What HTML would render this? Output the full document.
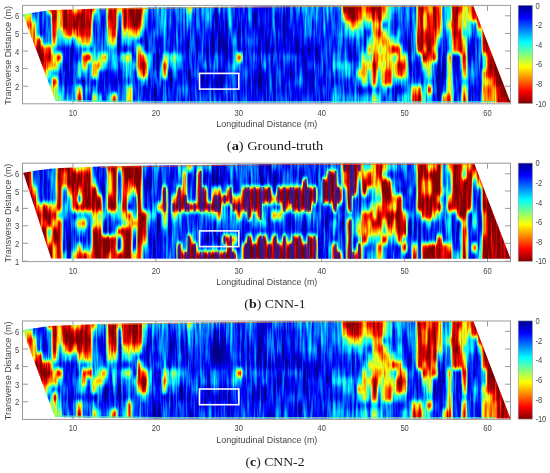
<!DOCTYPE html>
<html><head><meta charset="utf-8"><style>
html,body{margin:0;padding:0;background:#fff;width:550px;height:473px;overflow:hidden}
svg{display:block}
.t{font-family:"Liberation Sans",Arial,sans-serif;font-size:8.6px;fill:#444}
.l{font-family:"Liberation Sans",Arial,sans-serif;font-size:8.7px;fill:#444}
.cap{font-family:"Liberation Serif","Times New Roman",serif;font-size:13.2px;fill:#1a1a1a}
</style></head><body>
<svg width="550" height="473" viewBox="0 0 550 473">
<defs>
<linearGradient id="jet" x1="0" y1="0" x2="0" y2="1">
<stop offset="0" stop-color="#00008f"/><stop offset="0.125" stop-color="#0000ff"/>
<stop offset="0.375" stop-color="#00ffff"/><stop offset="0.625" stop-color="#ffff00"/>
<stop offset="0.875" stop-color="#ff0000"/><stop offset="1" stop-color="#800000"/>
</linearGradient>
<filter id="bl0" x="-2%" y="-5%" width="104%" height="110%" color-interpolation-filters="sRGB"><feGaussianBlur stdDeviation="1.3 2.2" result="b"/><feTurbulence type="fractalNoise" baseFrequency="0.42 0.03" numOctaves="2" seed="7" result="n"/><feColorMatrix in="n" type="matrix" values="1 0 0 0 0 1 0 0 0 0 1 0 0 0 0 0 0 0 0 1" result="ng"/><feComposite in="b" in2="ng" operator="arithmetic" k1="0" k2="1" k3="0.5" k4="-0.250" result="s"/><feComponentTransfer in="s"><feFuncR type="table" tableValues="0 0 0 0 0.5 1 1 1 0.5"/><feFuncG type="table" tableValues="0 0 0.5 1 1 1 0.5 0 0"/><feFuncB type="table" tableValues="0.5 1 1 1 0.5 0 0 0 0"/></feComponentTransfer></filter>
<filter id="bl1" x="-2%" y="-5%" width="104%" height="110%" color-interpolation-filters="sRGB"><feGaussianBlur stdDeviation="0.9 2.4" result="b"/><feTurbulence type="fractalNoise" baseFrequency="0.42 0.03" numOctaves="2" seed="11" result="n"/><feColorMatrix in="n" type="matrix" values="1 0 0 0 0 1 0 0 0 0 1 0 0 0 0 0 0 0 0 1" result="ng"/><feComposite in="b" in2="ng" operator="arithmetic" k1="0" k2="1" k3="0.5" k4="-0.250" result="s"/><feComponentTransfer in="s"><feFuncR type="table" tableValues="0 0 0 0 0.5 1 1 1 0.5"/><feFuncG type="table" tableValues="0 0 0.5 1 1 1 0.5 0 0"/><feFuncB type="table" tableValues="0.5 1 1 1 0.5 0 0 0 0"/></feComponentTransfer></filter>
<filter id="bl2" x="-2%" y="-5%" width="104%" height="110%" color-interpolation-filters="sRGB"><feGaussianBlur stdDeviation="1.3 2.2" result="b"/><feTurbulence type="fractalNoise" baseFrequency="0.42 0.03" numOctaves="2" seed="7" result="n"/><feColorMatrix in="n" type="matrix" values="1 0 0 0 0 1 0 0 0 0 1 0 0 0 0 0 0 0 0 1" result="ng"/><feComposite in="b" in2="ng" operator="arithmetic" k1="0" k2="1" k3="0.5" k4="-0.250" result="s"/><feComponentTransfer in="s"><feFuncR type="table" tableValues="0 0 0 0 0.5 1 1 1 0.5"/><feFuncG type="table" tableValues="0 0 0.5 1 1 1 0.5 0 0"/><feFuncB type="table" tableValues="0.5 1 1 1 0.5 0 0 0 0"/></feComponentTransfer></filter>
<clipPath id="cp0"><polygon points="22.8,14.2 36.4,12.3 49.5,10.3 61.0,9.8 74.0,9.4 100.0,8.5 150.0,7.6 200.0,7.0 300.0,5.9 473.3,5.8 510.6,102.6 160.0,102.6 100.0,102.0 55.5,101.1"/></clipPath>
<clipPath id="cp1"><polygon points="23.3,172.8 36.4,170.6 50.5,168.7 61.0,168.0 74.0,167.5 100.0,166.6 150.0,165.6 200.0,164.9 300.0,163.8 474.4,163.7 510.6,258.8 51.1,258.5"/></clipPath>
<clipPath id="cp2"><polygon points="22.7,330.1 36.4,328.1 49.5,326.0 61.0,325.4 74.0,325.0 100.0,324.0 150.0,323.0 200.0,322.4 300.0,321.2 473.3,320.9 510.5,418.6 160.0,418.6 100.0,417.8 54.8,417.0"/></clipPath>
</defs>
<rect x="22.5" y="5.4" width="488.0" height="98.39999999999999" fill="none" stroke="#999" stroke-width="1"/>
<line x1="22.5" y1="15.8" x2="28.0" y2="15.8" stroke="#999" stroke-width="1"/>
<line x1="510.5" y1="15.8" x2="505.0" y2="15.8" stroke="#999" stroke-width="1"/>
<text x="19.3" y="19.3" text-anchor="end" class="t" textLength="4.21" lengthAdjust="spacingAndGlyphs">6</text>
<line x1="22.5" y1="33.4" x2="28.0" y2="33.4" stroke="#999" stroke-width="1"/>
<line x1="510.5" y1="33.4" x2="505.0" y2="33.4" stroke="#999" stroke-width="1"/>
<text x="19.3" y="36.9" text-anchor="end" class="t" textLength="4.21" lengthAdjust="spacingAndGlyphs">5</text>
<line x1="22.5" y1="51.0" x2="28.0" y2="51.0" stroke="#999" stroke-width="1"/>
<line x1="510.5" y1="51.0" x2="505.0" y2="51.0" stroke="#999" stroke-width="1"/>
<text x="19.3" y="54.5" text-anchor="end" class="t" textLength="4.21" lengthAdjust="spacingAndGlyphs">4</text>
<line x1="22.5" y1="68.6" x2="28.0" y2="68.6" stroke="#999" stroke-width="1"/>
<line x1="510.5" y1="68.6" x2="505.0" y2="68.6" stroke="#999" stroke-width="1"/>
<text x="19.3" y="72.1" text-anchor="end" class="t" textLength="4.21" lengthAdjust="spacingAndGlyphs">3</text>
<line x1="22.5" y1="86.2" x2="28.0" y2="86.2" stroke="#999" stroke-width="1"/>
<line x1="510.5" y1="86.2" x2="505.0" y2="86.2" stroke="#999" stroke-width="1"/>
<text x="19.3" y="89.7" text-anchor="end" class="t" textLength="4.21" lengthAdjust="spacingAndGlyphs">2</text>
<line x1="73.0" y1="103.8" x2="73.0" y2="98.3" stroke="#999" stroke-width="1"/>
<line x1="73.0" y1="5.4" x2="73.0" y2="10.9" stroke="#999" stroke-width="1"/>
<text x="73.0" y="115.8" text-anchor="middle" class="t" textLength="8.42" lengthAdjust="spacingAndGlyphs">10</text>
<line x1="155.9" y1="103.8" x2="155.9" y2="98.3" stroke="#999" stroke-width="1"/>
<line x1="155.9" y1="5.4" x2="155.9" y2="10.9" stroke="#999" stroke-width="1"/>
<text x="155.9" y="115.8" text-anchor="middle" class="t" textLength="8.42" lengthAdjust="spacingAndGlyphs">20</text>
<line x1="238.8" y1="103.8" x2="238.8" y2="98.3" stroke="#999" stroke-width="1"/>
<line x1="238.8" y1="5.4" x2="238.8" y2="10.9" stroke="#999" stroke-width="1"/>
<text x="238.8" y="115.8" text-anchor="middle" class="t" textLength="8.42" lengthAdjust="spacingAndGlyphs">30</text>
<line x1="321.70000000000005" y1="103.8" x2="321.70000000000005" y2="98.3" stroke="#999" stroke-width="1"/>
<line x1="321.70000000000005" y1="5.4" x2="321.70000000000005" y2="10.9" stroke="#999" stroke-width="1"/>
<text x="321.7" y="115.8" text-anchor="middle" class="t" textLength="8.42" lengthAdjust="spacingAndGlyphs">40</text>
<line x1="404.6" y1="103.8" x2="404.6" y2="98.3" stroke="#999" stroke-width="1"/>
<line x1="404.6" y1="5.4" x2="404.6" y2="10.9" stroke="#999" stroke-width="1"/>
<text x="404.6" y="115.8" text-anchor="middle" class="t" textLength="8.42" lengthAdjust="spacingAndGlyphs">50</text>
<line x1="487.5" y1="103.8" x2="487.5" y2="98.3" stroke="#999" stroke-width="1"/>
<line x1="487.5" y1="5.4" x2="487.5" y2="10.9" stroke="#999" stroke-width="1"/>
<text x="487.5" y="115.8" text-anchor="middle" class="t" textLength="8.42" lengthAdjust="spacingAndGlyphs">60</text>
<text x="266.8" y="126.9" text-anchor="middle" class="l" textLength="101" lengthAdjust="spacingAndGlyphs">Longitudinal Distance (m)</text>
<text transform="translate(11.3,55.3) rotate(-90)" x="0" y="0" text-anchor="middle" class="l" textLength="98.7" lengthAdjust="spacingAndGlyphs">Transverse Distance (m)</text>
<rect x="518.2" y="5.3" width="14.2" height="98.2" fill="url(#jet)" stroke="#999" stroke-width="0.6"/>
<text x="535.4" y="8.6" class="t" textLength="4.21" lengthAdjust="spacingAndGlyphs">0</text>
<text x="535.4" y="28.2" class="t" textLength="6.73" lengthAdjust="spacingAndGlyphs">-2</text>
<text x="535.4" y="47.8" class="t" textLength="6.73" lengthAdjust="spacingAndGlyphs">-4</text>
<text x="535.4" y="67.4" class="t" textLength="6.73" lengthAdjust="spacingAndGlyphs">-6</text>
<text x="535.4" y="87.0" class="t" textLength="6.73" lengthAdjust="spacingAndGlyphs">-8</text>
<text x="535.4" y="106.6" class="t" textLength="10.94" lengthAdjust="spacingAndGlyphs">-10</text>
<text x="275" y="150.4" text-anchor="middle" class="cap" textLength="96.3" lengthAdjust="spacingAndGlyphs">(<tspan font-weight="bold">a</tspan>) Ground-truth</text><g clip-path="url(#cp0)"><g filter="url(#bl0)"><rect x="18.0" y="1.0" width="9.5" height="12.6" fill="#5c5c5c"/>
<rect x="18.0" y="13.1" width="9.5" height="8.6" fill="#808080"/>
<rect x="18.0" y="21.2" width="9.5" height="8.6" fill="#999999"/>
<rect x="18.0" y="29.2" width="9.5" height="24.8" fill="#b8b8b8"/>
<rect x="18.0" y="53.5" width="9.5" height="16.7" fill="#fbfbfb"/>
<rect x="18.0" y="69.7" width="9.5" height="8.6" fill="#e6e6e6"/>
<rect x="18.0" y="77.8" width="9.5" height="28.8" fill="#999999"/>
<rect x="27.0" y="1.0" width="5.5" height="12.6" fill="#333333"/>
<rect x="27.0" y="13.1" width="5.5" height="8.6" fill="#b8b8b8"/>
<rect x="27.0" y="21.2" width="5.5" height="8.6" fill="#e6e6e6"/>
<rect x="27.0" y="29.2" width="5.5" height="16.7" fill="#b8b8b8"/>
<rect x="27.0" y="45.4" width="5.5" height="24.8" fill="#fbfbfb"/>
<rect x="27.0" y="69.7" width="5.5" height="8.6" fill="#e6e6e6"/>
<rect x="27.0" y="77.8" width="5.5" height="28.8" fill="#999999"/>
<rect x="32.0" y="1.0" width="5.5" height="12.6" fill="#242424"/>
<rect x="32.0" y="13.1" width="5.5" height="8.6" fill="#454545"/>
<rect x="32.0" y="21.2" width="5.5" height="8.6" fill="#999999"/>
<rect x="32.0" y="29.2" width="5.5" height="16.7" fill="#b8b8b8"/>
<rect x="32.0" y="45.4" width="5.5" height="24.8" fill="#fbfbfb"/>
<rect x="32.0" y="69.7" width="5.5" height="8.6" fill="#e6e6e6"/>
<rect x="32.0" y="77.8" width="5.5" height="28.8" fill="#999999"/>
<rect x="37.0" y="1.0" width="5.5" height="36.8" fill="#242424"/>
<rect x="37.0" y="37.3" width="5.5" height="8.6" fill="#e6e6e6"/>
<rect x="37.0" y="45.4" width="5.5" height="24.8" fill="#fbfbfb"/>
<rect x="37.0" y="69.7" width="5.5" height="8.6" fill="#b8b8b8"/>
<rect x="37.0" y="77.8" width="5.5" height="28.8" fill="#999999"/>
<rect x="42.0" y="1.0" width="5.5" height="36.8" fill="#242424"/>
<rect x="42.0" y="37.3" width="5.5" height="8.6" fill="#454545"/>
<rect x="42.0" y="45.4" width="5.5" height="8.6" fill="#e6e6e6"/>
<rect x="42.0" y="53.5" width="5.5" height="8.6" fill="#fbfbfb"/>
<rect x="42.0" y="61.6" width="5.5" height="8.6" fill="#e6e6e6"/>
<rect x="42.0" y="69.7" width="5.5" height="8.6" fill="#b8b8b8"/>
<rect x="42.0" y="77.8" width="5.5" height="28.8" fill="#999999"/>
<rect x="47.0" y="1.0" width="5.5" height="12.6" fill="#e6e6e6"/>
<rect x="47.0" y="13.1" width="5.5" height="32.8" fill="#454545"/>
<rect x="47.0" y="45.4" width="5.5" height="8.6" fill="#e6e6e6"/>
<rect x="47.0" y="53.5" width="5.5" height="8.6" fill="#fbfbfb"/>
<rect x="47.0" y="61.6" width="5.5" height="8.6" fill="#b8b8b8"/>
<rect x="47.0" y="69.7" width="5.5" height="8.6" fill="#5c5c5c"/>
<rect x="47.0" y="77.8" width="5.5" height="8.6" fill="#242424"/>
<rect x="47.0" y="85.8" width="5.5" height="8.6" fill="#808080"/>
<rect x="47.0" y="93.9" width="5.5" height="12.6" fill="#999999"/>
<rect x="52.0" y="1.0" width="5.5" height="12.6" fill="#e6e6e6"/>
<rect x="52.0" y="13.1" width="5.5" height="8.6" fill="#fbfbfb"/>
<rect x="52.0" y="21.2" width="5.5" height="16.7" fill="#e6e6e6"/>
<rect x="52.0" y="37.3" width="5.5" height="8.6" fill="#b8b8b8"/>
<rect x="52.0" y="45.4" width="5.5" height="8.6" fill="#454545"/>
<rect x="52.0" y="53.5" width="5.5" height="8.6" fill="#999999"/>
<rect x="52.0" y="61.6" width="5.5" height="8.6" fill="#b8b8b8"/>
<rect x="52.0" y="69.7" width="5.5" height="8.6" fill="#333333"/>
<rect x="52.0" y="77.8" width="5.5" height="8.6" fill="#e6e6e6"/>
<rect x="52.0" y="85.8" width="5.5" height="20.7" fill="#999999"/>
<rect x="57.0" y="1.0" width="5.5" height="12.6" fill="#b8b8b8"/>
<rect x="57.0" y="13.1" width="5.5" height="16.7" fill="#999999"/>
<rect x="57.0" y="29.2" width="5.5" height="8.6" fill="#5c5c5c"/>
<rect x="57.0" y="37.3" width="5.5" height="8.6" fill="#454545"/>
<rect x="57.0" y="45.4" width="5.5" height="8.6" fill="#242424"/>
<rect x="57.0" y="53.5" width="5.5" height="8.6" fill="#e6e6e6"/>
<rect x="57.0" y="61.6" width="5.5" height="8.6" fill="#5c5c5c"/>
<rect x="57.0" y="69.7" width="5.5" height="8.6" fill="#333333"/>
<rect x="57.0" y="77.8" width="5.5" height="8.6" fill="#454545"/>
<rect x="57.0" y="85.8" width="5.5" height="8.6" fill="#5c5c5c"/>
<rect x="57.0" y="93.9" width="5.5" height="12.6" fill="#808080"/>
<rect x="62.0" y="1.0" width="5.5" height="12.6" fill="#e6e6e6"/>
<rect x="62.0" y="13.1" width="5.5" height="16.7" fill="#fbfbfb"/>
<rect x="62.0" y="29.2" width="5.5" height="8.6" fill="#b8b8b8"/>
<rect x="62.0" y="37.3" width="5.5" height="8.6" fill="#5c5c5c"/>
<rect x="62.0" y="45.4" width="5.5" height="16.7" fill="#242424"/>
<rect x="62.0" y="61.6" width="5.5" height="8.6" fill="#141414"/>
<rect x="62.0" y="69.7" width="5.5" height="16.7" fill="#242424"/>
<rect x="62.0" y="85.8" width="5.5" height="20.7" fill="#454545"/>
<rect x="67.0" y="1.0" width="5.5" height="12.6" fill="#e6e6e6"/>
<rect x="67.0" y="13.1" width="5.5" height="16.7" fill="#fbfbfb"/>
<rect x="67.0" y="29.2" width="5.5" height="8.6" fill="#e6e6e6"/>
<rect x="67.0" y="37.3" width="5.5" height="8.6" fill="#5c5c5c"/>
<rect x="67.0" y="45.4" width="5.5" height="40.9" fill="#141414"/>
<rect x="67.0" y="85.8" width="5.5" height="8.6" fill="#242424"/>
<rect x="67.0" y="93.9" width="5.5" height="12.6" fill="#454545"/>
<rect x="72.0" y="1.0" width="5.5" height="12.6" fill="#999999"/>
<rect x="72.0" y="13.1" width="5.5" height="8.6" fill="#e6e6e6"/>
<rect x="72.0" y="21.2" width="5.5" height="8.6" fill="#fbfbfb"/>
<rect x="72.0" y="29.2" width="5.5" height="8.6" fill="#b8b8b8"/>
<rect x="72.0" y="37.3" width="5.5" height="8.6" fill="#454545"/>
<rect x="72.0" y="45.4" width="5.5" height="16.7" fill="#242424"/>
<rect x="72.0" y="61.6" width="5.5" height="8.6" fill="#333333"/>
<rect x="72.0" y="69.7" width="5.5" height="16.7" fill="#242424"/>
<rect x="72.0" y="85.8" width="5.5" height="20.7" fill="#454545"/>
<rect x="77.0" y="1.0" width="5.5" height="12.6" fill="#b8b8b8"/>
<rect x="77.0" y="13.1" width="5.5" height="16.7" fill="#fbfbfb"/>
<rect x="77.0" y="29.2" width="5.5" height="8.6" fill="#e6e6e6"/>
<rect x="77.0" y="37.3" width="5.5" height="8.6" fill="#999999"/>
<rect x="77.0" y="45.4" width="5.5" height="8.6" fill="#454545"/>
<rect x="77.0" y="53.5" width="5.5" height="8.6" fill="#333333"/>
<rect x="77.0" y="61.6" width="5.5" height="16.7" fill="#5c5c5c"/>
<rect x="77.0" y="77.8" width="5.5" height="8.6" fill="#242424"/>
<rect x="77.0" y="85.8" width="5.5" height="8.6" fill="#b8b8b8"/>
<rect x="77.0" y="93.9" width="5.5" height="12.6" fill="#fbfbfb"/>
<rect x="82.0" y="1.0" width="5.5" height="12.6" fill="#e6e6e6"/>
<rect x="82.0" y="13.1" width="5.5" height="16.7" fill="#fbfbfb"/>
<rect x="82.0" y="29.2" width="5.5" height="8.6" fill="#e6e6e6"/>
<rect x="82.0" y="37.3" width="5.5" height="8.6" fill="#b8b8b8"/>
<rect x="82.0" y="45.4" width="5.5" height="8.6" fill="#333333"/>
<rect x="82.0" y="53.5" width="5.5" height="8.6" fill="#e6e6e6"/>
<rect x="82.0" y="61.6" width="5.5" height="8.6" fill="#b8b8b8"/>
<rect x="82.0" y="69.7" width="5.5" height="8.6" fill="#454545"/>
<rect x="82.0" y="77.8" width="5.5" height="8.6" fill="#242424"/>
<rect x="82.0" y="85.8" width="5.5" height="8.6" fill="#454545"/>
<rect x="82.0" y="93.9" width="5.5" height="12.6" fill="#333333"/>
<rect x="87.0" y="1.0" width="5.5" height="20.7" fill="#e6e6e6"/>
<rect x="87.0" y="21.2" width="5.5" height="8.6" fill="#fbfbfb"/>
<rect x="87.0" y="29.2" width="5.5" height="8.6" fill="#e6e6e6"/>
<rect x="87.0" y="37.3" width="5.5" height="8.6" fill="#b8b8b8"/>
<rect x="87.0" y="45.4" width="5.5" height="8.6" fill="#5c5c5c"/>
<rect x="87.0" y="53.5" width="5.5" height="8.6" fill="#fbfbfb"/>
<rect x="87.0" y="61.6" width="5.5" height="8.6" fill="#454545"/>
<rect x="87.0" y="69.7" width="5.5" height="8.6" fill="#333333"/>
<rect x="87.0" y="77.8" width="5.5" height="8.6" fill="#242424"/>
<rect x="87.0" y="85.8" width="5.5" height="8.6" fill="#333333"/>
<rect x="87.0" y="93.9" width="5.5" height="12.6" fill="#242424"/>
<rect x="92.0" y="1.0" width="5.5" height="12.6" fill="#b8b8b8"/>
<rect x="92.0" y="13.1" width="5.5" height="8.6" fill="#454545"/>
<rect x="92.0" y="21.2" width="5.5" height="16.7" fill="#242424"/>
<rect x="92.0" y="37.3" width="5.5" height="8.6" fill="#333333"/>
<rect x="92.0" y="45.4" width="5.5" height="8.6" fill="#454545"/>
<rect x="92.0" y="53.5" width="5.5" height="8.6" fill="#5c5c5c"/>
<rect x="92.0" y="61.6" width="5.5" height="16.7" fill="#b8b8b8"/>
<rect x="92.0" y="77.8" width="5.5" height="8.6" fill="#141414"/>
<rect x="92.0" y="85.8" width="5.5" height="8.6" fill="#454545"/>
<rect x="92.0" y="93.9" width="5.5" height="12.6" fill="#999999"/>
<rect x="97.0" y="1.0" width="5.5" height="20.7" fill="#454545"/>
<rect x="97.0" y="21.2" width="5.5" height="16.7" fill="#333333"/>
<rect x="97.0" y="37.3" width="5.5" height="16.7" fill="#454545"/>
<rect x="97.0" y="53.5" width="5.5" height="8.6" fill="#808080"/>
<rect x="97.0" y="61.6" width="5.5" height="8.6" fill="#b8b8b8"/>
<rect x="97.0" y="69.7" width="5.5" height="8.6" fill="#454545"/>
<rect x="97.0" y="77.8" width="5.5" height="8.6" fill="#333333"/>
<rect x="97.0" y="85.8" width="5.5" height="8.6" fill="#242424"/>
<rect x="97.0" y="93.9" width="5.5" height="12.6" fill="#5c5c5c"/>
<rect x="102.0" y="1.0" width="5.5" height="12.6" fill="#333333"/>
<rect x="102.0" y="13.1" width="5.5" height="32.8" fill="#242424"/>
<rect x="102.0" y="45.4" width="5.5" height="8.6" fill="#333333"/>
<rect x="102.0" y="53.5" width="5.5" height="8.6" fill="#b8b8b8"/>
<rect x="102.0" y="61.6" width="5.5" height="8.6" fill="#5c5c5c"/>
<rect x="102.0" y="69.7" width="5.5" height="16.7" fill="#141414"/>
<rect x="102.0" y="85.8" width="5.5" height="20.7" fill="#242424"/>
<rect x="107.0" y="1.0" width="5.5" height="12.6" fill="#e6e6e6"/>
<rect x="107.0" y="13.1" width="5.5" height="8.6" fill="#fbfbfb"/>
<rect x="107.0" y="21.2" width="5.5" height="8.6" fill="#e6e6e6"/>
<rect x="107.0" y="29.2" width="5.5" height="8.6" fill="#b8b8b8"/>
<rect x="107.0" y="37.3" width="5.5" height="8.6" fill="#999999"/>
<rect x="107.0" y="45.4" width="5.5" height="16.7" fill="#454545"/>
<rect x="107.0" y="61.6" width="5.5" height="8.6" fill="#333333"/>
<rect x="107.0" y="69.7" width="5.5" height="16.7" fill="#141414"/>
<rect x="107.0" y="85.8" width="5.5" height="8.6" fill="#242424"/>
<rect x="107.0" y="93.9" width="5.5" height="12.6" fill="#5c5c5c"/>
<rect x="112.0" y="1.0" width="5.5" height="28.8" fill="#fbfbfb"/>
<rect x="112.0" y="29.2" width="5.5" height="8.6" fill="#e6e6e6"/>
<rect x="112.0" y="37.3" width="5.5" height="8.6" fill="#999999"/>
<rect x="112.0" y="45.4" width="5.5" height="8.6" fill="#454545"/>
<rect x="112.0" y="53.5" width="5.5" height="16.7" fill="#5c5c5c"/>
<rect x="112.0" y="69.7" width="5.5" height="8.6" fill="#333333"/>
<rect x="112.0" y="77.8" width="5.5" height="8.6" fill="#242424"/>
<rect x="112.0" y="85.8" width="5.5" height="8.6" fill="#333333"/>
<rect x="112.0" y="93.9" width="5.5" height="12.6" fill="#e6e6e6"/>
<rect x="117.0" y="1.0" width="5.5" height="12.6" fill="#999999"/>
<rect x="117.0" y="13.1" width="5.5" height="8.6" fill="#333333"/>
<rect x="117.0" y="21.2" width="5.5" height="8.6" fill="#242424"/>
<rect x="117.0" y="29.2" width="5.5" height="24.8" fill="#141414"/>
<rect x="117.0" y="53.5" width="5.5" height="8.6" fill="#333333"/>
<rect x="117.0" y="61.6" width="5.5" height="8.6" fill="#242424"/>
<rect x="117.0" y="69.7" width="5.5" height="16.7" fill="#141414"/>
<rect x="117.0" y="85.8" width="5.5" height="8.6" fill="#242424"/>
<rect x="117.0" y="93.9" width="5.5" height="12.6" fill="#333333"/>
<rect x="122.0" y="1.0" width="5.5" height="28.8" fill="#e6e6e6"/>
<rect x="122.0" y="29.2" width="5.5" height="8.6" fill="#999999"/>
<rect x="122.0" y="37.3" width="5.5" height="8.6" fill="#5c5c5c"/>
<rect x="122.0" y="45.4" width="5.5" height="8.6" fill="#242424"/>
<rect x="122.0" y="53.5" width="5.5" height="8.6" fill="#999999"/>
<rect x="122.0" y="61.6" width="5.5" height="8.6" fill="#5c5c5c"/>
<rect x="122.0" y="69.7" width="5.5" height="8.6" fill="#454545"/>
<rect x="122.0" y="77.8" width="5.5" height="8.6" fill="#242424"/>
<rect x="122.0" y="85.8" width="5.5" height="8.6" fill="#333333"/>
<rect x="122.0" y="93.9" width="5.5" height="12.6" fill="#454545"/>
<rect x="127.0" y="1.0" width="5.5" height="20.7" fill="#fbfbfb"/>
<rect x="127.0" y="21.2" width="5.5" height="8.6" fill="#e6e6e6"/>
<rect x="127.0" y="29.2" width="5.5" height="8.6" fill="#999999"/>
<rect x="127.0" y="37.3" width="5.5" height="8.6" fill="#5c5c5c"/>
<rect x="127.0" y="45.4" width="5.5" height="8.6" fill="#242424"/>
<rect x="127.0" y="53.5" width="5.5" height="8.6" fill="#999999"/>
<rect x="127.0" y="61.6" width="5.5" height="16.7" fill="#5c5c5c"/>
<rect x="127.0" y="77.8" width="5.5" height="8.6" fill="#454545"/>
<rect x="127.0" y="85.8" width="5.5" height="20.7" fill="#b8b8b8"/>
<rect x="132.0" y="1.0" width="5.5" height="28.8" fill="#fbfbfb"/>
<rect x="132.0" y="29.2" width="5.5" height="8.6" fill="#b8b8b8"/>
<rect x="132.0" y="37.3" width="5.5" height="8.6" fill="#454545"/>
<rect x="132.0" y="45.4" width="5.5" height="8.6" fill="#333333"/>
<rect x="132.0" y="53.5" width="5.5" height="8.6" fill="#141414"/>
<rect x="132.0" y="61.6" width="5.5" height="8.6" fill="#454545"/>
<rect x="132.0" y="69.7" width="5.5" height="16.7" fill="#242424"/>
<rect x="132.0" y="85.8" width="5.5" height="20.7" fill="#333333"/>
<rect x="137.0" y="1.0" width="5.5" height="20.7" fill="#fbfbfb"/>
<rect x="137.0" y="21.2" width="5.5" height="8.6" fill="#e6e6e6"/>
<rect x="137.0" y="29.2" width="5.5" height="8.6" fill="#999999"/>
<rect x="137.0" y="37.3" width="5.5" height="8.6" fill="#333333"/>
<rect x="137.0" y="45.4" width="5.5" height="8.6" fill="#b8b8b8"/>
<rect x="137.0" y="53.5" width="5.5" height="16.7" fill="#e6e6e6"/>
<rect x="137.0" y="69.7" width="5.5" height="8.6" fill="#b8b8b8"/>
<rect x="137.0" y="77.8" width="5.5" height="8.6" fill="#454545"/>
<rect x="137.0" y="85.8" width="5.5" height="20.7" fill="#333333"/>
<rect x="142.0" y="1.0" width="5.5" height="12.6" fill="#999999"/>
<rect x="142.0" y="13.1" width="5.5" height="8.6" fill="#5c5c5c"/>
<rect x="142.0" y="21.2" width="5.5" height="8.6" fill="#454545"/>
<rect x="142.0" y="29.2" width="5.5" height="16.7" fill="#242424"/>
<rect x="142.0" y="45.4" width="5.5" height="8.6" fill="#333333"/>
<rect x="142.0" y="53.5" width="5.5" height="8.6" fill="#b8b8b8"/>
<rect x="142.0" y="61.6" width="5.5" height="8.6" fill="#fbfbfb"/>
<rect x="142.0" y="69.7" width="5.5" height="8.6" fill="#e6e6e6"/>
<rect x="142.0" y="77.8" width="5.5" height="8.6" fill="#5c5c5c"/>
<rect x="142.0" y="85.8" width="5.5" height="20.7" fill="#242424"/>
<rect x="147.0" y="1.0" width="5.5" height="12.6" fill="#333333"/>
<rect x="147.0" y="13.1" width="5.5" height="40.9" fill="#242424"/>
<rect x="147.0" y="53.5" width="5.5" height="16.7" fill="#5c5c5c"/>
<rect x="147.0" y="69.7" width="5.5" height="8.6" fill="#454545"/>
<rect x="147.0" y="77.8" width="5.5" height="28.8" fill="#242424"/>
<rect x="152.0" y="1.0" width="5.5" height="20.7" fill="#454545"/>
<rect x="152.0" y="21.2" width="5.5" height="8.6" fill="#333333"/>
<rect x="152.0" y="29.2" width="5.5" height="8.6" fill="#454545"/>
<rect x="152.0" y="37.3" width="5.5" height="16.7" fill="#333333"/>
<rect x="152.0" y="53.5" width="5.5" height="16.7" fill="#141414"/>
<rect x="152.0" y="69.7" width="5.5" height="16.7" fill="#242424"/>
<rect x="152.0" y="85.8" width="5.5" height="20.7" fill="#141414"/>
<rect x="157.0" y="1.0" width="5.5" height="12.6" fill="#454545"/>
<rect x="157.0" y="13.1" width="5.5" height="24.8" fill="#333333"/>
<rect x="157.0" y="37.3" width="5.5" height="8.6" fill="#242424"/>
<rect x="157.0" y="45.4" width="5.5" height="8.6" fill="#333333"/>
<rect x="157.0" y="53.5" width="5.5" height="16.7" fill="#141414"/>
<rect x="157.0" y="69.7" width="5.5" height="16.7" fill="#242424"/>
<rect x="157.0" y="85.8" width="5.5" height="20.7" fill="#141414"/>
<rect x="162.0" y="1.0" width="5.5" height="53.0" fill="#454545"/>
<rect x="162.0" y="53.5" width="5.5" height="8.6" fill="#999999"/>
<rect x="162.0" y="61.6" width="5.5" height="8.6" fill="#e6e6e6"/>
<rect x="162.0" y="69.7" width="5.5" height="8.6" fill="#b8b8b8"/>
<rect x="162.0" y="77.8" width="5.5" height="8.6" fill="#242424"/>
<rect x="162.0" y="85.8" width="5.5" height="8.6" fill="#333333"/>
<rect x="162.0" y="93.9" width="5.5" height="12.6" fill="#454545"/>
<rect x="167.0" y="1.0" width="5.5" height="12.6" fill="#333333"/>
<rect x="167.0" y="13.1" width="5.5" height="32.8" fill="#242424"/>
<rect x="167.0" y="45.4" width="5.5" height="8.6" fill="#141414"/>
<rect x="167.0" y="53.5" width="5.5" height="8.6" fill="#5c5c5c"/>
<rect x="167.0" y="61.6" width="5.5" height="8.6" fill="#454545"/>
<rect x="167.0" y="69.7" width="5.5" height="16.7" fill="#141414"/>
<rect x="167.0" y="85.8" width="5.5" height="20.7" fill="#242424"/>
<rect x="172.0" y="1.0" width="5.5" height="12.6" fill="#333333"/>
<rect x="172.0" y="13.1" width="5.5" height="32.8" fill="#242424"/>
<rect x="172.0" y="45.4" width="5.5" height="8.6" fill="#333333"/>
<rect x="172.0" y="53.5" width="5.5" height="8.6" fill="#808080"/>
<rect x="172.0" y="61.6" width="5.5" height="8.6" fill="#5c5c5c"/>
<rect x="172.0" y="69.7" width="5.5" height="8.6" fill="#454545"/>
<rect x="172.0" y="77.8" width="5.5" height="28.8" fill="#242424"/>
<rect x="177.0" y="1.0" width="5.5" height="20.7" fill="#454545"/>
<rect x="177.0" y="21.2" width="5.5" height="16.7" fill="#333333"/>
<rect x="177.0" y="37.3" width="5.5" height="8.6" fill="#454545"/>
<rect x="177.0" y="45.4" width="5.5" height="8.6" fill="#333333"/>
<rect x="177.0" y="53.5" width="5.5" height="8.6" fill="#5c5c5c"/>
<rect x="177.0" y="61.6" width="5.5" height="8.6" fill="#454545"/>
<rect x="177.0" y="69.7" width="5.5" height="16.7" fill="#141414"/>
<rect x="177.0" y="85.8" width="5.5" height="20.7" fill="#333333"/>
<rect x="182.0" y="1.0" width="5.5" height="12.6" fill="#333333"/>
<rect x="182.0" y="13.1" width="5.5" height="40.9" fill="#242424"/>
<rect x="182.0" y="53.5" width="5.5" height="8.6" fill="#333333"/>
<rect x="182.0" y="61.6" width="5.5" height="8.6" fill="#242424"/>
<rect x="182.0" y="69.7" width="5.5" height="16.7" fill="#141414"/>
<rect x="182.0" y="85.8" width="5.5" height="20.7" fill="#242424"/>
<rect x="187.0" y="1.0" width="5.5" height="12.6" fill="#999999"/>
<rect x="187.0" y="13.1" width="5.5" height="8.6" fill="#5c5c5c"/>
<rect x="187.0" y="21.2" width="5.5" height="8.6" fill="#454545"/>
<rect x="187.0" y="29.2" width="5.5" height="8.6" fill="#333333"/>
<rect x="187.0" y="37.3" width="5.5" height="32.8" fill="#242424"/>
<rect x="187.0" y="69.7" width="5.5" height="16.7" fill="#141414"/>
<rect x="187.0" y="85.8" width="5.5" height="20.7" fill="#242424"/>
<rect x="192.0" y="1.0" width="5.5" height="12.6" fill="#454545"/>
<rect x="192.0" y="13.1" width="5.5" height="8.6" fill="#333333"/>
<rect x="192.0" y="21.2" width="5.5" height="40.9" fill="#242424"/>
<rect x="192.0" y="61.6" width="5.5" height="8.6" fill="#333333"/>
<rect x="192.0" y="69.7" width="5.5" height="8.6" fill="#454545"/>
<rect x="192.0" y="77.8" width="5.5" height="28.8" fill="#242424"/>
<rect x="197.0" y="1.0" width="5.5" height="28.8" fill="#454545"/>
<rect x="197.0" y="29.2" width="5.5" height="8.6" fill="#333333"/>
<rect x="197.0" y="37.3" width="5.5" height="16.7" fill="#242424"/>
<rect x="197.0" y="53.5" width="5.5" height="8.6" fill="#333333"/>
<rect x="197.0" y="61.6" width="5.5" height="32.8" fill="#242424"/>
<rect x="197.0" y="93.9" width="5.5" height="12.6" fill="#333333"/>
<rect x="202.0" y="1.0" width="5.5" height="12.6" fill="#454545"/>
<rect x="202.0" y="13.1" width="5.5" height="8.6" fill="#333333"/>
<rect x="202.0" y="21.2" width="5.5" height="32.8" fill="#242424"/>
<rect x="202.0" y="53.5" width="5.5" height="8.6" fill="#333333"/>
<rect x="202.0" y="61.6" width="5.5" height="8.6" fill="#454545"/>
<rect x="202.0" y="69.7" width="5.5" height="16.7" fill="#141414"/>
<rect x="202.0" y="85.8" width="5.5" height="8.6" fill="#242424"/>
<rect x="202.0" y="93.9" width="5.5" height="12.6" fill="#333333"/>
<rect x="207.0" y="1.0" width="5.5" height="20.7" fill="#454545"/>
<rect x="207.0" y="21.2" width="5.5" height="8.6" fill="#333333"/>
<rect x="207.0" y="29.2" width="5.5" height="40.9" fill="#242424"/>
<rect x="207.0" y="69.7" width="5.5" height="16.7" fill="#141414"/>
<rect x="207.0" y="85.8" width="5.5" height="8.6" fill="#242424"/>
<rect x="207.0" y="93.9" width="5.5" height="12.6" fill="#333333"/>
<rect x="212.0" y="1.0" width="5.5" height="12.6" fill="#333333"/>
<rect x="212.0" y="13.1" width="5.5" height="40.9" fill="#141414"/>
<rect x="212.0" y="53.5" width="5.5" height="16.7" fill="#454545"/>
<rect x="212.0" y="69.7" width="5.5" height="8.6" fill="#242424"/>
<rect x="212.0" y="77.8" width="5.5" height="8.6" fill="#141414"/>
<rect x="212.0" y="85.8" width="5.5" height="8.6" fill="#242424"/>
<rect x="212.0" y="93.9" width="5.5" height="12.6" fill="#333333"/>
<rect x="217.0" y="1.0" width="5.5" height="12.6" fill="#333333"/>
<rect x="217.0" y="13.1" width="5.5" height="40.9" fill="#141414"/>
<rect x="217.0" y="53.5" width="5.5" height="16.7" fill="#242424"/>
<rect x="217.0" y="69.7" width="5.5" height="16.7" fill="#141414"/>
<rect x="217.0" y="85.8" width="5.5" height="20.7" fill="#242424"/>
<rect x="222.0" y="1.0" width="5.5" height="12.6" fill="#333333"/>
<rect x="222.0" y="13.1" width="5.5" height="8.6" fill="#242424"/>
<rect x="222.0" y="21.2" width="5.5" height="32.8" fill="#141414"/>
<rect x="222.0" y="53.5" width="5.5" height="16.7" fill="#242424"/>
<rect x="222.0" y="69.7" width="5.5" height="16.7" fill="#141414"/>
<rect x="222.0" y="85.8" width="5.5" height="20.7" fill="#242424"/>
<rect x="227.0" y="1.0" width="5.5" height="28.8" fill="#454545"/>
<rect x="227.0" y="29.2" width="5.5" height="8.6" fill="#333333"/>
<rect x="227.0" y="37.3" width="5.5" height="24.8" fill="#242424"/>
<rect x="227.0" y="61.6" width="5.5" height="8.6" fill="#333333"/>
<rect x="227.0" y="69.7" width="5.5" height="8.6" fill="#242424"/>
<rect x="227.0" y="77.8" width="5.5" height="8.6" fill="#141414"/>
<rect x="227.0" y="85.8" width="5.5" height="20.7" fill="#242424"/>
<rect x="232.0" y="1.0" width="5.5" height="36.8" fill="#333333"/>
<rect x="232.0" y="37.3" width="5.5" height="8.6" fill="#454545"/>
<rect x="232.0" y="45.4" width="5.5" height="8.6" fill="#333333"/>
<rect x="232.0" y="53.5" width="5.5" height="8.6" fill="#454545"/>
<rect x="232.0" y="61.6" width="5.5" height="8.6" fill="#5c5c5c"/>
<rect x="232.0" y="69.7" width="5.5" height="16.7" fill="#333333"/>
<rect x="232.0" y="85.8" width="5.5" height="8.6" fill="#242424"/>
<rect x="232.0" y="93.9" width="5.5" height="12.6" fill="#333333"/>
<rect x="237.0" y="1.0" width="5.5" height="20.7" fill="#242424"/>
<rect x="237.0" y="21.2" width="5.5" height="16.7" fill="#141414"/>
<rect x="237.0" y="37.3" width="5.5" height="16.7" fill="#242424"/>
<rect x="237.0" y="53.5" width="5.5" height="8.6" fill="#e6e6e6"/>
<rect x="237.0" y="61.6" width="5.5" height="8.6" fill="#454545"/>
<rect x="237.0" y="69.7" width="5.5" height="36.8" fill="#242424"/>
<rect x="242.0" y="1.0" width="5.5" height="53.0" fill="#242424"/>
<rect x="242.0" y="53.5" width="5.5" height="8.6" fill="#333333"/>
<rect x="242.0" y="61.6" width="5.5" height="32.8" fill="#242424"/>
<rect x="242.0" y="93.9" width="5.5" height="12.6" fill="#333333"/>
<rect x="247.0" y="1.0" width="5.5" height="20.7" fill="#454545"/>
<rect x="247.0" y="21.2" width="5.5" height="8.6" fill="#333333"/>
<rect x="247.0" y="29.2" width="5.5" height="8.6" fill="#242424"/>
<rect x="247.0" y="37.3" width="5.5" height="8.6" fill="#333333"/>
<rect x="247.0" y="45.4" width="5.5" height="24.8" fill="#242424"/>
<rect x="247.0" y="69.7" width="5.5" height="8.6" fill="#333333"/>
<rect x="247.0" y="77.8" width="5.5" height="28.8" fill="#242424"/>
<rect x="252.0" y="1.0" width="5.5" height="12.6" fill="#333333"/>
<rect x="252.0" y="13.1" width="5.5" height="16.7" fill="#242424"/>
<rect x="252.0" y="29.2" width="5.5" height="16.7" fill="#333333"/>
<rect x="252.0" y="45.4" width="5.5" height="8.6" fill="#242424"/>
<rect x="252.0" y="53.5" width="5.5" height="8.6" fill="#454545"/>
<rect x="252.0" y="61.6" width="5.5" height="8.6" fill="#333333"/>
<rect x="252.0" y="69.7" width="5.5" height="16.7" fill="#141414"/>
<rect x="252.0" y="85.8" width="5.5" height="20.7" fill="#242424"/>
<rect x="257.0" y="1.0" width="5.5" height="53.0" fill="#141414"/>
<rect x="257.0" y="53.5" width="5.5" height="8.6" fill="#242424"/>
<rect x="257.0" y="61.6" width="5.5" height="24.8" fill="#141414"/>
<rect x="257.0" y="85.8" width="5.5" height="20.7" fill="#242424"/>
<rect x="262.0" y="1.0" width="5.5" height="53.0" fill="#141414"/>
<rect x="262.0" y="53.5" width="5.5" height="8.6" fill="#333333"/>
<rect x="262.0" y="61.6" width="5.5" height="8.6" fill="#454545"/>
<rect x="262.0" y="69.7" width="5.5" height="16.7" fill="#141414"/>
<rect x="262.0" y="85.8" width="5.5" height="20.7" fill="#242424"/>
<rect x="267.0" y="1.0" width="5.5" height="12.6" fill="#242424"/>
<rect x="267.0" y="13.1" width="5.5" height="8.6" fill="#333333"/>
<rect x="267.0" y="21.2" width="5.5" height="24.8" fill="#242424"/>
<rect x="267.0" y="45.4" width="5.5" height="8.6" fill="#141414"/>
<rect x="267.0" y="53.5" width="5.5" height="8.6" fill="#333333"/>
<rect x="267.0" y="61.6" width="5.5" height="44.9" fill="#242424"/>
<rect x="272.0" y="1.0" width="5.5" height="12.6" fill="#454545"/>
<rect x="272.0" y="13.1" width="5.5" height="24.8" fill="#333333"/>
<rect x="272.0" y="37.3" width="5.5" height="8.6" fill="#242424"/>
<rect x="272.0" y="45.4" width="5.5" height="8.6" fill="#141414"/>
<rect x="272.0" y="53.5" width="5.5" height="53.0" fill="#242424"/>
<rect x="277.0" y="1.0" width="5.5" height="12.6" fill="#333333"/>
<rect x="277.0" y="13.1" width="5.5" height="24.8" fill="#242424"/>
<rect x="277.0" y="37.3" width="5.5" height="16.7" fill="#141414"/>
<rect x="277.0" y="53.5" width="5.5" height="16.7" fill="#242424"/>
<rect x="277.0" y="69.7" width="5.5" height="16.7" fill="#333333"/>
<rect x="277.0" y="85.8" width="5.5" height="8.6" fill="#242424"/>
<rect x="277.0" y="93.9" width="5.5" height="12.6" fill="#333333"/>
<rect x="282.0" y="1.0" width="5.5" height="12.6" fill="#242424"/>
<rect x="282.0" y="13.1" width="5.5" height="40.9" fill="#141414"/>
<rect x="282.0" y="53.5" width="5.5" height="8.6" fill="#333333"/>
<rect x="282.0" y="61.6" width="5.5" height="32.8" fill="#242424"/>
<rect x="282.0" y="93.9" width="5.5" height="12.6" fill="#333333"/>
<rect x="287.0" y="1.0" width="5.5" height="12.6" fill="#333333"/>
<rect x="287.0" y="13.1" width="5.5" height="16.7" fill="#242424"/>
<rect x="287.0" y="29.2" width="5.5" height="24.8" fill="#141414"/>
<rect x="287.0" y="53.5" width="5.5" height="8.6" fill="#333333"/>
<rect x="287.0" y="61.6" width="5.5" height="16.7" fill="#242424"/>
<rect x="287.0" y="77.8" width="5.5" height="8.6" fill="#333333"/>
<rect x="287.0" y="85.8" width="5.5" height="20.7" fill="#242424"/>
<rect x="292.0" y="1.0" width="5.5" height="12.6" fill="#333333"/>
<rect x="292.0" y="13.1" width="5.5" height="24.8" fill="#242424"/>
<rect x="292.0" y="37.3" width="5.5" height="16.7" fill="#141414"/>
<rect x="292.0" y="53.5" width="5.5" height="8.6" fill="#333333"/>
<rect x="292.0" y="61.6" width="5.5" height="16.7" fill="#242424"/>
<rect x="292.0" y="77.8" width="5.5" height="8.6" fill="#333333"/>
<rect x="292.0" y="85.8" width="5.5" height="20.7" fill="#242424"/>
<rect x="297.0" y="1.0" width="5.5" height="12.6" fill="#454545"/>
<rect x="297.0" y="13.1" width="5.5" height="8.6" fill="#333333"/>
<rect x="297.0" y="21.2" width="5.5" height="16.7" fill="#242424"/>
<rect x="297.0" y="37.3" width="5.5" height="16.7" fill="#141414"/>
<rect x="297.0" y="53.5" width="5.5" height="8.6" fill="#333333"/>
<rect x="297.0" y="61.6" width="5.5" height="16.7" fill="#242424"/>
<rect x="297.0" y="77.8" width="5.5" height="8.6" fill="#333333"/>
<rect x="297.0" y="85.8" width="5.5" height="20.7" fill="#242424"/>
<rect x="302.0" y="1.0" width="5.5" height="12.6" fill="#454545"/>
<rect x="302.0" y="13.1" width="5.5" height="24.8" fill="#333333"/>
<rect x="302.0" y="37.3" width="5.5" height="8.6" fill="#242424"/>
<rect x="302.0" y="45.4" width="5.5" height="32.8" fill="#141414"/>
<rect x="302.0" y="77.8" width="5.5" height="16.7" fill="#242424"/>
<rect x="302.0" y="93.9" width="5.5" height="12.6" fill="#333333"/>
<rect x="307.0" y="1.0" width="5.5" height="36.8" fill="#454545"/>
<rect x="307.0" y="37.3" width="5.5" height="8.6" fill="#242424"/>
<rect x="307.0" y="45.4" width="5.5" height="8.6" fill="#141414"/>
<rect x="307.0" y="53.5" width="5.5" height="8.6" fill="#242424"/>
<rect x="307.0" y="61.6" width="5.5" height="8.6" fill="#333333"/>
<rect x="307.0" y="69.7" width="5.5" height="24.8" fill="#242424"/>
<rect x="307.0" y="93.9" width="5.5" height="12.6" fill="#333333"/>
<rect x="312.0" y="1.0" width="5.5" height="20.7" fill="#333333"/>
<rect x="312.0" y="21.2" width="5.5" height="8.6" fill="#242424"/>
<rect x="312.0" y="29.2" width="5.5" height="8.6" fill="#333333"/>
<rect x="312.0" y="37.3" width="5.5" height="8.6" fill="#242424"/>
<rect x="312.0" y="45.4" width="5.5" height="16.7" fill="#141414"/>
<rect x="312.0" y="61.6" width="5.5" height="8.6" fill="#242424"/>
<rect x="312.0" y="69.7" width="5.5" height="8.6" fill="#141414"/>
<rect x="312.0" y="77.8" width="5.5" height="28.8" fill="#242424"/>
<rect x="317.0" y="1.0" width="5.5" height="20.7" fill="#454545"/>
<rect x="317.0" y="21.2" width="5.5" height="8.6" fill="#333333"/>
<rect x="317.0" y="29.2" width="5.5" height="16.7" fill="#242424"/>
<rect x="317.0" y="45.4" width="5.5" height="8.6" fill="#141414"/>
<rect x="317.0" y="53.5" width="5.5" height="8.6" fill="#242424"/>
<rect x="317.0" y="61.6" width="5.5" height="16.7" fill="#333333"/>
<rect x="317.0" y="77.8" width="5.5" height="28.8" fill="#242424"/>
<rect x="322.0" y="1.0" width="5.5" height="28.8" fill="#454545"/>
<rect x="322.0" y="29.2" width="5.5" height="8.6" fill="#333333"/>
<rect x="322.0" y="37.3" width="5.5" height="49.0" fill="#242424"/>
<rect x="322.0" y="85.8" width="5.5" height="8.6" fill="#333333"/>
<rect x="322.0" y="93.9" width="5.5" height="12.6" fill="#242424"/>
<rect x="327.0" y="1.0" width="5.5" height="12.6" fill="#454545"/>
<rect x="327.0" y="13.1" width="5.5" height="8.6" fill="#333333"/>
<rect x="327.0" y="21.2" width="5.5" height="49.0" fill="#242424"/>
<rect x="327.0" y="69.7" width="5.5" height="8.6" fill="#333333"/>
<rect x="327.0" y="77.8" width="5.5" height="28.8" fill="#242424"/>
<rect x="332.0" y="1.0" width="5.5" height="28.8" fill="#454545"/>
<rect x="332.0" y="29.2" width="5.5" height="8.6" fill="#333333"/>
<rect x="332.0" y="37.3" width="5.5" height="16.7" fill="#242424"/>
<rect x="332.0" y="53.5" width="5.5" height="8.6" fill="#454545"/>
<rect x="332.0" y="61.6" width="5.5" height="8.6" fill="#5c5c5c"/>
<rect x="332.0" y="69.7" width="5.5" height="8.6" fill="#333333"/>
<rect x="332.0" y="77.8" width="5.5" height="8.6" fill="#242424"/>
<rect x="332.0" y="85.8" width="5.5" height="8.6" fill="#454545"/>
<rect x="332.0" y="93.9" width="5.5" height="12.6" fill="#5c5c5c"/>
<rect x="337.0" y="1.0" width="5.5" height="36.8" fill="#454545"/>
<rect x="337.0" y="37.3" width="5.5" height="8.6" fill="#333333"/>
<rect x="337.0" y="45.4" width="5.5" height="8.6" fill="#242424"/>
<rect x="337.0" y="53.5" width="5.5" height="8.6" fill="#333333"/>
<rect x="337.0" y="61.6" width="5.5" height="8.6" fill="#5c5c5c"/>
<rect x="337.0" y="69.7" width="5.5" height="8.6" fill="#333333"/>
<rect x="337.0" y="77.8" width="5.5" height="8.6" fill="#242424"/>
<rect x="337.0" y="85.8" width="5.5" height="8.6" fill="#333333"/>
<rect x="337.0" y="93.9" width="5.5" height="12.6" fill="#454545"/>
<rect x="342.0" y="1.0" width="5.5" height="12.6" fill="#fbfbfb"/>
<rect x="342.0" y="13.1" width="5.5" height="8.6" fill="#b8b8b8"/>
<rect x="342.0" y="21.2" width="5.5" height="8.6" fill="#5c5c5c"/>
<rect x="342.0" y="29.2" width="5.5" height="8.6" fill="#454545"/>
<rect x="342.0" y="37.3" width="5.5" height="16.7" fill="#242424"/>
<rect x="342.0" y="53.5" width="5.5" height="8.6" fill="#333333"/>
<rect x="342.0" y="61.6" width="5.5" height="8.6" fill="#5c5c5c"/>
<rect x="342.0" y="69.7" width="5.5" height="8.6" fill="#454545"/>
<rect x="342.0" y="77.8" width="5.5" height="16.7" fill="#333333"/>
<rect x="342.0" y="93.9" width="5.5" height="12.6" fill="#454545"/>
<rect x="347.0" y="1.0" width="5.5" height="12.6" fill="#fbfbfb"/>
<rect x="347.0" y="13.1" width="5.5" height="8.6" fill="#e6e6e6"/>
<rect x="347.0" y="21.2" width="5.5" height="8.6" fill="#999999"/>
<rect x="347.0" y="29.2" width="5.5" height="8.6" fill="#5c5c5c"/>
<rect x="347.0" y="37.3" width="5.5" height="8.6" fill="#333333"/>
<rect x="347.0" y="45.4" width="5.5" height="16.7" fill="#242424"/>
<rect x="347.0" y="61.6" width="5.5" height="16.7" fill="#5c5c5c"/>
<rect x="347.0" y="77.8" width="5.5" height="16.7" fill="#333333"/>
<rect x="347.0" y="93.9" width="5.5" height="12.6" fill="#454545"/>
<rect x="352.0" y="1.0" width="5.5" height="20.7" fill="#fbfbfb"/>
<rect x="352.0" y="21.2" width="5.5" height="8.6" fill="#b8b8b8"/>
<rect x="352.0" y="29.2" width="5.5" height="8.6" fill="#5c5c5c"/>
<rect x="352.0" y="37.3" width="5.5" height="8.6" fill="#333333"/>
<rect x="352.0" y="45.4" width="5.5" height="8.6" fill="#242424"/>
<rect x="352.0" y="53.5" width="5.5" height="8.6" fill="#141414"/>
<rect x="352.0" y="61.6" width="5.5" height="16.7" fill="#242424"/>
<rect x="352.0" y="77.8" width="5.5" height="16.7" fill="#333333"/>
<rect x="352.0" y="93.9" width="5.5" height="12.6" fill="#454545"/>
<rect x="357.0" y="1.0" width="5.5" height="12.6" fill="#fbfbfb"/>
<rect x="357.0" y="13.1" width="5.5" height="8.6" fill="#e6e6e6"/>
<rect x="357.0" y="21.2" width="5.5" height="8.6" fill="#999999"/>
<rect x="357.0" y="29.2" width="5.5" height="8.6" fill="#5c5c5c"/>
<rect x="357.0" y="37.3" width="5.5" height="8.6" fill="#333333"/>
<rect x="357.0" y="45.4" width="5.5" height="8.6" fill="#242424"/>
<rect x="357.0" y="53.5" width="5.5" height="8.6" fill="#333333"/>
<rect x="357.0" y="61.6" width="5.5" height="8.6" fill="#5c5c5c"/>
<rect x="357.0" y="69.7" width="5.5" height="8.6" fill="#b8b8b8"/>
<rect x="357.0" y="77.8" width="5.5" height="8.6" fill="#5c5c5c"/>
<rect x="357.0" y="85.8" width="5.5" height="8.6" fill="#242424"/>
<rect x="357.0" y="93.9" width="5.5" height="12.6" fill="#454545"/>
<rect x="362.0" y="1.0" width="5.5" height="12.6" fill="#b8b8b8"/>
<rect x="362.0" y="13.1" width="5.5" height="8.6" fill="#999999"/>
<rect x="362.0" y="21.2" width="5.5" height="8.6" fill="#5c5c5c"/>
<rect x="362.0" y="29.2" width="5.5" height="8.6" fill="#333333"/>
<rect x="362.0" y="37.3" width="5.5" height="8.6" fill="#242424"/>
<rect x="362.0" y="45.4" width="5.5" height="8.6" fill="#454545"/>
<rect x="362.0" y="53.5" width="5.5" height="8.6" fill="#999999"/>
<rect x="362.0" y="61.6" width="5.5" height="16.7" fill="#b8b8b8"/>
<rect x="362.0" y="77.8" width="5.5" height="8.6" fill="#999999"/>
<rect x="362.0" y="85.8" width="5.5" height="8.6" fill="#333333"/>
<rect x="362.0" y="93.9" width="5.5" height="12.6" fill="#5c5c5c"/>
<rect x="367.0" y="1.0" width="5.5" height="12.6" fill="#e6e6e6"/>
<rect x="367.0" y="13.1" width="5.5" height="8.6" fill="#b8b8b8"/>
<rect x="367.0" y="21.2" width="5.5" height="8.6" fill="#5c5c5c"/>
<rect x="367.0" y="29.2" width="5.5" height="8.6" fill="#242424"/>
<rect x="367.0" y="37.3" width="5.5" height="8.6" fill="#5c5c5c"/>
<rect x="367.0" y="45.4" width="5.5" height="8.6" fill="#999999"/>
<rect x="367.0" y="53.5" width="5.5" height="8.6" fill="#5c5c5c"/>
<rect x="367.0" y="61.6" width="5.5" height="8.6" fill="#999999"/>
<rect x="367.0" y="69.7" width="5.5" height="16.7" fill="#5c5c5c"/>
<rect x="367.0" y="85.8" width="5.5" height="8.6" fill="#242424"/>
<rect x="367.0" y="93.9" width="5.5" height="12.6" fill="#454545"/>
<rect x="372.0" y="1.0" width="5.5" height="12.6" fill="#fbfbfb"/>
<rect x="372.0" y="13.1" width="5.5" height="8.6" fill="#e6e6e6"/>
<rect x="372.0" y="21.2" width="5.5" height="16.7" fill="#b8b8b8"/>
<rect x="372.0" y="37.3" width="5.5" height="16.7" fill="#999999"/>
<rect x="372.0" y="53.5" width="5.5" height="8.6" fill="#b8b8b8"/>
<rect x="372.0" y="61.6" width="5.5" height="16.7" fill="#fbfbfb"/>
<rect x="372.0" y="77.8" width="5.5" height="8.6" fill="#e6e6e6"/>
<rect x="372.0" y="85.8" width="5.5" height="8.6" fill="#5c5c5c"/>
<rect x="372.0" y="93.9" width="5.5" height="12.6" fill="#999999"/>
<rect x="377.0" y="1.0" width="5.5" height="12.6" fill="#fbfbfb"/>
<rect x="377.0" y="13.1" width="5.5" height="8.6" fill="#e6e6e6"/>
<rect x="377.0" y="21.2" width="5.5" height="8.6" fill="#b8b8b8"/>
<rect x="377.0" y="29.2" width="5.5" height="8.6" fill="#e6e6e6"/>
<rect x="377.0" y="37.3" width="5.5" height="8.6" fill="#b8b8b8"/>
<rect x="377.0" y="45.4" width="5.5" height="8.6" fill="#999999"/>
<rect x="377.0" y="53.5" width="5.5" height="8.6" fill="#b8b8b8"/>
<rect x="377.0" y="61.6" width="5.5" height="8.6" fill="#999999"/>
<rect x="377.0" y="69.7" width="5.5" height="8.6" fill="#5c5c5c"/>
<rect x="377.0" y="77.8" width="5.5" height="8.6" fill="#454545"/>
<rect x="377.0" y="85.8" width="5.5" height="8.6" fill="#333333"/>
<rect x="377.0" y="93.9" width="5.5" height="12.6" fill="#5c5c5c"/>
<rect x="382.0" y="1.0" width="5.5" height="12.6" fill="#b8b8b8"/>
<rect x="382.0" y="13.1" width="5.5" height="8.6" fill="#999999"/>
<rect x="382.0" y="21.2" width="5.5" height="8.6" fill="#454545"/>
<rect x="382.0" y="29.2" width="5.5" height="8.6" fill="#999999"/>
<rect x="382.0" y="37.3" width="5.5" height="8.6" fill="#b8b8b8"/>
<rect x="382.0" y="45.4" width="5.5" height="8.6" fill="#999999"/>
<rect x="382.0" y="53.5" width="5.5" height="8.6" fill="#b8b8b8"/>
<rect x="382.0" y="61.6" width="5.5" height="8.6" fill="#999999"/>
<rect x="382.0" y="69.7" width="5.5" height="16.7" fill="#b8b8b8"/>
<rect x="382.0" y="85.8" width="5.5" height="8.6" fill="#454545"/>
<rect x="382.0" y="93.9" width="5.5" height="12.6" fill="#242424"/>
<rect x="387.0" y="1.0" width="5.5" height="20.7" fill="#5c5c5c"/>
<rect x="387.0" y="21.2" width="5.5" height="8.6" fill="#454545"/>
<rect x="387.0" y="29.2" width="5.5" height="8.6" fill="#5c5c5c"/>
<rect x="387.0" y="37.3" width="5.5" height="8.6" fill="#999999"/>
<rect x="387.0" y="45.4" width="5.5" height="8.6" fill="#b8b8b8"/>
<rect x="387.0" y="53.5" width="5.5" height="8.6" fill="#999999"/>
<rect x="387.0" y="61.6" width="5.5" height="8.6" fill="#b8b8b8"/>
<rect x="387.0" y="69.7" width="5.5" height="16.7" fill="#e6e6e6"/>
<rect x="387.0" y="85.8" width="5.5" height="8.6" fill="#333333"/>
<rect x="387.0" y="93.9" width="5.5" height="12.6" fill="#454545"/>
<rect x="392.0" y="1.0" width="5.5" height="12.6" fill="#454545"/>
<rect x="392.0" y="13.1" width="5.5" height="24.8" fill="#242424"/>
<rect x="392.0" y="37.3" width="5.5" height="8.6" fill="#5c5c5c"/>
<rect x="392.0" y="45.4" width="5.5" height="8.6" fill="#e6e6e6"/>
<rect x="392.0" y="53.5" width="5.5" height="8.6" fill="#5c5c5c"/>
<rect x="392.0" y="61.6" width="5.5" height="16.7" fill="#999999"/>
<rect x="392.0" y="77.8" width="5.5" height="8.6" fill="#5c5c5c"/>
<rect x="392.0" y="85.8" width="5.5" height="20.7" fill="#242424"/>
<rect x="397.0" y="1.0" width="5.5" height="20.7" fill="#5c5c5c"/>
<rect x="397.0" y="21.2" width="5.5" height="8.6" fill="#454545"/>
<rect x="397.0" y="29.2" width="5.5" height="8.6" fill="#5c5c5c"/>
<rect x="397.0" y="37.3" width="5.5" height="8.6" fill="#454545"/>
<rect x="397.0" y="45.4" width="5.5" height="16.7" fill="#b8b8b8"/>
<rect x="397.0" y="61.6" width="5.5" height="8.6" fill="#fbfbfb"/>
<rect x="397.0" y="69.7" width="5.5" height="8.6" fill="#e6e6e6"/>
<rect x="397.0" y="77.8" width="5.5" height="8.6" fill="#5c5c5c"/>
<rect x="397.0" y="85.8" width="5.5" height="8.6" fill="#242424"/>
<rect x="397.0" y="93.9" width="5.5" height="12.6" fill="#454545"/>
<rect x="402.0" y="1.0" width="5.5" height="12.6" fill="#333333"/>
<rect x="402.0" y="13.1" width="5.5" height="24.8" fill="#242424"/>
<rect x="402.0" y="37.3" width="5.5" height="8.6" fill="#333333"/>
<rect x="402.0" y="45.4" width="5.5" height="8.6" fill="#454545"/>
<rect x="402.0" y="53.5" width="5.5" height="8.6" fill="#b8b8b8"/>
<rect x="402.0" y="61.6" width="5.5" height="8.6" fill="#e6e6e6"/>
<rect x="402.0" y="69.7" width="5.5" height="8.6" fill="#b8b8b8"/>
<rect x="402.0" y="77.8" width="5.5" height="8.6" fill="#454545"/>
<rect x="402.0" y="85.8" width="5.5" height="8.6" fill="#242424"/>
<rect x="402.0" y="93.9" width="5.5" height="12.6" fill="#5c5c5c"/>
<rect x="407.0" y="1.0" width="5.5" height="20.7" fill="#454545"/>
<rect x="407.0" y="21.2" width="5.5" height="8.6" fill="#333333"/>
<rect x="407.0" y="29.2" width="5.5" height="8.6" fill="#242424"/>
<rect x="407.0" y="37.3" width="5.5" height="16.7" fill="#141414"/>
<rect x="407.0" y="53.5" width="5.5" height="8.6" fill="#242424"/>
<rect x="407.0" y="61.6" width="5.5" height="8.6" fill="#141414"/>
<rect x="407.0" y="69.7" width="5.5" height="16.7" fill="#242424"/>
<rect x="407.0" y="85.8" width="5.5" height="8.6" fill="#454545"/>
<rect x="407.0" y="93.9" width="5.5" height="12.6" fill="#5c5c5c"/>
<rect x="412.0" y="1.0" width="5.5" height="12.6" fill="#333333"/>
<rect x="412.0" y="13.1" width="5.5" height="32.8" fill="#454545"/>
<rect x="412.0" y="45.4" width="5.5" height="16.7" fill="#333333"/>
<rect x="412.0" y="61.6" width="5.5" height="16.7" fill="#242424"/>
<rect x="412.0" y="77.8" width="5.5" height="8.6" fill="#333333"/>
<rect x="412.0" y="85.8" width="5.5" height="8.6" fill="#b8b8b8"/>
<rect x="412.0" y="93.9" width="5.5" height="12.6" fill="#e6e6e6"/>
<rect x="417.0" y="1.0" width="5.5" height="53.0" fill="#fbfbfb"/>
<rect x="417.0" y="53.5" width="5.5" height="8.6" fill="#333333"/>
<rect x="417.0" y="61.6" width="5.5" height="16.7" fill="#141414"/>
<rect x="417.0" y="77.8" width="5.5" height="8.6" fill="#242424"/>
<rect x="417.0" y="85.8" width="5.5" height="8.6" fill="#b8b8b8"/>
<rect x="417.0" y="93.9" width="5.5" height="12.6" fill="#fbfbfb"/>
<rect x="422.0" y="1.0" width="5.5" height="12.6" fill="#e6e6e6"/>
<rect x="422.0" y="13.1" width="5.5" height="16.7" fill="#b8b8b8"/>
<rect x="422.0" y="29.2" width="5.5" height="16.7" fill="#e6e6e6"/>
<rect x="422.0" y="45.4" width="5.5" height="8.6" fill="#b8b8b8"/>
<rect x="422.0" y="53.5" width="5.5" height="8.6" fill="#fbfbfb"/>
<rect x="422.0" y="61.6" width="5.5" height="8.6" fill="#999999"/>
<rect x="422.0" y="69.7" width="5.5" height="8.6" fill="#5c5c5c"/>
<rect x="422.0" y="77.8" width="5.5" height="16.7" fill="#454545"/>
<rect x="422.0" y="93.9" width="5.5" height="12.6" fill="#5c5c5c"/>
<rect x="427.0" y="1.0" width="5.5" height="12.6" fill="#b8b8b8"/>
<rect x="427.0" y="13.1" width="5.5" height="40.9" fill="#e6e6e6"/>
<rect x="427.0" y="53.5" width="5.5" height="8.6" fill="#b8b8b8"/>
<rect x="427.0" y="61.6" width="5.5" height="16.7" fill="#999999"/>
<rect x="427.0" y="77.8" width="5.5" height="8.6" fill="#5c5c5c"/>
<rect x="427.0" y="85.8" width="5.5" height="8.6" fill="#e6e6e6"/>
<rect x="427.0" y="93.9" width="5.5" height="12.6" fill="#5c5c5c"/>
<rect x="432.0" y="1.0" width="5.5" height="28.8" fill="#fbfbfb"/>
<rect x="432.0" y="29.2" width="5.5" height="16.7" fill="#e6e6e6"/>
<rect x="432.0" y="45.4" width="5.5" height="8.6" fill="#b8b8b8"/>
<rect x="432.0" y="53.5" width="5.5" height="8.6" fill="#e6e6e6"/>
<rect x="432.0" y="61.6" width="5.5" height="8.6" fill="#333333"/>
<rect x="432.0" y="69.7" width="5.5" height="16.7" fill="#242424"/>
<rect x="432.0" y="85.8" width="5.5" height="8.6" fill="#333333"/>
<rect x="432.0" y="93.9" width="5.5" height="12.6" fill="#242424"/>
<rect x="437.0" y="1.0" width="5.5" height="28.8" fill="#b8b8b8"/>
<rect x="437.0" y="29.2" width="5.5" height="8.6" fill="#999999"/>
<rect x="437.0" y="37.3" width="5.5" height="8.6" fill="#454545"/>
<rect x="437.0" y="45.4" width="5.5" height="16.7" fill="#242424"/>
<rect x="437.0" y="61.6" width="5.5" height="44.9" fill="#141414"/>
<rect x="442.0" y="1.0" width="5.5" height="28.8" fill="#454545"/>
<rect x="442.0" y="29.2" width="5.5" height="8.6" fill="#333333"/>
<rect x="442.0" y="37.3" width="5.5" height="16.7" fill="#242424"/>
<rect x="442.0" y="53.5" width="5.5" height="24.8" fill="#141414"/>
<rect x="442.0" y="77.8" width="5.5" height="8.6" fill="#242424"/>
<rect x="442.0" y="85.8" width="5.5" height="8.6" fill="#333333"/>
<rect x="442.0" y="93.9" width="5.5" height="12.6" fill="#b8b8b8"/>
<rect x="447.0" y="1.0" width="5.5" height="20.7" fill="#5c5c5c"/>
<rect x="447.0" y="21.2" width="5.5" height="8.6" fill="#999999"/>
<rect x="447.0" y="29.2" width="5.5" height="16.7" fill="#5c5c5c"/>
<rect x="447.0" y="45.4" width="5.5" height="8.6" fill="#454545"/>
<rect x="447.0" y="53.5" width="5.5" height="8.6" fill="#b8b8b8"/>
<rect x="447.0" y="61.6" width="5.5" height="16.7" fill="#999999"/>
<rect x="447.0" y="77.8" width="5.5" height="16.7" fill="#b8b8b8"/>
<rect x="447.0" y="93.9" width="5.5" height="12.6" fill="#e6e6e6"/>
<rect x="452.0" y="1.0" width="5.5" height="36.8" fill="#fbfbfb"/>
<rect x="452.0" y="37.3" width="5.5" height="16.7" fill="#e6e6e6"/>
<rect x="452.0" y="53.5" width="5.5" height="32.8" fill="#141414"/>
<rect x="452.0" y="85.8" width="5.5" height="20.7" fill="#242424"/>
<rect x="457.0" y="1.0" width="5.5" height="12.6" fill="#e6e6e6"/>
<rect x="457.0" y="13.1" width="5.5" height="16.7" fill="#b8b8b8"/>
<rect x="457.0" y="29.2" width="5.5" height="24.8" fill="#e6e6e6"/>
<rect x="457.0" y="53.5" width="5.5" height="16.7" fill="#242424"/>
<rect x="457.0" y="69.7" width="5.5" height="8.6" fill="#141414"/>
<rect x="457.0" y="77.8" width="5.5" height="16.7" fill="#242424"/>
<rect x="457.0" y="93.9" width="5.5" height="12.6" fill="#333333"/>
<rect x="462.0" y="1.0" width="5.5" height="28.8" fill="#999999"/>
<rect x="462.0" y="29.2" width="5.5" height="8.6" fill="#5c5c5c"/>
<rect x="462.0" y="37.3" width="5.5" height="8.6" fill="#999999"/>
<rect x="462.0" y="45.4" width="5.5" height="8.6" fill="#b8b8b8"/>
<rect x="462.0" y="53.5" width="5.5" height="8.6" fill="#fbfbfb"/>
<rect x="462.0" y="61.6" width="5.5" height="8.6" fill="#e6e6e6"/>
<rect x="462.0" y="69.7" width="5.5" height="8.6" fill="#b8b8b8"/>
<rect x="462.0" y="77.8" width="5.5" height="8.6" fill="#5c5c5c"/>
<rect x="462.0" y="85.8" width="5.5" height="8.6" fill="#b8b8b8"/>
<rect x="462.0" y="93.9" width="5.5" height="12.6" fill="#e6e6e6"/>
<rect x="467.0" y="1.0" width="5.5" height="12.6" fill="#b8b8b8"/>
<rect x="467.0" y="13.1" width="5.5" height="8.6" fill="#999999"/>
<rect x="467.0" y="21.2" width="5.5" height="16.7" fill="#5c5c5c"/>
<rect x="467.0" y="37.3" width="5.5" height="8.6" fill="#333333"/>
<rect x="467.0" y="45.4" width="5.5" height="61.1" fill="#242424"/>
<rect x="472.0" y="1.0" width="5.5" height="12.6" fill="#fbfbfb"/>
<rect x="472.0" y="13.1" width="5.5" height="8.6" fill="#e6e6e6"/>
<rect x="472.0" y="21.2" width="5.5" height="16.7" fill="#333333"/>
<rect x="472.0" y="37.3" width="5.5" height="24.8" fill="#242424"/>
<rect x="472.0" y="61.6" width="5.5" height="8.6" fill="#454545"/>
<rect x="472.0" y="69.7" width="5.5" height="8.6" fill="#5c5c5c"/>
<rect x="472.0" y="77.8" width="5.5" height="8.6" fill="#454545"/>
<rect x="472.0" y="85.8" width="5.5" height="20.7" fill="#242424"/>
<rect x="477.0" y="1.0" width="5.5" height="20.7" fill="#fbfbfb"/>
<rect x="477.0" y="21.2" width="5.5" height="8.6" fill="#e6e6e6"/>
<rect x="477.0" y="29.2" width="5.5" height="8.6" fill="#5c5c5c"/>
<rect x="477.0" y="37.3" width="5.5" height="69.2" fill="#242424"/>
<rect x="482.0" y="1.0" width="5.5" height="44.9" fill="#fbfbfb"/>
<rect x="482.0" y="45.4" width="5.5" height="8.6" fill="#e6e6e6"/>
<rect x="482.0" y="53.5" width="5.5" height="16.7" fill="#5c5c5c"/>
<rect x="482.0" y="69.7" width="5.5" height="8.6" fill="#b8b8b8"/>
<rect x="482.0" y="77.8" width="5.5" height="8.6" fill="#999999"/>
<rect x="482.0" y="85.8" width="5.5" height="20.7" fill="#b8b8b8"/>
<rect x="487.0" y="1.0" width="5.5" height="69.2" fill="#fbfbfb"/>
<rect x="487.0" y="69.7" width="5.5" height="8.6" fill="#e6e6e6"/>
<rect x="487.0" y="77.8" width="5.5" height="8.6" fill="#999999"/>
<rect x="487.0" y="85.8" width="5.5" height="20.7" fill="#b8b8b8"/>
<rect x="492.0" y="1.0" width="5.5" height="77.2" fill="#fbfbfb"/>
<rect x="492.0" y="77.8" width="5.5" height="8.6" fill="#e6e6e6"/>
<rect x="492.0" y="85.8" width="5.5" height="20.7" fill="#b8b8b8"/>
<rect x="497.0" y="1.0" width="5.5" height="85.3" fill="#fbfbfb"/>
<rect x="497.0" y="85.8" width="5.5" height="20.7" fill="#e6e6e6"/>
<rect x="502.0" y="1.0" width="5.5" height="105.5" fill="#fbfbfb"/>
<rect x="507.0" y="1.0" width="9.5" height="105.5" fill="#fbfbfb"/></g><g fill="#1020c0" opacity="0.85"></g><polyline points="100.0,9.2 150.0,8.3 200.0,7.7 300.0,6.6 473.3,6.5" fill="none" stroke="#ff9a20" stroke-width="1.2" opacity="0.6"/><polyline points="55.5,100.2 100.0,101.1 160.0,101.7 495.0,101.7" fill="none" stroke="#40e8d0" stroke-width="1.6" opacity="0.75"/></g><rect x="199.5" y="73.4" width="39.3" height="15.7" fill="none" stroke="#fff" stroke-width="1.6"/><rect x="22.5" y="163.20000000000002" width="488.0" height="98.4" fill="none" stroke="#999" stroke-width="1"/>
<line x1="22.5" y1="173.8" x2="28.0" y2="173.8" stroke="#999" stroke-width="1"/>
<line x1="510.5" y1="173.8" x2="505.0" y2="173.8" stroke="#999" stroke-width="1"/>
<text x="19.3" y="177.3" text-anchor="end" class="t" textLength="4.21" lengthAdjust="spacingAndGlyphs">6</text>
<line x1="22.5" y1="191.0" x2="28.0" y2="191.0" stroke="#999" stroke-width="1"/>
<line x1="510.5" y1="191.0" x2="505.0" y2="191.0" stroke="#999" stroke-width="1"/>
<text x="19.3" y="194.5" text-anchor="end" class="t" textLength="4.21" lengthAdjust="spacingAndGlyphs">5</text>
<line x1="22.5" y1="208.4" x2="28.0" y2="208.4" stroke="#999" stroke-width="1"/>
<line x1="510.5" y1="208.4" x2="505.0" y2="208.4" stroke="#999" stroke-width="1"/>
<text x="19.3" y="211.9" text-anchor="end" class="t" textLength="4.21" lengthAdjust="spacingAndGlyphs">4</text>
<line x1="22.5" y1="225.8" x2="28.0" y2="225.8" stroke="#999" stroke-width="1"/>
<line x1="510.5" y1="225.8" x2="505.0" y2="225.8" stroke="#999" stroke-width="1"/>
<text x="19.3" y="229.3" text-anchor="end" class="t" textLength="4.21" lengthAdjust="spacingAndGlyphs">3</text>
<line x1="22.5" y1="243.3" x2="28.0" y2="243.3" stroke="#999" stroke-width="1"/>
<line x1="510.5" y1="243.3" x2="505.0" y2="243.3" stroke="#999" stroke-width="1"/>
<text x="19.3" y="246.8" text-anchor="end" class="t" textLength="4.21" lengthAdjust="spacingAndGlyphs">2</text>
<line x1="22.5" y1="261.2" x2="28.0" y2="261.2" stroke="#999" stroke-width="1"/>
<line x1="510.5" y1="261.2" x2="505.0" y2="261.2" stroke="#999" stroke-width="1"/>
<text x="19.3" y="264.7" text-anchor="end" class="t" textLength="4.21" lengthAdjust="spacingAndGlyphs">1</text>
<line x1="73.0" y1="261.6" x2="73.0" y2="256.1" stroke="#999" stroke-width="1"/>
<line x1="73.0" y1="163.20000000000002" x2="73.0" y2="168.70000000000002" stroke="#999" stroke-width="1"/>
<text x="73.0" y="273.6" text-anchor="middle" class="t" textLength="8.42" lengthAdjust="spacingAndGlyphs">10</text>
<line x1="155.9" y1="261.6" x2="155.9" y2="256.1" stroke="#999" stroke-width="1"/>
<line x1="155.9" y1="163.20000000000002" x2="155.9" y2="168.70000000000002" stroke="#999" stroke-width="1"/>
<text x="155.9" y="273.6" text-anchor="middle" class="t" textLength="8.42" lengthAdjust="spacingAndGlyphs">20</text>
<line x1="238.8" y1="261.6" x2="238.8" y2="256.1" stroke="#999" stroke-width="1"/>
<line x1="238.8" y1="163.20000000000002" x2="238.8" y2="168.70000000000002" stroke="#999" stroke-width="1"/>
<text x="238.8" y="273.6" text-anchor="middle" class="t" textLength="8.42" lengthAdjust="spacingAndGlyphs">30</text>
<line x1="321.70000000000005" y1="261.6" x2="321.70000000000005" y2="256.1" stroke="#999" stroke-width="1"/>
<line x1="321.70000000000005" y1="163.20000000000002" x2="321.70000000000005" y2="168.70000000000002" stroke="#999" stroke-width="1"/>
<text x="321.7" y="273.6" text-anchor="middle" class="t" textLength="8.42" lengthAdjust="spacingAndGlyphs">40</text>
<line x1="404.6" y1="261.6" x2="404.6" y2="256.1" stroke="#999" stroke-width="1"/>
<line x1="404.6" y1="163.20000000000002" x2="404.6" y2="168.70000000000002" stroke="#999" stroke-width="1"/>
<text x="404.6" y="273.6" text-anchor="middle" class="t" textLength="8.42" lengthAdjust="spacingAndGlyphs">50</text>
<line x1="487.5" y1="261.6" x2="487.5" y2="256.1" stroke="#999" stroke-width="1"/>
<line x1="487.5" y1="163.20000000000002" x2="487.5" y2="168.70000000000002" stroke="#999" stroke-width="1"/>
<text x="487.5" y="273.6" text-anchor="middle" class="t" textLength="8.42" lengthAdjust="spacingAndGlyphs">60</text>
<text x="266.8" y="284.7" text-anchor="middle" class="l" textLength="101" lengthAdjust="spacingAndGlyphs">Longitudinal Distance (m)</text>
<text transform="translate(11.3,213.1) rotate(-90)" x="0" y="0" text-anchor="middle" class="l" textLength="98.7" lengthAdjust="spacingAndGlyphs">Transverse Distance (m)</text>
<rect x="518.2" y="163.10000000000002" width="14.2" height="98.2" fill="url(#jet)" stroke="#999" stroke-width="0.6"/>
<text x="535.4" y="166.4" class="t" textLength="4.21" lengthAdjust="spacingAndGlyphs">0</text>
<text x="535.4" y="186.0" class="t" textLength="6.73" lengthAdjust="spacingAndGlyphs">-2</text>
<text x="535.4" y="205.6" class="t" textLength="6.73" lengthAdjust="spacingAndGlyphs">-4</text>
<text x="535.4" y="225.2" class="t" textLength="6.73" lengthAdjust="spacingAndGlyphs">-6</text>
<text x="535.4" y="244.8" class="t" textLength="6.73" lengthAdjust="spacingAndGlyphs">-8</text>
<text x="535.4" y="264.4" class="t" textLength="10.94" lengthAdjust="spacingAndGlyphs">-10</text>
<text x="275" y="308.20000000000005" text-anchor="middle" class="cap" textLength="61.3" lengthAdjust="spacingAndGlyphs">(<tspan font-weight="bold">b</tspan>) CNN-1</text><g clip-path="url(#cp1)"><g filter="url(#bl1)"><rect x="18.0" y="158.8" width="9.5" height="105.5" fill="#fbfbfb"/>
<rect x="27.0" y="158.8" width="5.5" height="105.5" fill="#fbfbfb"/>
<rect x="32.0" y="158.8" width="5.5" height="20.7" fill="#242424"/>
<rect x="32.0" y="179.0" width="5.5" height="8.6" fill="#454545"/>
<rect x="32.0" y="187.1" width="5.5" height="8.6" fill="#b8b8b8"/>
<rect x="32.0" y="195.1" width="5.5" height="69.2" fill="#fbfbfb"/>
<rect x="37.0" y="158.8" width="5.5" height="44.9" fill="#242424"/>
<rect x="37.0" y="203.2" width="5.5" height="8.6" fill="#b8b8b8"/>
<rect x="37.0" y="211.3" width="5.5" height="53.0" fill="#fbfbfb"/>
<rect x="42.0" y="158.8" width="5.5" height="44.9" fill="#242424"/>
<rect x="42.0" y="203.2" width="5.5" height="16.7" fill="#fbfbfb"/>
<rect x="42.0" y="219.4" width="5.5" height="8.6" fill="#b8b8b8"/>
<rect x="42.0" y="227.5" width="5.5" height="36.8" fill="#fbfbfb"/>
<rect x="47.0" y="158.8" width="5.5" height="12.6" fill="#242424"/>
<rect x="47.0" y="170.9" width="5.5" height="8.6" fill="#333333"/>
<rect x="47.0" y="179.0" width="5.5" height="24.8" fill="#242424"/>
<rect x="47.0" y="203.2" width="5.5" height="8.6" fill="#b8b8b8"/>
<rect x="47.0" y="211.3" width="5.5" height="16.7" fill="#fbfbfb"/>
<rect x="47.0" y="227.5" width="5.5" height="8.6" fill="#5c5c5c"/>
<rect x="47.0" y="235.6" width="5.5" height="8.6" fill="#999999"/>
<rect x="47.0" y="243.6" width="5.5" height="20.7" fill="#fbfbfb"/>
<rect x="52.0" y="158.8" width="5.5" height="44.9" fill="#454545"/>
<rect x="52.0" y="203.2" width="5.5" height="8.6" fill="#b8b8b8"/>
<rect x="52.0" y="211.3" width="5.5" height="8.6" fill="#fbfbfb"/>
<rect x="52.0" y="219.4" width="5.5" height="8.6" fill="#999999"/>
<rect x="52.0" y="227.5" width="5.5" height="16.7" fill="#fbfbfb"/>
<rect x="52.0" y="243.6" width="5.5" height="20.7" fill="#b8b8b8"/>
<rect x="57.0" y="158.8" width="5.5" height="53.0" fill="#fbfbfb"/>
<rect x="57.0" y="211.3" width="5.5" height="8.6" fill="#5c5c5c"/>
<rect x="57.0" y="219.4" width="5.5" height="44.9" fill="#fbfbfb"/>
<rect x="62.0" y="158.8" width="5.5" height="12.6" fill="#fbfbfb"/>
<rect x="62.0" y="170.9" width="5.5" height="16.7" fill="#b8b8b8"/>
<rect x="62.0" y="187.1" width="5.5" height="16.7" fill="#242424"/>
<rect x="62.0" y="203.2" width="5.5" height="16.7" fill="#454545"/>
<rect x="62.0" y="219.4" width="5.5" height="32.8" fill="#242424"/>
<rect x="62.0" y="251.7" width="5.5" height="12.6" fill="#5c5c5c"/>
<rect x="67.0" y="158.8" width="5.5" height="28.8" fill="#fbfbfb"/>
<rect x="67.0" y="187.1" width="5.5" height="8.6" fill="#b8b8b8"/>
<rect x="67.0" y="195.1" width="5.5" height="8.6" fill="#5c5c5c"/>
<rect x="67.0" y="203.2" width="5.5" height="8.6" fill="#454545"/>
<rect x="67.0" y="211.3" width="5.5" height="8.6" fill="#242424"/>
<rect x="67.0" y="219.4" width="5.5" height="32.8" fill="#141414"/>
<rect x="67.0" y="251.7" width="5.5" height="12.6" fill="#242424"/>
<rect x="72.0" y="158.8" width="5.5" height="12.6" fill="#999999"/>
<rect x="72.0" y="170.9" width="5.5" height="40.9" fill="#fbfbfb"/>
<rect x="72.0" y="211.3" width="5.5" height="8.6" fill="#333333"/>
<rect x="72.0" y="219.4" width="5.5" height="8.6" fill="#5c5c5c"/>
<rect x="72.0" y="227.5" width="5.5" height="16.7" fill="#333333"/>
<rect x="72.0" y="243.6" width="5.5" height="8.6" fill="#454545"/>
<rect x="72.0" y="251.7" width="5.5" height="12.6" fill="#b8b8b8"/>
<rect x="77.0" y="158.8" width="5.5" height="12.6" fill="#808080"/>
<rect x="77.0" y="170.9" width="5.5" height="16.7" fill="#fbfbfb"/>
<rect x="77.0" y="187.1" width="5.5" height="8.6" fill="#b8b8b8"/>
<rect x="77.0" y="195.1" width="5.5" height="8.6" fill="#454545"/>
<rect x="77.0" y="203.2" width="5.5" height="8.6" fill="#fbfbfb"/>
<rect x="77.0" y="211.3" width="5.5" height="8.6" fill="#454545"/>
<rect x="77.0" y="219.4" width="5.5" height="8.6" fill="#b8b8b8"/>
<rect x="77.0" y="227.5" width="5.5" height="8.6" fill="#454545"/>
<rect x="77.0" y="235.6" width="5.5" height="8.6" fill="#242424"/>
<rect x="77.0" y="243.6" width="5.5" height="8.6" fill="#b8b8b8"/>
<rect x="77.0" y="251.7" width="5.5" height="12.6" fill="#fbfbfb"/>
<rect x="82.0" y="158.8" width="5.5" height="12.6" fill="#999999"/>
<rect x="82.0" y="170.9" width="5.5" height="40.9" fill="#fbfbfb"/>
<rect x="82.0" y="211.3" width="5.5" height="8.6" fill="#333333"/>
<rect x="82.0" y="219.4" width="5.5" height="8.6" fill="#b8b8b8"/>
<rect x="82.0" y="227.5" width="5.5" height="8.6" fill="#454545"/>
<rect x="82.0" y="235.6" width="5.5" height="8.6" fill="#242424"/>
<rect x="82.0" y="243.6" width="5.5" height="8.6" fill="#454545"/>
<rect x="82.0" y="251.7" width="5.5" height="12.6" fill="#fbfbfb"/>
<rect x="87.0" y="158.8" width="5.5" height="12.6" fill="#b8b8b8"/>
<rect x="87.0" y="170.9" width="5.5" height="40.9" fill="#fbfbfb"/>
<rect x="87.0" y="211.3" width="5.5" height="8.6" fill="#454545"/>
<rect x="87.0" y="219.4" width="5.5" height="8.6" fill="#333333"/>
<rect x="87.0" y="227.5" width="5.5" height="16.7" fill="#242424"/>
<rect x="87.0" y="243.6" width="5.5" height="8.6" fill="#454545"/>
<rect x="87.0" y="251.7" width="5.5" height="12.6" fill="#b8b8b8"/>
<rect x="92.0" y="158.8" width="5.5" height="20.7" fill="#242424"/>
<rect x="92.0" y="179.0" width="5.5" height="8.6" fill="#5c5c5c"/>
<rect x="92.0" y="187.1" width="5.5" height="24.8" fill="#fbfbfb"/>
<rect x="92.0" y="211.3" width="5.5" height="8.6" fill="#b8b8b8"/>
<rect x="92.0" y="219.4" width="5.5" height="8.6" fill="#999999"/>
<rect x="92.0" y="227.5" width="5.5" height="36.8" fill="#fbfbfb"/>
<rect x="97.0" y="158.8" width="5.5" height="28.8" fill="#242424"/>
<rect x="97.0" y="187.1" width="5.5" height="8.6" fill="#454545"/>
<rect x="97.0" y="195.1" width="5.5" height="16.7" fill="#fbfbfb"/>
<rect x="97.0" y="211.3" width="5.5" height="8.6" fill="#808080"/>
<rect x="97.0" y="219.4" width="5.5" height="8.6" fill="#b8b8b8"/>
<rect x="97.0" y="227.5" width="5.5" height="36.8" fill="#fbfbfb"/>
<rect x="102.0" y="158.8" width="5.5" height="28.8" fill="#242424"/>
<rect x="102.0" y="187.1" width="5.5" height="16.7" fill="#141414"/>
<rect x="102.0" y="203.2" width="5.5" height="8.6" fill="#242424"/>
<rect x="102.0" y="211.3" width="5.5" height="8.6" fill="#5c5c5c"/>
<rect x="102.0" y="219.4" width="5.5" height="8.6" fill="#242424"/>
<rect x="102.0" y="227.5" width="5.5" height="8.6" fill="#141414"/>
<rect x="102.0" y="235.6" width="5.5" height="28.8" fill="#fbfbfb"/>
<rect x="107.0" y="158.8" width="5.5" height="12.6" fill="#fbfbfb"/>
<rect x="107.0" y="170.9" width="5.5" height="24.8" fill="#b8b8b8"/>
<rect x="107.0" y="195.1" width="5.5" height="16.7" fill="#fbfbfb"/>
<rect x="107.0" y="211.3" width="5.5" height="8.6" fill="#333333"/>
<rect x="107.0" y="219.4" width="5.5" height="8.6" fill="#242424"/>
<rect x="107.0" y="227.5" width="5.5" height="8.6" fill="#141414"/>
<rect x="107.0" y="235.6" width="5.5" height="16.7" fill="#fbfbfb"/>
<rect x="107.0" y="251.7" width="5.5" height="12.6" fill="#b8b8b8"/>
<rect x="112.0" y="158.8" width="5.5" height="53.0" fill="#fbfbfb"/>
<rect x="112.0" y="211.3" width="5.5" height="8.6" fill="#454545"/>
<rect x="112.0" y="219.4" width="5.5" height="8.6" fill="#242424"/>
<rect x="112.0" y="227.5" width="5.5" height="8.6" fill="#333333"/>
<rect x="112.0" y="235.6" width="5.5" height="28.8" fill="#fbfbfb"/>
<rect x="117.0" y="158.8" width="5.5" height="12.6" fill="#999999"/>
<rect x="117.0" y="170.9" width="5.5" height="8.6" fill="#333333"/>
<rect x="117.0" y="179.0" width="5.5" height="24.8" fill="#242424"/>
<rect x="117.0" y="203.2" width="5.5" height="16.7" fill="#5c5c5c"/>
<rect x="117.0" y="219.4" width="5.5" height="8.6" fill="#333333"/>
<rect x="117.0" y="227.5" width="5.5" height="8.6" fill="#fbfbfb"/>
<rect x="117.0" y="235.6" width="5.5" height="16.7" fill="#242424"/>
<rect x="117.0" y="251.7" width="5.5" height="12.6" fill="#fbfbfb"/>
<rect x="122.0" y="158.8" width="5.5" height="53.0" fill="#fbfbfb"/>
<rect x="122.0" y="211.3" width="5.5" height="8.6" fill="#999999"/>
<rect x="122.0" y="219.4" width="5.5" height="8.6" fill="#5c5c5c"/>
<rect x="122.0" y="227.5" width="5.5" height="36.8" fill="#fbfbfb"/>
<rect x="127.0" y="158.8" width="5.5" height="20.7" fill="#fbfbfb"/>
<rect x="127.0" y="179.0" width="5.5" height="8.6" fill="#b8b8b8"/>
<rect x="127.0" y="187.1" width="5.5" height="8.6" fill="#999999"/>
<rect x="127.0" y="195.1" width="5.5" height="8.6" fill="#5c5c5c"/>
<rect x="127.0" y="203.2" width="5.5" height="8.6" fill="#242424"/>
<rect x="127.0" y="211.3" width="5.5" height="8.6" fill="#fbfbfb"/>
<rect x="127.0" y="219.4" width="5.5" height="8.6" fill="#b8b8b8"/>
<rect x="127.0" y="227.5" width="5.5" height="36.8" fill="#fbfbfb"/>
<rect x="132.0" y="158.8" width="5.5" height="28.8" fill="#fbfbfb"/>
<rect x="132.0" y="187.1" width="5.5" height="8.6" fill="#999999"/>
<rect x="132.0" y="195.1" width="5.5" height="8.6" fill="#242424"/>
<rect x="132.0" y="203.2" width="5.5" height="8.6" fill="#141414"/>
<rect x="132.0" y="211.3" width="5.5" height="8.6" fill="#333333"/>
<rect x="132.0" y="219.4" width="5.5" height="8.6" fill="#b8b8b8"/>
<rect x="132.0" y="227.5" width="5.5" height="8.6" fill="#454545"/>
<rect x="132.0" y="235.6" width="5.5" height="16.7" fill="#242424"/>
<rect x="132.0" y="251.7" width="5.5" height="12.6" fill="#999999"/>
<rect x="137.0" y="158.8" width="5.5" height="105.5" fill="#fbfbfb"/>
<rect x="142.0" y="158.8" width="5.5" height="12.6" fill="#454545"/>
<rect x="142.0" y="170.9" width="5.5" height="8.6" fill="#333333"/>
<rect x="142.0" y="179.0" width="5.5" height="32.8" fill="#242424"/>
<rect x="142.0" y="211.3" width="5.5" height="24.8" fill="#fbfbfb"/>
<rect x="142.0" y="235.6" width="5.5" height="8.6" fill="#b8b8b8"/>
<rect x="142.0" y="243.6" width="5.5" height="8.6" fill="#454545"/>
<rect x="142.0" y="251.7" width="5.5" height="12.6" fill="#333333"/>
<rect x="147.0" y="158.8" width="5.5" height="28.8" fill="#242424"/>
<rect x="147.0" y="187.1" width="5.5" height="8.6" fill="#333333"/>
<rect x="147.0" y="195.1" width="5.5" height="16.7" fill="#242424"/>
<rect x="147.0" y="211.3" width="5.5" height="8.6" fill="#5c5c5c"/>
<rect x="147.0" y="219.4" width="5.5" height="8.6" fill="#333333"/>
<rect x="147.0" y="227.5" width="5.5" height="16.7" fill="#242424"/>
<rect x="147.0" y="243.6" width="5.5" height="8.6" fill="#333333"/>
<rect x="147.0" y="251.7" width="5.5" height="12.6" fill="#242424"/>
<rect x="152.0" y="158.8" width="5.5" height="12.6" fill="#454545"/>
<rect x="152.0" y="170.9" width="5.5" height="24.8" fill="#333333"/>
<rect x="152.0" y="195.1" width="5.5" height="8.6" fill="#242424"/>
<rect x="152.0" y="203.2" width="5.5" height="8.6" fill="#333333"/>
<rect x="152.0" y="211.3" width="5.5" height="8.6" fill="#454545"/>
<rect x="152.0" y="219.4" width="5.5" height="16.7" fill="#242424"/>
<rect x="152.0" y="235.6" width="5.5" height="16.7" fill="#141414"/>
<rect x="152.0" y="251.7" width="5.5" height="12.6" fill="#242424"/>
<rect x="157.0" y="158.8" width="5.5" height="12.6" fill="#454545"/>
<rect x="157.0" y="170.9" width="5.5" height="8.6" fill="#333333"/>
<rect x="157.0" y="179.0" width="5.5" height="24.8" fill="#242424"/>
<rect x="157.0" y="203.2" width="5.5" height="8.6" fill="#b8b8b8"/>
<rect x="157.0" y="211.3" width="5.5" height="53.0" fill="#141414"/>
<rect x="162.0" y="158.8" width="5.5" height="12.6" fill="#333333"/>
<rect x="162.0" y="170.9" width="5.5" height="8.6" fill="#242424"/>
<rect x="162.0" y="179.0" width="5.5" height="8.6" fill="#333333"/>
<rect x="162.0" y="187.1" width="5.5" height="24.8" fill="#fbfbfb"/>
<rect x="162.0" y="211.3" width="5.5" height="8.6" fill="#b8b8b8"/>
<rect x="162.0" y="219.4" width="5.5" height="8.6" fill="#999999"/>
<rect x="162.0" y="227.5" width="5.5" height="8.6" fill="#454545"/>
<rect x="162.0" y="235.6" width="5.5" height="8.6" fill="#242424"/>
<rect x="162.0" y="243.6" width="5.5" height="20.7" fill="#333333"/>
<rect x="167.0" y="158.8" width="5.5" height="44.9" fill="#242424"/>
<rect x="167.0" y="203.2" width="5.5" height="8.6" fill="#333333"/>
<rect x="167.0" y="211.3" width="5.5" height="8.6" fill="#242424"/>
<rect x="167.0" y="219.4" width="5.5" height="16.7" fill="#141414"/>
<rect x="167.0" y="235.6" width="5.5" height="16.7" fill="#242424"/>
<rect x="167.0" y="251.7" width="5.5" height="12.6" fill="#333333"/>
<rect x="172.0" y="158.8" width="5.5" height="20.7" fill="#242424"/>
<rect x="172.0" y="179.0" width="5.5" height="8.6" fill="#333333"/>
<rect x="172.0" y="187.1" width="5.5" height="8.6" fill="#242424"/>
<rect x="172.0" y="195.1" width="5.5" height="8.6" fill="#b8b8b8"/>
<rect x="172.0" y="203.2" width="5.5" height="8.6" fill="#fbfbfb"/>
<rect x="172.0" y="211.3" width="5.5" height="8.6" fill="#999999"/>
<rect x="172.0" y="219.4" width="5.5" height="8.6" fill="#5c5c5c"/>
<rect x="172.0" y="227.5" width="5.5" height="8.6" fill="#454545"/>
<rect x="172.0" y="235.6" width="5.5" height="8.6" fill="#333333"/>
<rect x="172.0" y="243.6" width="5.5" height="20.7" fill="#242424"/>
<rect x="177.0" y="158.8" width="5.5" height="12.6" fill="#5c5c5c"/>
<rect x="177.0" y="170.9" width="5.5" height="8.6" fill="#454545"/>
<rect x="177.0" y="179.0" width="5.5" height="8.6" fill="#333333"/>
<rect x="177.0" y="187.1" width="5.5" height="24.8" fill="#fbfbfb"/>
<rect x="177.0" y="211.3" width="5.5" height="8.6" fill="#5c5c5c"/>
<rect x="177.0" y="219.4" width="5.5" height="8.6" fill="#454545"/>
<rect x="177.0" y="227.5" width="5.5" height="16.7" fill="#333333"/>
<rect x="177.0" y="243.6" width="5.5" height="20.7" fill="#fbfbfb"/>
<rect x="182.0" y="158.8" width="5.5" height="12.6" fill="#454545"/>
<rect x="182.0" y="170.9" width="5.5" height="24.8" fill="#b8b8b8"/>
<rect x="182.0" y="195.1" width="5.5" height="16.7" fill="#fbfbfb"/>
<rect x="182.0" y="211.3" width="5.5" height="8.6" fill="#333333"/>
<rect x="182.0" y="219.4" width="5.5" height="24.8" fill="#242424"/>
<rect x="182.0" y="243.6" width="5.5" height="8.6" fill="#333333"/>
<rect x="182.0" y="251.7" width="5.5" height="12.6" fill="#fbfbfb"/>
<rect x="187.0" y="158.8" width="5.5" height="12.6" fill="#b8b8b8"/>
<rect x="187.0" y="170.9" width="5.5" height="32.8" fill="#333333"/>
<rect x="187.0" y="203.2" width="5.5" height="8.6" fill="#fbfbfb"/>
<rect x="187.0" y="211.3" width="5.5" height="16.7" fill="#242424"/>
<rect x="187.0" y="227.5" width="5.5" height="8.6" fill="#333333"/>
<rect x="187.0" y="235.6" width="5.5" height="28.8" fill="#fbfbfb"/>
<rect x="192.0" y="158.8" width="5.5" height="12.6" fill="#333333"/>
<rect x="192.0" y="170.9" width="5.5" height="32.8" fill="#242424"/>
<rect x="192.0" y="203.2" width="5.5" height="8.6" fill="#fbfbfb"/>
<rect x="192.0" y="211.3" width="5.5" height="8.6" fill="#242424"/>
<rect x="192.0" y="219.4" width="5.5" height="8.6" fill="#333333"/>
<rect x="192.0" y="227.5" width="5.5" height="8.6" fill="#454545"/>
<rect x="192.0" y="235.6" width="5.5" height="8.6" fill="#333333"/>
<rect x="192.0" y="243.6" width="5.5" height="20.7" fill="#fbfbfb"/>
<rect x="197.0" y="158.8" width="5.5" height="12.6" fill="#5c5c5c"/>
<rect x="197.0" y="170.9" width="5.5" height="40.9" fill="#fbfbfb"/>
<rect x="197.0" y="211.3" width="5.5" height="16.7" fill="#242424"/>
<rect x="197.0" y="227.5" width="5.5" height="24.8" fill="#333333"/>
<rect x="197.0" y="251.7" width="5.5" height="12.6" fill="#fbfbfb"/>
<rect x="202.0" y="158.8" width="5.5" height="12.6" fill="#454545"/>
<rect x="202.0" y="170.9" width="5.5" height="16.7" fill="#242424"/>
<rect x="202.0" y="187.1" width="5.5" height="24.8" fill="#fbfbfb"/>
<rect x="202.0" y="211.3" width="5.5" height="8.6" fill="#333333"/>
<rect x="202.0" y="219.4" width="5.5" height="16.7" fill="#242424"/>
<rect x="202.0" y="235.6" width="5.5" height="8.6" fill="#141414"/>
<rect x="202.0" y="243.6" width="5.5" height="8.6" fill="#333333"/>
<rect x="202.0" y="251.7" width="5.5" height="12.6" fill="#fbfbfb"/>
<rect x="207.0" y="158.8" width="5.5" height="12.6" fill="#5c5c5c"/>
<rect x="207.0" y="170.9" width="5.5" height="24.8" fill="#242424"/>
<rect x="207.0" y="195.1" width="5.5" height="8.6" fill="#333333"/>
<rect x="207.0" y="203.2" width="5.5" height="8.6" fill="#fbfbfb"/>
<rect x="207.0" y="211.3" width="5.5" height="8.6" fill="#454545"/>
<rect x="207.0" y="219.4" width="5.5" height="16.7" fill="#242424"/>
<rect x="207.0" y="235.6" width="5.5" height="8.6" fill="#141414"/>
<rect x="207.0" y="243.6" width="5.5" height="8.6" fill="#242424"/>
<rect x="207.0" y="251.7" width="5.5" height="12.6" fill="#fbfbfb"/>
<rect x="212.0" y="158.8" width="5.5" height="28.8" fill="#141414"/>
<rect x="212.0" y="187.1" width="5.5" height="8.6" fill="#b8b8b8"/>
<rect x="212.0" y="195.1" width="5.5" height="16.7" fill="#fbfbfb"/>
<rect x="212.0" y="211.3" width="5.5" height="8.6" fill="#5c5c5c"/>
<rect x="212.0" y="219.4" width="5.5" height="8.6" fill="#333333"/>
<rect x="212.0" y="227.5" width="5.5" height="8.6" fill="#242424"/>
<rect x="212.0" y="235.6" width="5.5" height="8.6" fill="#141414"/>
<rect x="212.0" y="243.6" width="5.5" height="8.6" fill="#333333"/>
<rect x="212.0" y="251.7" width="5.5" height="12.6" fill="#fbfbfb"/>
<rect x="217.0" y="158.8" width="5.5" height="28.8" fill="#141414"/>
<rect x="217.0" y="187.1" width="5.5" height="8.6" fill="#b8b8b8"/>
<rect x="217.0" y="195.1" width="5.5" height="16.7" fill="#fbfbfb"/>
<rect x="217.0" y="211.3" width="5.5" height="8.6" fill="#b8b8b8"/>
<rect x="217.0" y="219.4" width="5.5" height="8.6" fill="#333333"/>
<rect x="217.0" y="227.5" width="5.5" height="8.6" fill="#242424"/>
<rect x="217.0" y="235.6" width="5.5" height="8.6" fill="#141414"/>
<rect x="217.0" y="243.6" width="5.5" height="8.6" fill="#333333"/>
<rect x="217.0" y="251.7" width="5.5" height="12.6" fill="#fbfbfb"/>
<rect x="222.0" y="158.8" width="5.5" height="20.7" fill="#141414"/>
<rect x="222.0" y="179.0" width="5.5" height="16.7" fill="#242424"/>
<rect x="222.0" y="195.1" width="5.5" height="8.6" fill="#fbfbfb"/>
<rect x="222.0" y="203.2" width="5.5" height="16.7" fill="#333333"/>
<rect x="222.0" y="219.4" width="5.5" height="16.7" fill="#242424"/>
<rect x="222.0" y="235.6" width="5.5" height="8.6" fill="#fbfbfb"/>
<rect x="222.0" y="243.6" width="5.5" height="8.6" fill="#333333"/>
<rect x="222.0" y="251.7" width="5.5" height="12.6" fill="#fbfbfb"/>
<rect x="227.0" y="158.8" width="5.5" height="12.6" fill="#454545"/>
<rect x="227.0" y="170.9" width="5.5" height="8.6" fill="#333333"/>
<rect x="227.0" y="179.0" width="5.5" height="8.6" fill="#242424"/>
<rect x="227.0" y="187.1" width="5.5" height="16.7" fill="#fbfbfb"/>
<rect x="227.0" y="203.2" width="5.5" height="8.6" fill="#333333"/>
<rect x="227.0" y="211.3" width="5.5" height="8.6" fill="#454545"/>
<rect x="227.0" y="219.4" width="5.5" height="16.7" fill="#333333"/>
<rect x="227.0" y="235.6" width="5.5" height="28.8" fill="#fbfbfb"/>
<rect x="232.0" y="158.8" width="5.5" height="12.6" fill="#454545"/>
<rect x="232.0" y="170.9" width="5.5" height="8.6" fill="#333333"/>
<rect x="232.0" y="179.0" width="5.5" height="16.7" fill="#242424"/>
<rect x="232.0" y="195.1" width="5.5" height="8.6" fill="#b8b8b8"/>
<rect x="232.0" y="203.2" width="5.5" height="8.6" fill="#fbfbfb"/>
<rect x="232.0" y="211.3" width="5.5" height="16.7" fill="#454545"/>
<rect x="232.0" y="227.5" width="5.5" height="8.6" fill="#333333"/>
<rect x="232.0" y="235.6" width="5.5" height="8.6" fill="#b8b8b8"/>
<rect x="232.0" y="243.6" width="5.5" height="8.6" fill="#333333"/>
<rect x="232.0" y="251.7" width="5.5" height="12.6" fill="#fbfbfb"/>
<rect x="237.0" y="158.8" width="5.5" height="12.6" fill="#333333"/>
<rect x="237.0" y="170.9" width="5.5" height="24.8" fill="#242424"/>
<rect x="237.0" y="195.1" width="5.5" height="8.6" fill="#b8b8b8"/>
<rect x="237.0" y="203.2" width="5.5" height="8.6" fill="#fbfbfb"/>
<rect x="237.0" y="211.3" width="5.5" height="8.6" fill="#b8b8b8"/>
<rect x="237.0" y="219.4" width="5.5" height="32.8" fill="#242424"/>
<rect x="237.0" y="251.7" width="5.5" height="12.6" fill="#333333"/>
<rect x="242.0" y="158.8" width="5.5" height="12.6" fill="#333333"/>
<rect x="242.0" y="170.9" width="5.5" height="16.7" fill="#242424"/>
<rect x="242.0" y="187.1" width="5.5" height="24.8" fill="#fbfbfb"/>
<rect x="242.0" y="211.3" width="5.5" height="8.6" fill="#454545"/>
<rect x="242.0" y="219.4" width="5.5" height="8.6" fill="#333333"/>
<rect x="242.0" y="227.5" width="5.5" height="16.7" fill="#242424"/>
<rect x="242.0" y="243.6" width="5.5" height="20.7" fill="#fbfbfb"/>
<rect x="247.0" y="158.8" width="5.5" height="12.6" fill="#454545"/>
<rect x="247.0" y="170.9" width="5.5" height="8.6" fill="#333333"/>
<rect x="247.0" y="179.0" width="5.5" height="8.6" fill="#242424"/>
<rect x="247.0" y="187.1" width="5.5" height="32.8" fill="#fbfbfb"/>
<rect x="247.0" y="219.4" width="5.5" height="8.6" fill="#333333"/>
<rect x="247.0" y="227.5" width="5.5" height="8.6" fill="#242424"/>
<rect x="247.0" y="235.6" width="5.5" height="28.8" fill="#fbfbfb"/>
<rect x="252.0" y="158.8" width="5.5" height="12.6" fill="#454545"/>
<rect x="252.0" y="170.9" width="5.5" height="16.7" fill="#333333"/>
<rect x="252.0" y="187.1" width="5.5" height="24.8" fill="#fbfbfb"/>
<rect x="252.0" y="211.3" width="5.5" height="16.7" fill="#5c5c5c"/>
<rect x="252.0" y="227.5" width="5.5" height="8.6" fill="#242424"/>
<rect x="252.0" y="235.6" width="5.5" height="8.6" fill="#333333"/>
<rect x="252.0" y="243.6" width="5.5" height="20.7" fill="#fbfbfb"/>
<rect x="257.0" y="158.8" width="5.5" height="28.8" fill="#141414"/>
<rect x="257.0" y="187.1" width="5.5" height="32.8" fill="#fbfbfb"/>
<rect x="257.0" y="219.4" width="5.5" height="8.6" fill="#454545"/>
<rect x="257.0" y="227.5" width="5.5" height="8.6" fill="#242424"/>
<rect x="257.0" y="235.6" width="5.5" height="28.8" fill="#fbfbfb"/>
<rect x="262.0" y="158.8" width="5.5" height="28.8" fill="#141414"/>
<rect x="262.0" y="187.1" width="5.5" height="16.7" fill="#fbfbfb"/>
<rect x="262.0" y="203.2" width="5.5" height="8.6" fill="#242424"/>
<rect x="262.0" y="211.3" width="5.5" height="8.6" fill="#333333"/>
<rect x="262.0" y="219.4" width="5.5" height="8.6" fill="#5c5c5c"/>
<rect x="262.0" y="227.5" width="5.5" height="8.6" fill="#242424"/>
<rect x="262.0" y="235.6" width="5.5" height="28.8" fill="#fbfbfb"/>
<rect x="267.0" y="158.8" width="5.5" height="20.7" fill="#141414"/>
<rect x="267.0" y="179.0" width="5.5" height="8.6" fill="#242424"/>
<rect x="267.0" y="187.1" width="5.5" height="16.7" fill="#fbfbfb"/>
<rect x="267.0" y="203.2" width="5.5" height="16.7" fill="#333333"/>
<rect x="267.0" y="219.4" width="5.5" height="16.7" fill="#242424"/>
<rect x="267.0" y="235.6" width="5.5" height="8.6" fill="#333333"/>
<rect x="267.0" y="243.6" width="5.5" height="20.7" fill="#fbfbfb"/>
<rect x="272.0" y="158.8" width="5.5" height="12.6" fill="#454545"/>
<rect x="272.0" y="170.9" width="5.5" height="24.8" fill="#242424"/>
<rect x="272.0" y="195.1" width="5.5" height="8.6" fill="#b8b8b8"/>
<rect x="272.0" y="203.2" width="5.5" height="8.6" fill="#242424"/>
<rect x="272.0" y="211.3" width="5.5" height="8.6" fill="#b8b8b8"/>
<rect x="272.0" y="219.4" width="5.5" height="16.7" fill="#242424"/>
<rect x="272.0" y="235.6" width="5.5" height="28.8" fill="#fbfbfb"/>
<rect x="277.0" y="158.8" width="5.5" height="12.6" fill="#333333"/>
<rect x="277.0" y="170.9" width="5.5" height="16.7" fill="#242424"/>
<rect x="277.0" y="187.1" width="5.5" height="16.7" fill="#fbfbfb"/>
<rect x="277.0" y="203.2" width="5.5" height="8.6" fill="#333333"/>
<rect x="277.0" y="211.3" width="5.5" height="8.6" fill="#b8b8b8"/>
<rect x="277.0" y="219.4" width="5.5" height="8.6" fill="#333333"/>
<rect x="277.0" y="227.5" width="5.5" height="8.6" fill="#242424"/>
<rect x="277.0" y="235.6" width="5.5" height="8.6" fill="#333333"/>
<rect x="277.0" y="243.6" width="5.5" height="20.7" fill="#fbfbfb"/>
<rect x="282.0" y="158.8" width="5.5" height="28.8" fill="#242424"/>
<rect x="282.0" y="187.1" width="5.5" height="24.8" fill="#fbfbfb"/>
<rect x="282.0" y="211.3" width="5.5" height="8.6" fill="#333333"/>
<rect x="282.0" y="219.4" width="5.5" height="16.7" fill="#242424"/>
<rect x="282.0" y="235.6" width="5.5" height="28.8" fill="#fbfbfb"/>
<rect x="287.0" y="158.8" width="5.5" height="28.8" fill="#242424"/>
<rect x="287.0" y="187.1" width="5.5" height="16.7" fill="#fbfbfb"/>
<rect x="287.0" y="203.2" width="5.5" height="8.6" fill="#b8b8b8"/>
<rect x="287.0" y="211.3" width="5.5" height="8.6" fill="#333333"/>
<rect x="287.0" y="219.4" width="5.5" height="16.7" fill="#242424"/>
<rect x="287.0" y="235.6" width="5.5" height="8.6" fill="#333333"/>
<rect x="287.0" y="243.6" width="5.5" height="20.7" fill="#fbfbfb"/>
<rect x="292.0" y="158.8" width="5.5" height="12.6" fill="#333333"/>
<rect x="292.0" y="170.9" width="5.5" height="8.6" fill="#242424"/>
<rect x="292.0" y="179.0" width="5.5" height="8.6" fill="#333333"/>
<rect x="292.0" y="187.1" width="5.5" height="24.8" fill="#fbfbfb"/>
<rect x="292.0" y="211.3" width="5.5" height="8.6" fill="#454545"/>
<rect x="292.0" y="219.4" width="5.5" height="16.7" fill="#242424"/>
<rect x="292.0" y="235.6" width="5.5" height="28.8" fill="#fbfbfb"/>
<rect x="297.0" y="158.8" width="5.5" height="12.6" fill="#333333"/>
<rect x="297.0" y="170.9" width="5.5" height="16.7" fill="#242424"/>
<rect x="297.0" y="187.1" width="5.5" height="24.8" fill="#fbfbfb"/>
<rect x="297.0" y="211.3" width="5.5" height="8.6" fill="#454545"/>
<rect x="297.0" y="219.4" width="5.5" height="16.7" fill="#242424"/>
<rect x="297.0" y="235.6" width="5.5" height="28.8" fill="#fbfbfb"/>
<rect x="302.0" y="158.8" width="5.5" height="12.6" fill="#333333"/>
<rect x="302.0" y="170.9" width="5.5" height="8.6" fill="#242424"/>
<rect x="302.0" y="179.0" width="5.5" height="32.8" fill="#fbfbfb"/>
<rect x="302.0" y="211.3" width="5.5" height="8.6" fill="#333333"/>
<rect x="302.0" y="219.4" width="5.5" height="16.7" fill="#141414"/>
<rect x="302.0" y="235.6" width="5.5" height="8.6" fill="#333333"/>
<rect x="302.0" y="243.6" width="5.5" height="20.7" fill="#fbfbfb"/>
<rect x="307.0" y="158.8" width="5.5" height="28.8" fill="#242424"/>
<rect x="307.0" y="187.1" width="5.5" height="24.8" fill="#fbfbfb"/>
<rect x="307.0" y="211.3" width="5.5" height="8.6" fill="#454545"/>
<rect x="307.0" y="219.4" width="5.5" height="8.6" fill="#333333"/>
<rect x="307.0" y="227.5" width="5.5" height="8.6" fill="#242424"/>
<rect x="307.0" y="235.6" width="5.5" height="28.8" fill="#fbfbfb"/>
<rect x="312.0" y="158.8" width="5.5" height="12.6" fill="#333333"/>
<rect x="312.0" y="170.9" width="5.5" height="16.7" fill="#242424"/>
<rect x="312.0" y="187.1" width="5.5" height="16.7" fill="#fbfbfb"/>
<rect x="312.0" y="203.2" width="5.5" height="8.6" fill="#242424"/>
<rect x="312.0" y="211.3" width="5.5" height="8.6" fill="#333333"/>
<rect x="312.0" y="219.4" width="5.5" height="16.7" fill="#242424"/>
<rect x="312.0" y="235.6" width="5.5" height="28.8" fill="#fbfbfb"/>
<rect x="317.0" y="158.8" width="5.5" height="36.8" fill="#242424"/>
<rect x="317.0" y="195.1" width="5.5" height="8.6" fill="#333333"/>
<rect x="317.0" y="203.2" width="5.5" height="8.6" fill="#242424"/>
<rect x="317.0" y="211.3" width="5.5" height="8.6" fill="#333333"/>
<rect x="317.0" y="219.4" width="5.5" height="24.8" fill="#242424"/>
<rect x="317.0" y="243.6" width="5.5" height="8.6" fill="#333333"/>
<rect x="317.0" y="251.7" width="5.5" height="12.6" fill="#242424"/>
<rect x="322.0" y="158.8" width="5.5" height="12.6" fill="#333333"/>
<rect x="322.0" y="170.9" width="5.5" height="8.6" fill="#242424"/>
<rect x="322.0" y="179.0" width="5.5" height="24.8" fill="#fbfbfb"/>
<rect x="322.0" y="203.2" width="5.5" height="8.6" fill="#333333"/>
<rect x="322.0" y="211.3" width="5.5" height="8.6" fill="#242424"/>
<rect x="322.0" y="219.4" width="5.5" height="8.6" fill="#141414"/>
<rect x="322.0" y="227.5" width="5.5" height="36.8" fill="#242424"/>
<rect x="327.0" y="158.8" width="5.5" height="12.6" fill="#333333"/>
<rect x="327.0" y="170.9" width="5.5" height="32.8" fill="#fbfbfb"/>
<rect x="327.0" y="203.2" width="5.5" height="16.7" fill="#242424"/>
<rect x="327.0" y="219.4" width="5.5" height="8.6" fill="#333333"/>
<rect x="327.0" y="227.5" width="5.5" height="16.7" fill="#242424"/>
<rect x="327.0" y="243.6" width="5.5" height="8.6" fill="#333333"/>
<rect x="327.0" y="251.7" width="5.5" height="12.6" fill="#242424"/>
<rect x="332.0" y="158.8" width="5.5" height="12.6" fill="#454545"/>
<rect x="332.0" y="170.9" width="5.5" height="40.9" fill="#fbfbfb"/>
<rect x="332.0" y="211.3" width="5.5" height="8.6" fill="#333333"/>
<rect x="332.0" y="219.4" width="5.5" height="8.6" fill="#5c5c5c"/>
<rect x="332.0" y="227.5" width="5.5" height="8.6" fill="#454545"/>
<rect x="332.0" y="235.6" width="5.5" height="8.6" fill="#333333"/>
<rect x="332.0" y="243.6" width="5.5" height="20.7" fill="#fbfbfb"/>
<rect x="337.0" y="158.8" width="5.5" height="12.6" fill="#333333"/>
<rect x="337.0" y="170.9" width="5.5" height="16.7" fill="#242424"/>
<rect x="337.0" y="187.1" width="5.5" height="16.7" fill="#fbfbfb"/>
<rect x="337.0" y="203.2" width="5.5" height="8.6" fill="#333333"/>
<rect x="337.0" y="211.3" width="5.5" height="8.6" fill="#454545"/>
<rect x="337.0" y="219.4" width="5.5" height="8.6" fill="#333333"/>
<rect x="337.0" y="227.5" width="5.5" height="16.7" fill="#242424"/>
<rect x="337.0" y="243.6" width="5.5" height="8.6" fill="#333333"/>
<rect x="337.0" y="251.7" width="5.5" height="12.6" fill="#fbfbfb"/>
<rect x="342.0" y="158.8" width="5.5" height="12.6" fill="#fbfbfb"/>
<rect x="342.0" y="170.9" width="5.5" height="16.7" fill="#b8b8b8"/>
<rect x="342.0" y="187.1" width="5.5" height="16.7" fill="#333333"/>
<rect x="342.0" y="203.2" width="5.5" height="8.6" fill="#242424"/>
<rect x="342.0" y="211.3" width="5.5" height="8.6" fill="#333333"/>
<rect x="342.0" y="219.4" width="5.5" height="24.8" fill="#242424"/>
<rect x="342.0" y="243.6" width="5.5" height="8.6" fill="#333333"/>
<rect x="342.0" y="251.7" width="5.5" height="12.6" fill="#242424"/>
<rect x="347.0" y="158.8" width="5.5" height="53.0" fill="#fbfbfb"/>
<rect x="347.0" y="211.3" width="5.5" height="8.6" fill="#454545"/>
<rect x="347.0" y="219.4" width="5.5" height="44.9" fill="#fbfbfb"/>
<rect x="352.0" y="158.8" width="5.5" height="20.7" fill="#fbfbfb"/>
<rect x="352.0" y="179.0" width="5.5" height="16.7" fill="#e6e6e6"/>
<rect x="352.0" y="195.1" width="5.5" height="16.7" fill="#242424"/>
<rect x="352.0" y="211.3" width="5.5" height="8.6" fill="#333333"/>
<rect x="352.0" y="219.4" width="5.5" height="16.7" fill="#454545"/>
<rect x="352.0" y="235.6" width="5.5" height="8.6" fill="#242424"/>
<rect x="352.0" y="243.6" width="5.5" height="8.6" fill="#333333"/>
<rect x="352.0" y="251.7" width="5.5" height="12.6" fill="#e6e6e6"/>
<rect x="357.0" y="158.8" width="5.5" height="12.6" fill="#e6e6e6"/>
<rect x="357.0" y="170.9" width="5.5" height="8.6" fill="#b8b8b8"/>
<rect x="357.0" y="179.0" width="5.5" height="8.6" fill="#5c5c5c"/>
<rect x="357.0" y="187.1" width="5.5" height="8.6" fill="#454545"/>
<rect x="357.0" y="195.1" width="5.5" height="8.6" fill="#242424"/>
<rect x="357.0" y="203.2" width="5.5" height="8.6" fill="#333333"/>
<rect x="357.0" y="211.3" width="5.5" height="8.6" fill="#5c5c5c"/>
<rect x="357.0" y="219.4" width="5.5" height="8.6" fill="#999999"/>
<rect x="357.0" y="227.5" width="5.5" height="8.6" fill="#b8b8b8"/>
<rect x="357.0" y="235.6" width="5.5" height="8.6" fill="#5c5c5c"/>
<rect x="357.0" y="243.6" width="5.5" height="20.7" fill="#fbfbfb"/>
<rect x="362.0" y="158.8" width="5.5" height="12.6" fill="#5c5c5c"/>
<rect x="362.0" y="170.9" width="5.5" height="8.6" fill="#999999"/>
<rect x="362.0" y="179.0" width="5.5" height="8.6" fill="#e6e6e6"/>
<rect x="362.0" y="187.1" width="5.5" height="8.6" fill="#fbfbfb"/>
<rect x="362.0" y="195.1" width="5.5" height="8.6" fill="#333333"/>
<rect x="362.0" y="203.2" width="5.5" height="8.6" fill="#5c5c5c"/>
<rect x="362.0" y="211.3" width="5.5" height="8.6" fill="#fbfbfb"/>
<rect x="362.0" y="219.4" width="5.5" height="8.6" fill="#e6e6e6"/>
<rect x="362.0" y="227.5" width="5.5" height="8.6" fill="#b8b8b8"/>
<rect x="362.0" y="235.6" width="5.5" height="8.6" fill="#fbfbfb"/>
<rect x="362.0" y="243.6" width="5.5" height="20.7" fill="#242424"/>
<rect x="367.0" y="158.8" width="5.5" height="12.6" fill="#5c5c5c"/>
<rect x="367.0" y="170.9" width="5.5" height="8.6" fill="#e6e6e6"/>
<rect x="367.0" y="179.0" width="5.5" height="8.6" fill="#fbfbfb"/>
<rect x="367.0" y="187.1" width="5.5" height="8.6" fill="#454545"/>
<rect x="367.0" y="195.1" width="5.5" height="8.6" fill="#242424"/>
<rect x="367.0" y="203.2" width="5.5" height="8.6" fill="#5c5c5c"/>
<rect x="367.0" y="211.3" width="5.5" height="8.6" fill="#fbfbfb"/>
<rect x="367.0" y="219.4" width="5.5" height="16.7" fill="#b8b8b8"/>
<rect x="367.0" y="235.6" width="5.5" height="8.6" fill="#5c5c5c"/>
<rect x="367.0" y="243.6" width="5.5" height="8.6" fill="#242424"/>
<rect x="367.0" y="251.7" width="5.5" height="12.6" fill="#454545"/>
<rect x="372.0" y="158.8" width="5.5" height="12.6" fill="#b8b8b8"/>
<rect x="372.0" y="170.9" width="5.5" height="16.7" fill="#999999"/>
<rect x="372.0" y="187.1" width="5.5" height="16.7" fill="#5c5c5c"/>
<rect x="372.0" y="203.2" width="5.5" height="16.7" fill="#999999"/>
<rect x="372.0" y="219.4" width="5.5" height="8.6" fill="#fbfbfb"/>
<rect x="372.0" y="227.5" width="5.5" height="8.6" fill="#b8b8b8"/>
<rect x="372.0" y="235.6" width="5.5" height="8.6" fill="#5c5c5c"/>
<rect x="372.0" y="243.6" width="5.5" height="8.6" fill="#454545"/>
<rect x="372.0" y="251.7" width="5.5" height="12.6" fill="#5c5c5c"/>
<rect x="377.0" y="158.8" width="5.5" height="20.7" fill="#fbfbfb"/>
<rect x="377.0" y="179.0" width="5.5" height="8.6" fill="#b8b8b8"/>
<rect x="377.0" y="187.1" width="5.5" height="8.6" fill="#999999"/>
<rect x="377.0" y="195.1" width="5.5" height="8.6" fill="#5c5c5c"/>
<rect x="377.0" y="203.2" width="5.5" height="8.6" fill="#b8b8b8"/>
<rect x="377.0" y="211.3" width="5.5" height="16.7" fill="#fbfbfb"/>
<rect x="377.0" y="227.5" width="5.5" height="8.6" fill="#b8b8b8"/>
<rect x="377.0" y="235.6" width="5.5" height="8.6" fill="#5c5c5c"/>
<rect x="377.0" y="243.6" width="5.5" height="8.6" fill="#e6e6e6"/>
<rect x="377.0" y="251.7" width="5.5" height="12.6" fill="#b8b8b8"/>
<rect x="382.0" y="158.8" width="5.5" height="12.6" fill="#b8b8b8"/>
<rect x="382.0" y="170.9" width="5.5" height="8.6" fill="#5c5c5c"/>
<rect x="382.0" y="179.0" width="5.5" height="40.9" fill="#fbfbfb"/>
<rect x="382.0" y="219.4" width="5.5" height="8.6" fill="#999999"/>
<rect x="382.0" y="227.5" width="5.5" height="8.6" fill="#5c5c5c"/>
<rect x="382.0" y="235.6" width="5.5" height="8.6" fill="#fbfbfb"/>
<rect x="382.0" y="243.6" width="5.5" height="8.6" fill="#242424"/>
<rect x="382.0" y="251.7" width="5.5" height="12.6" fill="#333333"/>
<rect x="387.0" y="158.8" width="5.5" height="12.6" fill="#5c5c5c"/>
<rect x="387.0" y="170.9" width="5.5" height="8.6" fill="#242424"/>
<rect x="387.0" y="179.0" width="5.5" height="8.6" fill="#e6e6e6"/>
<rect x="387.0" y="187.1" width="5.5" height="16.7" fill="#fbfbfb"/>
<rect x="387.0" y="203.2" width="5.5" height="8.6" fill="#b8b8b8"/>
<rect x="387.0" y="211.3" width="5.5" height="16.7" fill="#fbfbfb"/>
<rect x="387.0" y="227.5" width="5.5" height="8.6" fill="#b8b8b8"/>
<rect x="387.0" y="235.6" width="5.5" height="8.6" fill="#454545"/>
<rect x="387.0" y="243.6" width="5.5" height="20.7" fill="#242424"/>
<rect x="392.0" y="158.8" width="5.5" height="12.6" fill="#5c5c5c"/>
<rect x="392.0" y="170.9" width="5.5" height="8.6" fill="#242424"/>
<rect x="392.0" y="179.0" width="5.5" height="8.6" fill="#333333"/>
<rect x="392.0" y="187.1" width="5.5" height="8.6" fill="#5c5c5c"/>
<rect x="392.0" y="195.1" width="5.5" height="8.6" fill="#b8b8b8"/>
<rect x="392.0" y="203.2" width="5.5" height="8.6" fill="#999999"/>
<rect x="392.0" y="211.3" width="5.5" height="8.6" fill="#fbfbfb"/>
<rect x="392.0" y="219.4" width="5.5" height="8.6" fill="#b8b8b8"/>
<rect x="392.0" y="227.5" width="5.5" height="8.6" fill="#999999"/>
<rect x="392.0" y="235.6" width="5.5" height="8.6" fill="#5c5c5c"/>
<rect x="392.0" y="243.6" width="5.5" height="8.6" fill="#242424"/>
<rect x="392.0" y="251.7" width="5.5" height="12.6" fill="#333333"/>
<rect x="397.0" y="158.8" width="5.5" height="12.6" fill="#333333"/>
<rect x="397.0" y="170.9" width="5.5" height="8.6" fill="#242424"/>
<rect x="397.0" y="179.0" width="5.5" height="8.6" fill="#454545"/>
<rect x="397.0" y="187.1" width="5.5" height="8.6" fill="#242424"/>
<rect x="397.0" y="195.1" width="5.5" height="40.9" fill="#fbfbfb"/>
<rect x="397.0" y="235.6" width="5.5" height="8.6" fill="#e6e6e6"/>
<rect x="397.0" y="243.6" width="5.5" height="8.6" fill="#242424"/>
<rect x="397.0" y="251.7" width="5.5" height="12.6" fill="#333333"/>
<rect x="402.0" y="158.8" width="5.5" height="12.6" fill="#5c5c5c"/>
<rect x="402.0" y="170.9" width="5.5" height="8.6" fill="#454545"/>
<rect x="402.0" y="179.0" width="5.5" height="8.6" fill="#333333"/>
<rect x="402.0" y="187.1" width="5.5" height="8.6" fill="#242424"/>
<rect x="402.0" y="195.1" width="5.5" height="8.6" fill="#333333"/>
<rect x="402.0" y="203.2" width="5.5" height="8.6" fill="#242424"/>
<rect x="402.0" y="211.3" width="5.5" height="8.6" fill="#b8b8b8"/>
<rect x="402.0" y="219.4" width="5.5" height="16.7" fill="#fbfbfb"/>
<rect x="402.0" y="235.6" width="5.5" height="8.6" fill="#454545"/>
<rect x="402.0" y="243.6" width="5.5" height="8.6" fill="#e6e6e6"/>
<rect x="402.0" y="251.7" width="5.5" height="12.6" fill="#242424"/>
<rect x="407.0" y="158.8" width="5.5" height="12.6" fill="#242424"/>
<rect x="407.0" y="170.9" width="5.5" height="8.6" fill="#333333"/>
<rect x="407.0" y="179.0" width="5.5" height="8.6" fill="#242424"/>
<rect x="407.0" y="187.1" width="5.5" height="8.6" fill="#454545"/>
<rect x="407.0" y="195.1" width="5.5" height="8.6" fill="#242424"/>
<rect x="407.0" y="203.2" width="5.5" height="8.6" fill="#141414"/>
<rect x="407.0" y="211.3" width="5.5" height="8.6" fill="#454545"/>
<rect x="407.0" y="219.4" width="5.5" height="16.7" fill="#141414"/>
<rect x="407.0" y="235.6" width="5.5" height="16.7" fill="#242424"/>
<rect x="407.0" y="251.7" width="5.5" height="12.6" fill="#141414"/>
<rect x="412.0" y="158.8" width="5.5" height="12.6" fill="#454545"/>
<rect x="412.0" y="170.9" width="5.5" height="8.6" fill="#242424"/>
<rect x="412.0" y="179.0" width="5.5" height="8.6" fill="#333333"/>
<rect x="412.0" y="187.1" width="5.5" height="24.8" fill="#242424"/>
<rect x="412.0" y="211.3" width="5.5" height="8.6" fill="#333333"/>
<rect x="412.0" y="219.4" width="5.5" height="24.8" fill="#242424"/>
<rect x="412.0" y="243.6" width="5.5" height="8.6" fill="#b8b8b8"/>
<rect x="412.0" y="251.7" width="5.5" height="12.6" fill="#fbfbfb"/>
<rect x="417.0" y="158.8" width="5.5" height="53.0" fill="#fbfbfb"/>
<rect x="417.0" y="211.3" width="5.5" height="8.6" fill="#454545"/>
<rect x="417.0" y="219.4" width="5.5" height="16.7" fill="#242424"/>
<rect x="417.0" y="235.6" width="5.5" height="8.6" fill="#141414"/>
<rect x="417.0" y="243.6" width="5.5" height="20.7" fill="#242424"/>
<rect x="422.0" y="158.8" width="5.5" height="20.7" fill="#fbfbfb"/>
<rect x="422.0" y="179.0" width="5.5" height="16.7" fill="#b8b8b8"/>
<rect x="422.0" y="195.1" width="5.5" height="24.8" fill="#fbfbfb"/>
<rect x="422.0" y="219.4" width="5.5" height="8.6" fill="#454545"/>
<rect x="422.0" y="227.5" width="5.5" height="16.7" fill="#242424"/>
<rect x="422.0" y="243.6" width="5.5" height="20.7" fill="#fbfbfb"/>
<rect x="427.0" y="158.8" width="5.5" height="12.6" fill="#999999"/>
<rect x="427.0" y="170.9" width="5.5" height="8.6" fill="#fbfbfb"/>
<rect x="427.0" y="179.0" width="5.5" height="16.7" fill="#b8b8b8"/>
<rect x="427.0" y="195.1" width="5.5" height="24.8" fill="#fbfbfb"/>
<rect x="427.0" y="219.4" width="5.5" height="8.6" fill="#5c5c5c"/>
<rect x="427.0" y="227.5" width="5.5" height="16.7" fill="#242424"/>
<rect x="427.0" y="243.6" width="5.5" height="20.7" fill="#fbfbfb"/>
<rect x="432.0" y="158.8" width="5.5" height="12.6" fill="#b8b8b8"/>
<rect x="432.0" y="170.9" width="5.5" height="40.9" fill="#fbfbfb"/>
<rect x="432.0" y="211.3" width="5.5" height="8.6" fill="#b8b8b8"/>
<rect x="432.0" y="219.4" width="5.5" height="8.6" fill="#333333"/>
<rect x="432.0" y="227.5" width="5.5" height="16.7" fill="#242424"/>
<rect x="432.0" y="243.6" width="5.5" height="20.7" fill="#fbfbfb"/>
<rect x="437.0" y="158.8" width="5.5" height="36.8" fill="#fbfbfb"/>
<rect x="437.0" y="195.1" width="5.5" height="8.6" fill="#999999"/>
<rect x="437.0" y="203.2" width="5.5" height="8.6" fill="#fbfbfb"/>
<rect x="437.0" y="211.3" width="5.5" height="8.6" fill="#5c5c5c"/>
<rect x="437.0" y="219.4" width="5.5" height="16.7" fill="#333333"/>
<rect x="437.0" y="235.6" width="5.5" height="28.8" fill="#fbfbfb"/>
<rect x="442.0" y="158.8" width="5.5" height="12.6" fill="#333333"/>
<rect x="442.0" y="170.9" width="5.5" height="16.7" fill="#242424"/>
<rect x="442.0" y="187.1" width="5.5" height="8.6" fill="#5c5c5c"/>
<rect x="442.0" y="195.1" width="5.5" height="49.0" fill="#242424"/>
<rect x="442.0" y="243.6" width="5.5" height="20.7" fill="#fbfbfb"/>
<rect x="447.0" y="158.8" width="5.5" height="12.6" fill="#b8b8b8"/>
<rect x="447.0" y="170.9" width="5.5" height="24.8" fill="#5c5c5c"/>
<rect x="447.0" y="195.1" width="5.5" height="8.6" fill="#b8b8b8"/>
<rect x="447.0" y="203.2" width="5.5" height="8.6" fill="#fbfbfb"/>
<rect x="447.0" y="211.3" width="5.5" height="8.6" fill="#454545"/>
<rect x="447.0" y="219.4" width="5.5" height="16.7" fill="#5c5c5c"/>
<rect x="447.0" y="235.6" width="5.5" height="8.6" fill="#454545"/>
<rect x="447.0" y="243.6" width="5.5" height="8.6" fill="#b8b8b8"/>
<rect x="447.0" y="251.7" width="5.5" height="12.6" fill="#fbfbfb"/>
<rect x="452.0" y="158.8" width="5.5" height="53.0" fill="#fbfbfb"/>
<rect x="452.0" y="211.3" width="5.5" height="8.6" fill="#242424"/>
<rect x="452.0" y="219.4" width="5.5" height="16.7" fill="#141414"/>
<rect x="452.0" y="235.6" width="5.5" height="16.7" fill="#242424"/>
<rect x="452.0" y="251.7" width="5.5" height="12.6" fill="#454545"/>
<rect x="457.0" y="158.8" width="5.5" height="61.1" fill="#fbfbfb"/>
<rect x="457.0" y="219.4" width="5.5" height="32.8" fill="#242424"/>
<rect x="457.0" y="251.7" width="5.5" height="12.6" fill="#5c5c5c"/>
<rect x="462.0" y="158.8" width="5.5" height="12.6" fill="#999999"/>
<rect x="462.0" y="170.9" width="5.5" height="8.6" fill="#5c5c5c"/>
<rect x="462.0" y="179.0" width="5.5" height="40.9" fill="#fbfbfb"/>
<rect x="462.0" y="219.4" width="5.5" height="8.6" fill="#b8b8b8"/>
<rect x="462.0" y="227.5" width="5.5" height="36.8" fill="#fbfbfb"/>
<rect x="467.0" y="158.8" width="5.5" height="12.6" fill="#b8b8b8"/>
<rect x="467.0" y="170.9" width="5.5" height="40.9" fill="#fbfbfb"/>
<rect x="467.0" y="211.3" width="5.5" height="16.7" fill="#242424"/>
<rect x="467.0" y="227.5" width="5.5" height="8.6" fill="#333333"/>
<rect x="467.0" y="235.6" width="5.5" height="28.8" fill="#242424"/>
<rect x="472.0" y="158.8" width="5.5" height="12.6" fill="#fbfbfb"/>
<rect x="472.0" y="170.9" width="5.5" height="8.6" fill="#b8b8b8"/>
<rect x="472.0" y="179.0" width="5.5" height="8.6" fill="#5c5c5c"/>
<rect x="472.0" y="187.1" width="5.5" height="8.6" fill="#333333"/>
<rect x="472.0" y="195.1" width="5.5" height="16.7" fill="#242424"/>
<rect x="472.0" y="211.3" width="5.5" height="8.6" fill="#454545"/>
<rect x="472.0" y="219.4" width="5.5" height="8.6" fill="#5c5c5c"/>
<rect x="472.0" y="227.5" width="5.5" height="8.6" fill="#333333"/>
<rect x="472.0" y="235.6" width="5.5" height="8.6" fill="#242424"/>
<rect x="472.0" y="243.6" width="5.5" height="8.6" fill="#fbfbfb"/>
<rect x="472.0" y="251.7" width="5.5" height="12.6" fill="#242424"/>
<rect x="477.0" y="158.8" width="5.5" height="20.7" fill="#fbfbfb"/>
<rect x="477.0" y="179.0" width="5.5" height="8.6" fill="#b8b8b8"/>
<rect x="477.0" y="187.1" width="5.5" height="57.1" fill="#242424"/>
<rect x="477.0" y="243.6" width="5.5" height="8.6" fill="#333333"/>
<rect x="477.0" y="251.7" width="5.5" height="12.6" fill="#5c5c5c"/>
<rect x="482.0" y="158.8" width="5.5" height="53.0" fill="#fbfbfb"/>
<rect x="482.0" y="211.3" width="5.5" height="24.8" fill="#b8b8b8"/>
<rect x="482.0" y="235.6" width="5.5" height="28.8" fill="#fbfbfb"/>
<rect x="487.0" y="158.8" width="5.5" height="105.5" fill="#fbfbfb"/>
<rect x="492.0" y="158.8" width="5.5" height="105.5" fill="#fbfbfb"/>
<rect x="497.0" y="158.8" width="5.5" height="105.5" fill="#fbfbfb"/>
<rect x="502.0" y="158.8" width="5.5" height="105.5" fill="#fbfbfb"/>
<rect x="507.0" y="158.8" width="9.5" height="105.5" fill="#fbfbfb"/></g><g fill="#1020c0" opacity="0.85"><rect x="163.5" y="187.1" width="2.1" height="8.6"/>
<rect x="163.5" y="195.1" width="2.1" height="8.6"/>
<rect x="163.5" y="203.2" width="2.1" height="8.6"/>
<rect x="172.4" y="203.2" width="2.1" height="8.6"/>
<rect x="178.5" y="187.1" width="2.1" height="8.6"/>
<rect x="178.5" y="195.1" width="2.1" height="8.6"/>
<rect x="178.5" y="203.2" width="2.1" height="8.6"/>
<rect x="178.5" y="243.6" width="2.1" height="8.6"/>
<rect x="178.5" y="251.7" width="2.1" height="8.6"/>
<rect x="184.6" y="195.1" width="2.1" height="8.6"/>
<rect x="184.6" y="203.2" width="2.1" height="8.6"/>
<rect x="184.6" y="251.7" width="2.1" height="8.6"/>
<rect x="187.4" y="203.2" width="2.1" height="8.6"/>
<rect x="187.4" y="235.6" width="2.1" height="8.6"/>
<rect x="187.4" y="243.6" width="2.1" height="8.6"/>
<rect x="187.4" y="251.7" width="2.1" height="8.6"/>
<rect x="193.5" y="203.2" width="2.1" height="8.6"/>
<rect x="193.5" y="243.6" width="2.1" height="8.6"/>
<rect x="193.5" y="251.7" width="2.1" height="8.6"/>
<rect x="199.6" y="170.9" width="2.1" height="8.6"/>
<rect x="199.6" y="179.0" width="2.1" height="8.6"/>
<rect x="199.6" y="187.1" width="2.1" height="8.6"/>
<rect x="199.6" y="195.1" width="2.1" height="8.6"/>
<rect x="199.6" y="203.2" width="2.1" height="8.6"/>
<rect x="199.6" y="251.7" width="2.1" height="8.6"/>
<rect x="202.4" y="187.1" width="2.1" height="8.6"/>
<rect x="202.4" y="195.1" width="2.1" height="8.6"/>
<rect x="202.4" y="203.2" width="2.1" height="8.6"/>
<rect x="202.4" y="251.7" width="2.1" height="8.6"/>
<rect x="208.5" y="203.2" width="2.1" height="8.6"/>
<rect x="208.5" y="251.7" width="2.1" height="8.6"/>
<rect x="214.6" y="195.1" width="2.1" height="8.6"/>
<rect x="214.6" y="203.2" width="2.1" height="8.6"/>
<rect x="214.6" y="251.7" width="2.1" height="8.6"/>
<rect x="217.4" y="195.1" width="2.1" height="8.6"/>
<rect x="217.4" y="203.2" width="2.1" height="8.6"/>
<rect x="217.4" y="251.7" width="2.1" height="8.6"/>
<rect x="223.5" y="195.1" width="2.1" height="8.6"/>
<rect x="223.5" y="235.6" width="2.1" height="8.6"/>
<rect x="223.5" y="251.7" width="2.1" height="8.6"/>
<rect x="229.6" y="187.1" width="2.1" height="8.6"/>
<rect x="229.6" y="195.1" width="2.1" height="8.6"/>
<rect x="229.6" y="235.6" width="2.1" height="8.6"/>
<rect x="229.6" y="243.6" width="2.1" height="8.6"/>
<rect x="229.6" y="251.7" width="2.1" height="8.6"/>
<rect x="232.4" y="203.2" width="2.1" height="8.6"/>
<rect x="232.4" y="251.7" width="2.1" height="8.6"/>
<rect x="238.5" y="203.2" width="2.1" height="8.6"/>
<rect x="244.6" y="187.1" width="2.1" height="8.6"/>
<rect x="244.6" y="195.1" width="2.1" height="8.6"/>
<rect x="244.6" y="203.2" width="2.1" height="8.6"/>
<rect x="244.6" y="243.6" width="2.1" height="8.6"/>
<rect x="244.6" y="251.7" width="2.1" height="8.6"/>
<rect x="247.4" y="187.1" width="2.1" height="8.6"/>
<rect x="247.4" y="195.1" width="2.1" height="8.6"/>
<rect x="247.4" y="203.2" width="2.1" height="8.6"/>
<rect x="247.4" y="211.3" width="2.1" height="8.6"/>
<rect x="247.4" y="235.6" width="2.1" height="8.6"/>
<rect x="247.4" y="243.6" width="2.1" height="8.6"/>
<rect x="247.4" y="251.7" width="2.1" height="8.6"/>
<rect x="253.5" y="187.1" width="2.1" height="8.6"/>
<rect x="253.5" y="195.1" width="2.1" height="8.6"/>
<rect x="253.5" y="203.2" width="2.1" height="8.6"/>
<rect x="253.5" y="243.6" width="2.1" height="8.6"/>
<rect x="253.5" y="251.7" width="2.1" height="8.6"/>
<rect x="259.6" y="187.1" width="2.1" height="8.6"/>
<rect x="259.6" y="195.1" width="2.1" height="8.6"/>
<rect x="259.6" y="203.2" width="2.1" height="8.6"/>
<rect x="259.6" y="211.3" width="2.1" height="8.6"/>
<rect x="259.6" y="235.6" width="2.1" height="8.6"/>
<rect x="259.6" y="243.6" width="2.1" height="8.6"/>
<rect x="259.6" y="251.7" width="2.1" height="8.6"/>
<rect x="262.4" y="187.1" width="2.1" height="8.6"/>
<rect x="262.4" y="195.1" width="2.1" height="8.6"/>
<rect x="262.4" y="235.6" width="2.1" height="8.6"/>
<rect x="262.4" y="243.6" width="2.1" height="8.6"/>
<rect x="262.4" y="251.7" width="2.1" height="8.6"/>
<rect x="268.5" y="187.1" width="2.1" height="8.6"/>
<rect x="268.5" y="195.1" width="2.1" height="8.6"/>
<rect x="268.5" y="243.6" width="2.1" height="8.6"/>
<rect x="268.5" y="251.7" width="2.1" height="8.6"/>
<rect x="274.6" y="235.6" width="2.1" height="8.6"/>
<rect x="274.6" y="243.6" width="2.1" height="8.6"/>
<rect x="274.6" y="251.7" width="2.1" height="8.6"/>
<rect x="277.4" y="187.1" width="2.1" height="8.6"/>
<rect x="277.4" y="195.1" width="2.1" height="8.6"/>
<rect x="277.4" y="243.6" width="2.1" height="8.6"/>
<rect x="277.4" y="251.7" width="2.1" height="8.6"/>
<rect x="283.5" y="187.1" width="2.1" height="8.6"/>
<rect x="283.5" y="195.1" width="2.1" height="8.6"/>
<rect x="283.5" y="203.2" width="2.1" height="8.6"/>
<rect x="283.5" y="235.6" width="2.1" height="8.6"/>
<rect x="283.5" y="243.6" width="2.1" height="8.6"/>
<rect x="283.5" y="251.7" width="2.1" height="8.6"/>
<rect x="289.6" y="187.1" width="2.1" height="8.6"/>
<rect x="289.6" y="195.1" width="2.1" height="8.6"/>
<rect x="289.6" y="243.6" width="2.1" height="8.6"/>
<rect x="289.6" y="251.7" width="2.1" height="8.6"/>
<rect x="292.4" y="187.1" width="2.1" height="8.6"/>
<rect x="292.4" y="195.1" width="2.1" height="8.6"/>
<rect x="292.4" y="203.2" width="2.1" height="8.6"/>
<rect x="292.4" y="235.6" width="2.1" height="8.6"/>
<rect x="292.4" y="243.6" width="2.1" height="8.6"/>
<rect x="292.4" y="251.7" width="2.1" height="8.6"/>
<rect x="298.5" y="187.1" width="2.1" height="8.6"/>
<rect x="298.5" y="195.1" width="2.1" height="8.6"/>
<rect x="298.5" y="203.2" width="2.1" height="8.6"/>
<rect x="298.5" y="235.6" width="2.1" height="8.6"/>
<rect x="298.5" y="243.6" width="2.1" height="8.6"/>
<rect x="298.5" y="251.7" width="2.1" height="8.6"/>
<rect x="304.6" y="179.0" width="2.1" height="8.6"/>
<rect x="304.6" y="187.1" width="2.1" height="8.6"/>
<rect x="304.6" y="195.1" width="2.1" height="8.6"/>
<rect x="304.6" y="203.2" width="2.1" height="8.6"/>
<rect x="304.6" y="243.6" width="2.1" height="8.6"/>
<rect x="304.6" y="251.7" width="2.1" height="8.6"/>
<rect x="307.4" y="187.1" width="2.1" height="8.6"/>
<rect x="307.4" y="195.1" width="2.1" height="8.6"/>
<rect x="307.4" y="203.2" width="2.1" height="8.6"/>
<rect x="307.4" y="235.6" width="2.1" height="8.6"/>
<rect x="307.4" y="243.6" width="2.1" height="8.6"/>
<rect x="307.4" y="251.7" width="2.1" height="8.6"/>
<rect x="313.5" y="187.1" width="2.1" height="8.6"/>
<rect x="313.5" y="195.1" width="2.1" height="8.6"/>
<rect x="313.5" y="235.6" width="2.1" height="8.6"/>
<rect x="313.5" y="243.6" width="2.1" height="8.6"/>
<rect x="313.5" y="251.7" width="2.1" height="8.6"/>
<rect x="322.4" y="179.0" width="2.1" height="8.6"/>
<rect x="322.4" y="187.1" width="2.1" height="8.6"/>
<rect x="322.4" y="195.1" width="2.1" height="8.6"/>
<rect x="328.5" y="170.9" width="2.1" height="8.6"/>
<rect x="328.5" y="179.0" width="2.1" height="8.6"/>
<rect x="328.5" y="187.1" width="2.1" height="8.6"/>
<rect x="328.5" y="195.1" width="2.1" height="8.6"/>
<rect x="334.6" y="170.9" width="2.1" height="8.6"/>
<rect x="334.6" y="179.0" width="2.1" height="8.6"/>
<rect x="334.6" y="187.1" width="2.1" height="8.6"/>
<rect x="334.6" y="195.1" width="2.1" height="8.6"/>
<rect x="334.6" y="203.2" width="2.1" height="8.6"/>
<rect x="334.6" y="243.6" width="2.1" height="8.6"/>
<rect x="334.6" y="251.7" width="2.1" height="8.6"/>
<rect x="337.4" y="187.1" width="2.1" height="8.6"/>
<rect x="337.4" y="195.1" width="2.1" height="8.6"/>
<rect x="337.4" y="251.7" width="2.1" height="8.6"/>
<rect x="343.5" y="162.8" width="2.1" height="8.6"/>
<rect x="349.6" y="162.8" width="2.1" height="8.6"/>
<rect x="349.6" y="170.9" width="2.1" height="8.6"/>
<rect x="349.6" y="179.0" width="2.1" height="8.6"/>
<rect x="349.6" y="187.1" width="2.1" height="8.6"/>
<rect x="349.6" y="195.1" width="2.1" height="8.6"/>
<rect x="349.6" y="203.2" width="2.1" height="8.6"/>
<rect x="349.6" y="219.4" width="2.1" height="8.6"/>
<rect x="349.6" y="227.5" width="2.1" height="8.6"/>
<rect x="349.6" y="235.6" width="2.1" height="8.6"/>
<rect x="349.6" y="243.6" width="2.1" height="8.6"/>
<rect x="349.6" y="251.7" width="2.1" height="8.6"/>
<rect x="352.4" y="162.8" width="2.1" height="8.6"/>
<rect x="352.4" y="170.9" width="2.1" height="8.6"/>
<rect x="352.4" y="179.0" width="2.1" height="8.6"/>
<rect x="352.4" y="187.1" width="2.1" height="8.6"/>
<rect x="352.4" y="251.7" width="2.1" height="8.6"/>
<rect x="358.5" y="162.8" width="2.1" height="8.6"/>
<rect x="358.5" y="243.6" width="2.1" height="8.6"/>
<rect x="358.5" y="251.7" width="2.1" height="8.6"/></g><polyline points="100.0,167.3 150.0,166.3 200.0,165.6 300.0,164.5 474.4,164.4" fill="none" stroke="#ff5010" stroke-width="1.2" opacity="0.6"/></g><rect x="199.5" y="230.9" width="39.3" height="15.7" fill="none" stroke="#fff" stroke-width="1.6"/><rect x="22.5" y="321.0" width="488.0" height="98.40000000000003" fill="none" stroke="#999" stroke-width="1"/>
<line x1="22.5" y1="331.40000000000003" x2="28.0" y2="331.40000000000003" stroke="#999" stroke-width="1"/>
<line x1="510.5" y1="331.40000000000003" x2="505.0" y2="331.40000000000003" stroke="#999" stroke-width="1"/>
<text x="19.3" y="334.9" text-anchor="end" class="t" textLength="4.21" lengthAdjust="spacingAndGlyphs">6</text>
<line x1="22.5" y1="349.0" x2="28.0" y2="349.0" stroke="#999" stroke-width="1"/>
<line x1="510.5" y1="349.0" x2="505.0" y2="349.0" stroke="#999" stroke-width="1"/>
<text x="19.3" y="352.5" text-anchor="end" class="t" textLength="4.21" lengthAdjust="spacingAndGlyphs">5</text>
<line x1="22.5" y1="366.6" x2="28.0" y2="366.6" stroke="#999" stroke-width="1"/>
<line x1="510.5" y1="366.6" x2="505.0" y2="366.6" stroke="#999" stroke-width="1"/>
<text x="19.3" y="370.1" text-anchor="end" class="t" textLength="4.21" lengthAdjust="spacingAndGlyphs">4</text>
<line x1="22.5" y1="384.20000000000005" x2="28.0" y2="384.20000000000005" stroke="#999" stroke-width="1"/>
<line x1="510.5" y1="384.20000000000005" x2="505.0" y2="384.20000000000005" stroke="#999" stroke-width="1"/>
<text x="19.3" y="387.7" text-anchor="end" class="t" textLength="4.21" lengthAdjust="spacingAndGlyphs">3</text>
<line x1="22.5" y1="401.8" x2="28.0" y2="401.8" stroke="#999" stroke-width="1"/>
<line x1="510.5" y1="401.8" x2="505.0" y2="401.8" stroke="#999" stroke-width="1"/>
<text x="19.3" y="405.3" text-anchor="end" class="t" textLength="4.21" lengthAdjust="spacingAndGlyphs">2</text>
<line x1="73.0" y1="419.40000000000003" x2="73.0" y2="413.90000000000003" stroke="#999" stroke-width="1"/>
<line x1="73.0" y1="321.0" x2="73.0" y2="326.5" stroke="#999" stroke-width="1"/>
<text x="73.0" y="431.4" text-anchor="middle" class="t" textLength="8.42" lengthAdjust="spacingAndGlyphs">10</text>
<line x1="155.9" y1="419.40000000000003" x2="155.9" y2="413.90000000000003" stroke="#999" stroke-width="1"/>
<line x1="155.9" y1="321.0" x2="155.9" y2="326.5" stroke="#999" stroke-width="1"/>
<text x="155.9" y="431.4" text-anchor="middle" class="t" textLength="8.42" lengthAdjust="spacingAndGlyphs">20</text>
<line x1="238.8" y1="419.40000000000003" x2="238.8" y2="413.90000000000003" stroke="#999" stroke-width="1"/>
<line x1="238.8" y1="321.0" x2="238.8" y2="326.5" stroke="#999" stroke-width="1"/>
<text x="238.8" y="431.4" text-anchor="middle" class="t" textLength="8.42" lengthAdjust="spacingAndGlyphs">30</text>
<line x1="321.70000000000005" y1="419.40000000000003" x2="321.70000000000005" y2="413.90000000000003" stroke="#999" stroke-width="1"/>
<line x1="321.70000000000005" y1="321.0" x2="321.70000000000005" y2="326.5" stroke="#999" stroke-width="1"/>
<text x="321.7" y="431.4" text-anchor="middle" class="t" textLength="8.42" lengthAdjust="spacingAndGlyphs">40</text>
<line x1="404.6" y1="419.40000000000003" x2="404.6" y2="413.90000000000003" stroke="#999" stroke-width="1"/>
<line x1="404.6" y1="321.0" x2="404.6" y2="326.5" stroke="#999" stroke-width="1"/>
<text x="404.6" y="431.4" text-anchor="middle" class="t" textLength="8.42" lengthAdjust="spacingAndGlyphs">50</text>
<line x1="487.5" y1="419.40000000000003" x2="487.5" y2="413.90000000000003" stroke="#999" stroke-width="1"/>
<line x1="487.5" y1="321.0" x2="487.5" y2="326.5" stroke="#999" stroke-width="1"/>
<text x="487.5" y="431.4" text-anchor="middle" class="t" textLength="8.42" lengthAdjust="spacingAndGlyphs">60</text>
<text x="266.8" y="442.5" text-anchor="middle" class="l" textLength="101" lengthAdjust="spacingAndGlyphs">Longitudinal Distance (m)</text>
<text transform="translate(11.3,370.9) rotate(-90)" x="0" y="0" text-anchor="middle" class="l" textLength="98.7" lengthAdjust="spacingAndGlyphs">Transverse Distance (m)</text>
<rect x="518.2" y="320.90000000000003" width="14.2" height="98.2" fill="url(#jet)" stroke="#999" stroke-width="0.6"/>
<text x="535.4" y="324.2" class="t" textLength="4.21" lengthAdjust="spacingAndGlyphs">0</text>
<text x="535.4" y="343.8" class="t" textLength="6.73" lengthAdjust="spacingAndGlyphs">-2</text>
<text x="535.4" y="363.4" class="t" textLength="6.73" lengthAdjust="spacingAndGlyphs">-4</text>
<text x="535.4" y="383.0" class="t" textLength="6.73" lengthAdjust="spacingAndGlyphs">-6</text>
<text x="535.4" y="402.6" class="t" textLength="6.73" lengthAdjust="spacingAndGlyphs">-8</text>
<text x="535.4" y="422.2" class="t" textLength="10.94" lengthAdjust="spacingAndGlyphs">-10</text>
<text x="275" y="466.0" text-anchor="middle" class="cap" textLength="59.0" lengthAdjust="spacingAndGlyphs">(<tspan font-weight="bold">c</tspan>) CNN-2</text><g clip-path="url(#cp2)"><g filter="url(#bl2)"><rect x="18.0" y="316.6" width="9.5" height="12.6" fill="#5c5c5c"/>
<rect x="18.0" y="328.7" width="9.5" height="8.6" fill="#808080"/>
<rect x="18.0" y="336.8" width="9.5" height="8.6" fill="#999999"/>
<rect x="18.0" y="344.9" width="9.5" height="24.8" fill="#b8b8b8"/>
<rect x="18.0" y="369.1" width="9.5" height="16.7" fill="#fbfbfb"/>
<rect x="18.0" y="385.3" width="9.5" height="8.6" fill="#e6e6e6"/>
<rect x="18.0" y="393.4" width="9.5" height="28.8" fill="#999999"/>
<rect x="27.0" y="316.6" width="5.5" height="12.6" fill="#333333"/>
<rect x="27.0" y="328.7" width="5.5" height="8.6" fill="#b8b8b8"/>
<rect x="27.0" y="336.8" width="5.5" height="8.6" fill="#e6e6e6"/>
<rect x="27.0" y="344.9" width="5.5" height="16.7" fill="#b8b8b8"/>
<rect x="27.0" y="361.0" width="5.5" height="24.8" fill="#fbfbfb"/>
<rect x="27.0" y="385.3" width="5.5" height="8.6" fill="#e6e6e6"/>
<rect x="27.0" y="393.4" width="5.5" height="28.8" fill="#999999"/>
<rect x="32.0" y="316.6" width="5.5" height="12.6" fill="#242424"/>
<rect x="32.0" y="328.7" width="5.5" height="8.6" fill="#454545"/>
<rect x="32.0" y="336.8" width="5.5" height="8.6" fill="#999999"/>
<rect x="32.0" y="344.9" width="5.5" height="16.7" fill="#b8b8b8"/>
<rect x="32.0" y="361.0" width="5.5" height="24.8" fill="#fbfbfb"/>
<rect x="32.0" y="385.3" width="5.5" height="8.6" fill="#e6e6e6"/>
<rect x="32.0" y="393.4" width="5.5" height="28.8" fill="#999999"/>
<rect x="37.0" y="316.6" width="5.5" height="36.8" fill="#242424"/>
<rect x="37.0" y="352.9" width="5.5" height="8.6" fill="#e6e6e6"/>
<rect x="37.0" y="361.0" width="5.5" height="24.8" fill="#fbfbfb"/>
<rect x="37.0" y="385.3" width="5.5" height="8.6" fill="#b8b8b8"/>
<rect x="37.0" y="393.4" width="5.5" height="28.8" fill="#999999"/>
<rect x="42.0" y="316.6" width="5.5" height="36.8" fill="#242424"/>
<rect x="42.0" y="352.9" width="5.5" height="8.6" fill="#454545"/>
<rect x="42.0" y="361.0" width="5.5" height="8.6" fill="#e6e6e6"/>
<rect x="42.0" y="369.1" width="5.5" height="8.6" fill="#fbfbfb"/>
<rect x="42.0" y="377.2" width="5.5" height="8.6" fill="#e6e6e6"/>
<rect x="42.0" y="385.3" width="5.5" height="8.6" fill="#b8b8b8"/>
<rect x="42.0" y="393.4" width="5.5" height="28.8" fill="#999999"/>
<rect x="47.0" y="316.6" width="5.5" height="12.6" fill="#e6e6e6"/>
<rect x="47.0" y="328.7" width="5.5" height="32.8" fill="#454545"/>
<rect x="47.0" y="361.0" width="5.5" height="8.6" fill="#e6e6e6"/>
<rect x="47.0" y="369.1" width="5.5" height="8.6" fill="#fbfbfb"/>
<rect x="47.0" y="377.2" width="5.5" height="8.6" fill="#b8b8b8"/>
<rect x="47.0" y="385.3" width="5.5" height="8.6" fill="#5c5c5c"/>
<rect x="47.0" y="393.4" width="5.5" height="8.6" fill="#242424"/>
<rect x="47.0" y="401.4" width="5.5" height="8.6" fill="#808080"/>
<rect x="47.0" y="409.5" width="5.5" height="12.6" fill="#999999"/>
<rect x="52.0" y="316.6" width="5.5" height="12.6" fill="#e6e6e6"/>
<rect x="52.0" y="328.7" width="5.5" height="8.6" fill="#fbfbfb"/>
<rect x="52.0" y="336.8" width="5.5" height="16.7" fill="#e6e6e6"/>
<rect x="52.0" y="352.9" width="5.5" height="8.6" fill="#b8b8b8"/>
<rect x="52.0" y="361.0" width="5.5" height="8.6" fill="#454545"/>
<rect x="52.0" y="369.1" width="5.5" height="8.6" fill="#999999"/>
<rect x="52.0" y="377.2" width="5.5" height="8.6" fill="#b8b8b8"/>
<rect x="52.0" y="385.3" width="5.5" height="8.6" fill="#333333"/>
<rect x="52.0" y="393.4" width="5.5" height="8.6" fill="#e6e6e6"/>
<rect x="52.0" y="401.4" width="5.5" height="20.7" fill="#999999"/>
<rect x="57.0" y="316.6" width="5.5" height="12.6" fill="#b8b8b8"/>
<rect x="57.0" y="328.7" width="5.5" height="16.7" fill="#999999"/>
<rect x="57.0" y="344.9" width="5.5" height="8.6" fill="#5c5c5c"/>
<rect x="57.0" y="352.9" width="5.5" height="8.6" fill="#454545"/>
<rect x="57.0" y="361.0" width="5.5" height="8.6" fill="#242424"/>
<rect x="57.0" y="369.1" width="5.5" height="8.6" fill="#e6e6e6"/>
<rect x="57.0" y="377.2" width="5.5" height="8.6" fill="#5c5c5c"/>
<rect x="57.0" y="385.3" width="5.5" height="8.6" fill="#333333"/>
<rect x="57.0" y="393.4" width="5.5" height="8.6" fill="#454545"/>
<rect x="57.0" y="401.4" width="5.5" height="8.6" fill="#5c5c5c"/>
<rect x="57.0" y="409.5" width="5.5" height="12.6" fill="#808080"/>
<rect x="62.0" y="316.6" width="5.5" height="12.6" fill="#e6e6e6"/>
<rect x="62.0" y="328.7" width="5.5" height="16.7" fill="#fbfbfb"/>
<rect x="62.0" y="344.9" width="5.5" height="8.6" fill="#b8b8b8"/>
<rect x="62.0" y="352.9" width="5.5" height="8.6" fill="#5c5c5c"/>
<rect x="62.0" y="361.0" width="5.5" height="16.7" fill="#242424"/>
<rect x="62.0" y="377.2" width="5.5" height="8.6" fill="#141414"/>
<rect x="62.0" y="385.3" width="5.5" height="16.7" fill="#242424"/>
<rect x="62.0" y="401.4" width="5.5" height="20.7" fill="#454545"/>
<rect x="67.0" y="316.6" width="5.5" height="12.6" fill="#e6e6e6"/>
<rect x="67.0" y="328.7" width="5.5" height="16.7" fill="#fbfbfb"/>
<rect x="67.0" y="344.9" width="5.5" height="8.6" fill="#e6e6e6"/>
<rect x="67.0" y="352.9" width="5.5" height="8.6" fill="#5c5c5c"/>
<rect x="67.0" y="361.0" width="5.5" height="40.9" fill="#141414"/>
<rect x="67.0" y="401.4" width="5.5" height="8.6" fill="#242424"/>
<rect x="67.0" y="409.5" width="5.5" height="12.6" fill="#454545"/>
<rect x="72.0" y="316.6" width="5.5" height="12.6" fill="#999999"/>
<rect x="72.0" y="328.7" width="5.5" height="8.6" fill="#e6e6e6"/>
<rect x="72.0" y="336.8" width="5.5" height="8.6" fill="#fbfbfb"/>
<rect x="72.0" y="344.9" width="5.5" height="8.6" fill="#b8b8b8"/>
<rect x="72.0" y="352.9" width="5.5" height="8.6" fill="#454545"/>
<rect x="72.0" y="361.0" width="5.5" height="16.7" fill="#242424"/>
<rect x="72.0" y="377.2" width="5.5" height="8.6" fill="#333333"/>
<rect x="72.0" y="385.3" width="5.5" height="16.7" fill="#242424"/>
<rect x="72.0" y="401.4" width="5.5" height="20.7" fill="#454545"/>
<rect x="77.0" y="316.6" width="5.5" height="12.6" fill="#b8b8b8"/>
<rect x="77.0" y="328.7" width="5.5" height="16.7" fill="#fbfbfb"/>
<rect x="77.0" y="344.9" width="5.5" height="8.6" fill="#e6e6e6"/>
<rect x="77.0" y="352.9" width="5.5" height="8.6" fill="#999999"/>
<rect x="77.0" y="361.0" width="5.5" height="8.6" fill="#454545"/>
<rect x="77.0" y="369.1" width="5.5" height="8.6" fill="#333333"/>
<rect x="77.0" y="377.2" width="5.5" height="16.7" fill="#5c5c5c"/>
<rect x="77.0" y="393.4" width="5.5" height="8.6" fill="#242424"/>
<rect x="77.0" y="401.4" width="5.5" height="8.6" fill="#b8b8b8"/>
<rect x="77.0" y="409.5" width="5.5" height="12.6" fill="#fbfbfb"/>
<rect x="82.0" y="316.6" width="5.5" height="12.6" fill="#e6e6e6"/>
<rect x="82.0" y="328.7" width="5.5" height="16.7" fill="#fbfbfb"/>
<rect x="82.0" y="344.9" width="5.5" height="8.6" fill="#e6e6e6"/>
<rect x="82.0" y="352.9" width="5.5" height="8.6" fill="#b8b8b8"/>
<rect x="82.0" y="361.0" width="5.5" height="8.6" fill="#333333"/>
<rect x="82.0" y="369.1" width="5.5" height="8.6" fill="#e6e6e6"/>
<rect x="82.0" y="377.2" width="5.5" height="8.6" fill="#b8b8b8"/>
<rect x="82.0" y="385.3" width="5.5" height="8.6" fill="#454545"/>
<rect x="82.0" y="393.4" width="5.5" height="8.6" fill="#242424"/>
<rect x="82.0" y="401.4" width="5.5" height="8.6" fill="#454545"/>
<rect x="82.0" y="409.5" width="5.5" height="12.6" fill="#333333"/>
<rect x="87.0" y="316.6" width="5.5" height="20.7" fill="#e6e6e6"/>
<rect x="87.0" y="336.8" width="5.5" height="8.6" fill="#fbfbfb"/>
<rect x="87.0" y="344.9" width="5.5" height="8.6" fill="#e6e6e6"/>
<rect x="87.0" y="352.9" width="5.5" height="8.6" fill="#b8b8b8"/>
<rect x="87.0" y="361.0" width="5.5" height="8.6" fill="#5c5c5c"/>
<rect x="87.0" y="369.1" width="5.5" height="8.6" fill="#fbfbfb"/>
<rect x="87.0" y="377.2" width="5.5" height="8.6" fill="#454545"/>
<rect x="87.0" y="385.3" width="5.5" height="8.6" fill="#333333"/>
<rect x="87.0" y="393.4" width="5.5" height="8.6" fill="#242424"/>
<rect x="87.0" y="401.4" width="5.5" height="8.6" fill="#333333"/>
<rect x="87.0" y="409.5" width="5.5" height="12.6" fill="#242424"/>
<rect x="92.0" y="316.6" width="5.5" height="12.6" fill="#b8b8b8"/>
<rect x="92.0" y="328.7" width="5.5" height="8.6" fill="#454545"/>
<rect x="92.0" y="336.8" width="5.5" height="16.7" fill="#242424"/>
<rect x="92.0" y="352.9" width="5.5" height="8.6" fill="#333333"/>
<rect x="92.0" y="361.0" width="5.5" height="8.6" fill="#454545"/>
<rect x="92.0" y="369.1" width="5.5" height="8.6" fill="#5c5c5c"/>
<rect x="92.0" y="377.2" width="5.5" height="16.7" fill="#b8b8b8"/>
<rect x="92.0" y="393.4" width="5.5" height="8.6" fill="#141414"/>
<rect x="92.0" y="401.4" width="5.5" height="8.6" fill="#454545"/>
<rect x="92.0" y="409.5" width="5.5" height="12.6" fill="#999999"/>
<rect x="97.0" y="316.6" width="5.5" height="20.7" fill="#454545"/>
<rect x="97.0" y="336.8" width="5.5" height="16.7" fill="#333333"/>
<rect x="97.0" y="352.9" width="5.5" height="16.7" fill="#454545"/>
<rect x="97.0" y="369.1" width="5.5" height="8.6" fill="#808080"/>
<rect x="97.0" y="377.2" width="5.5" height="8.6" fill="#b8b8b8"/>
<rect x="97.0" y="385.3" width="5.5" height="8.6" fill="#454545"/>
<rect x="97.0" y="393.4" width="5.5" height="8.6" fill="#333333"/>
<rect x="97.0" y="401.4" width="5.5" height="8.6" fill="#242424"/>
<rect x="97.0" y="409.5" width="5.5" height="12.6" fill="#5c5c5c"/>
<rect x="102.0" y="316.6" width="5.5" height="12.6" fill="#333333"/>
<rect x="102.0" y="328.7" width="5.5" height="32.8" fill="#242424"/>
<rect x="102.0" y="361.0" width="5.5" height="8.6" fill="#333333"/>
<rect x="102.0" y="369.1" width="5.5" height="8.6" fill="#b8b8b8"/>
<rect x="102.0" y="377.2" width="5.5" height="8.6" fill="#5c5c5c"/>
<rect x="102.0" y="385.3" width="5.5" height="16.7" fill="#141414"/>
<rect x="102.0" y="401.4" width="5.5" height="20.7" fill="#242424"/>
<rect x="107.0" y="316.6" width="5.5" height="12.6" fill="#e6e6e6"/>
<rect x="107.0" y="328.7" width="5.5" height="8.6" fill="#fbfbfb"/>
<rect x="107.0" y="336.8" width="5.5" height="8.6" fill="#e6e6e6"/>
<rect x="107.0" y="344.9" width="5.5" height="8.6" fill="#b8b8b8"/>
<rect x="107.0" y="352.9" width="5.5" height="8.6" fill="#999999"/>
<rect x="107.0" y="361.0" width="5.5" height="16.7" fill="#454545"/>
<rect x="107.0" y="377.2" width="5.5" height="8.6" fill="#333333"/>
<rect x="107.0" y="385.3" width="5.5" height="16.7" fill="#141414"/>
<rect x="107.0" y="401.4" width="5.5" height="8.6" fill="#242424"/>
<rect x="107.0" y="409.5" width="5.5" height="12.6" fill="#5c5c5c"/>
<rect x="112.0" y="316.6" width="5.5" height="28.8" fill="#fbfbfb"/>
<rect x="112.0" y="344.9" width="5.5" height="8.6" fill="#e6e6e6"/>
<rect x="112.0" y="352.9" width="5.5" height="8.6" fill="#999999"/>
<rect x="112.0" y="361.0" width="5.5" height="8.6" fill="#454545"/>
<rect x="112.0" y="369.1" width="5.5" height="16.7" fill="#5c5c5c"/>
<rect x="112.0" y="385.3" width="5.5" height="8.6" fill="#333333"/>
<rect x="112.0" y="393.4" width="5.5" height="8.6" fill="#242424"/>
<rect x="112.0" y="401.4" width="5.5" height="8.6" fill="#333333"/>
<rect x="112.0" y="409.5" width="5.5" height="12.6" fill="#e6e6e6"/>
<rect x="117.0" y="316.6" width="5.5" height="12.6" fill="#999999"/>
<rect x="117.0" y="328.7" width="5.5" height="8.6" fill="#333333"/>
<rect x="117.0" y="336.8" width="5.5" height="8.6" fill="#242424"/>
<rect x="117.0" y="344.9" width="5.5" height="24.8" fill="#141414"/>
<rect x="117.0" y="369.1" width="5.5" height="8.6" fill="#333333"/>
<rect x="117.0" y="377.2" width="5.5" height="8.6" fill="#242424"/>
<rect x="117.0" y="385.3" width="5.5" height="16.7" fill="#141414"/>
<rect x="117.0" y="401.4" width="5.5" height="8.6" fill="#242424"/>
<rect x="117.0" y="409.5" width="5.5" height="12.6" fill="#333333"/>
<rect x="122.0" y="316.6" width="5.5" height="28.8" fill="#e6e6e6"/>
<rect x="122.0" y="344.9" width="5.5" height="8.6" fill="#999999"/>
<rect x="122.0" y="352.9" width="5.5" height="8.6" fill="#5c5c5c"/>
<rect x="122.0" y="361.0" width="5.5" height="8.6" fill="#242424"/>
<rect x="122.0" y="369.1" width="5.5" height="8.6" fill="#999999"/>
<rect x="122.0" y="377.2" width="5.5" height="8.6" fill="#5c5c5c"/>
<rect x="122.0" y="385.3" width="5.5" height="8.6" fill="#454545"/>
<rect x="122.0" y="393.4" width="5.5" height="8.6" fill="#242424"/>
<rect x="122.0" y="401.4" width="5.5" height="8.6" fill="#333333"/>
<rect x="122.0" y="409.5" width="5.5" height="12.6" fill="#454545"/>
<rect x="127.0" y="316.6" width="5.5" height="20.7" fill="#fbfbfb"/>
<rect x="127.0" y="336.8" width="5.5" height="8.6" fill="#e6e6e6"/>
<rect x="127.0" y="344.9" width="5.5" height="8.6" fill="#999999"/>
<rect x="127.0" y="352.9" width="5.5" height="8.6" fill="#5c5c5c"/>
<rect x="127.0" y="361.0" width="5.5" height="8.6" fill="#242424"/>
<rect x="127.0" y="369.1" width="5.5" height="8.6" fill="#999999"/>
<rect x="127.0" y="377.2" width="5.5" height="16.7" fill="#5c5c5c"/>
<rect x="127.0" y="393.4" width="5.5" height="8.6" fill="#454545"/>
<rect x="127.0" y="401.4" width="5.5" height="20.7" fill="#b8b8b8"/>
<rect x="132.0" y="316.6" width="5.5" height="28.8" fill="#fbfbfb"/>
<rect x="132.0" y="344.9" width="5.5" height="8.6" fill="#b8b8b8"/>
<rect x="132.0" y="352.9" width="5.5" height="8.6" fill="#454545"/>
<rect x="132.0" y="361.0" width="5.5" height="8.6" fill="#333333"/>
<rect x="132.0" y="369.1" width="5.5" height="8.6" fill="#141414"/>
<rect x="132.0" y="377.2" width="5.5" height="8.6" fill="#454545"/>
<rect x="132.0" y="385.3" width="5.5" height="16.7" fill="#242424"/>
<rect x="132.0" y="401.4" width="5.5" height="20.7" fill="#333333"/>
<rect x="137.0" y="316.6" width="5.5" height="20.7" fill="#fbfbfb"/>
<rect x="137.0" y="336.8" width="5.5" height="8.6" fill="#e6e6e6"/>
<rect x="137.0" y="344.9" width="5.5" height="8.6" fill="#999999"/>
<rect x="137.0" y="352.9" width="5.5" height="8.6" fill="#333333"/>
<rect x="137.0" y="361.0" width="5.5" height="8.6" fill="#b8b8b8"/>
<rect x="137.0" y="369.1" width="5.5" height="16.7" fill="#e6e6e6"/>
<rect x="137.0" y="385.3" width="5.5" height="8.6" fill="#b8b8b8"/>
<rect x="137.0" y="393.4" width="5.5" height="8.6" fill="#454545"/>
<rect x="137.0" y="401.4" width="5.5" height="20.7" fill="#333333"/>
<rect x="142.0" y="316.6" width="5.5" height="12.6" fill="#999999"/>
<rect x="142.0" y="328.7" width="5.5" height="8.6" fill="#5c5c5c"/>
<rect x="142.0" y="336.8" width="5.5" height="8.6" fill="#454545"/>
<rect x="142.0" y="344.9" width="5.5" height="16.7" fill="#242424"/>
<rect x="142.0" y="361.0" width="5.5" height="8.6" fill="#333333"/>
<rect x="142.0" y="369.1" width="5.5" height="8.6" fill="#b8b8b8"/>
<rect x="142.0" y="377.2" width="5.5" height="8.6" fill="#fbfbfb"/>
<rect x="142.0" y="385.3" width="5.5" height="8.6" fill="#e6e6e6"/>
<rect x="142.0" y="393.4" width="5.5" height="8.6" fill="#5c5c5c"/>
<rect x="142.0" y="401.4" width="5.5" height="20.7" fill="#242424"/>
<rect x="147.0" y="316.6" width="5.5" height="12.6" fill="#333333"/>
<rect x="147.0" y="328.7" width="5.5" height="40.9" fill="#242424"/>
<rect x="147.0" y="369.1" width="5.5" height="16.7" fill="#5c5c5c"/>
<rect x="147.0" y="385.3" width="5.5" height="8.6" fill="#454545"/>
<rect x="147.0" y="393.4" width="5.5" height="28.8" fill="#242424"/>
<rect x="152.0" y="316.6" width="5.5" height="20.7" fill="#454545"/>
<rect x="152.0" y="336.8" width="5.5" height="8.6" fill="#333333"/>
<rect x="152.0" y="344.9" width="5.5" height="8.6" fill="#454545"/>
<rect x="152.0" y="352.9" width="5.5" height="16.7" fill="#333333"/>
<rect x="152.0" y="369.1" width="5.5" height="16.7" fill="#141414"/>
<rect x="152.0" y="385.3" width="5.5" height="16.7" fill="#242424"/>
<rect x="152.0" y="401.4" width="5.5" height="20.7" fill="#141414"/>
<rect x="157.0" y="316.6" width="5.5" height="12.6" fill="#454545"/>
<rect x="157.0" y="328.7" width="5.5" height="24.8" fill="#333333"/>
<rect x="157.0" y="352.9" width="5.5" height="8.6" fill="#242424"/>
<rect x="157.0" y="361.0" width="5.5" height="8.6" fill="#333333"/>
<rect x="157.0" y="369.1" width="5.5" height="16.7" fill="#141414"/>
<rect x="157.0" y="385.3" width="5.5" height="16.7" fill="#242424"/>
<rect x="157.0" y="401.4" width="5.5" height="20.7" fill="#141414"/>
<rect x="162.0" y="316.6" width="5.5" height="53.0" fill="#454545"/>
<rect x="162.0" y="369.1" width="5.5" height="8.6" fill="#999999"/>
<rect x="162.0" y="377.2" width="5.5" height="8.6" fill="#e6e6e6"/>
<rect x="162.0" y="385.3" width="5.5" height="8.6" fill="#b8b8b8"/>
<rect x="162.0" y="393.4" width="5.5" height="8.6" fill="#242424"/>
<rect x="162.0" y="401.4" width="5.5" height="8.6" fill="#333333"/>
<rect x="162.0" y="409.5" width="5.5" height="12.6" fill="#454545"/>
<rect x="167.0" y="316.6" width="5.5" height="12.6" fill="#333333"/>
<rect x="167.0" y="328.7" width="5.5" height="32.8" fill="#242424"/>
<rect x="167.0" y="361.0" width="5.5" height="8.6" fill="#141414"/>
<rect x="167.0" y="369.1" width="5.5" height="8.6" fill="#5c5c5c"/>
<rect x="167.0" y="377.2" width="5.5" height="8.6" fill="#454545"/>
<rect x="167.0" y="385.3" width="5.5" height="16.7" fill="#141414"/>
<rect x="167.0" y="401.4" width="5.5" height="20.7" fill="#242424"/>
<rect x="172.0" y="316.6" width="5.5" height="12.6" fill="#333333"/>
<rect x="172.0" y="328.7" width="5.5" height="32.8" fill="#242424"/>
<rect x="172.0" y="361.0" width="5.5" height="8.6" fill="#333333"/>
<rect x="172.0" y="369.1" width="5.5" height="8.6" fill="#808080"/>
<rect x="172.0" y="377.2" width="5.5" height="8.6" fill="#5c5c5c"/>
<rect x="172.0" y="385.3" width="5.5" height="8.6" fill="#454545"/>
<rect x="172.0" y="393.4" width="5.5" height="28.8" fill="#242424"/>
<rect x="177.0" y="316.6" width="5.5" height="20.7" fill="#454545"/>
<rect x="177.0" y="336.8" width="5.5" height="16.7" fill="#333333"/>
<rect x="177.0" y="352.9" width="5.5" height="8.6" fill="#454545"/>
<rect x="177.0" y="361.0" width="5.5" height="8.6" fill="#333333"/>
<rect x="177.0" y="369.1" width="5.5" height="8.6" fill="#5c5c5c"/>
<rect x="177.0" y="377.2" width="5.5" height="8.6" fill="#454545"/>
<rect x="177.0" y="385.3" width="5.5" height="16.7" fill="#141414"/>
<rect x="177.0" y="401.4" width="5.5" height="20.7" fill="#333333"/>
<rect x="182.0" y="316.6" width="5.5" height="12.6" fill="#333333"/>
<rect x="182.0" y="328.7" width="5.5" height="40.9" fill="#242424"/>
<rect x="182.0" y="369.1" width="5.5" height="8.6" fill="#333333"/>
<rect x="182.0" y="377.2" width="5.5" height="8.6" fill="#242424"/>
<rect x="182.0" y="385.3" width="5.5" height="16.7" fill="#141414"/>
<rect x="182.0" y="401.4" width="5.5" height="20.7" fill="#242424"/>
<rect x="187.0" y="316.6" width="5.5" height="12.6" fill="#999999"/>
<rect x="187.0" y="328.7" width="5.5" height="8.6" fill="#5c5c5c"/>
<rect x="187.0" y="336.8" width="5.5" height="8.6" fill="#454545"/>
<rect x="187.0" y="344.9" width="5.5" height="8.6" fill="#333333"/>
<rect x="187.0" y="352.9" width="5.5" height="32.8" fill="#242424"/>
<rect x="187.0" y="385.3" width="5.5" height="16.7" fill="#141414"/>
<rect x="187.0" y="401.4" width="5.5" height="20.7" fill="#242424"/>
<rect x="192.0" y="316.6" width="5.5" height="12.6" fill="#454545"/>
<rect x="192.0" y="328.7" width="5.5" height="8.6" fill="#333333"/>
<rect x="192.0" y="336.8" width="5.5" height="40.9" fill="#242424"/>
<rect x="192.0" y="377.2" width="5.5" height="8.6" fill="#333333"/>
<rect x="192.0" y="385.3" width="5.5" height="8.6" fill="#454545"/>
<rect x="192.0" y="393.4" width="5.5" height="28.8" fill="#242424"/>
<rect x="197.0" y="316.6" width="5.5" height="28.8" fill="#454545"/>
<rect x="197.0" y="344.9" width="5.5" height="8.6" fill="#333333"/>
<rect x="197.0" y="352.9" width="5.5" height="16.7" fill="#242424"/>
<rect x="197.0" y="369.1" width="5.5" height="8.6" fill="#333333"/>
<rect x="197.0" y="377.2" width="5.5" height="32.8" fill="#242424"/>
<rect x="197.0" y="409.5" width="5.5" height="12.6" fill="#333333"/>
<rect x="202.0" y="316.6" width="5.5" height="12.6" fill="#454545"/>
<rect x="202.0" y="328.7" width="5.5" height="8.6" fill="#333333"/>
<rect x="202.0" y="336.8" width="5.5" height="32.8" fill="#242424"/>
<rect x="202.0" y="369.1" width="5.5" height="8.6" fill="#333333"/>
<rect x="202.0" y="377.2" width="5.5" height="8.6" fill="#454545"/>
<rect x="202.0" y="385.3" width="5.5" height="16.7" fill="#141414"/>
<rect x="202.0" y="401.4" width="5.5" height="8.6" fill="#242424"/>
<rect x="202.0" y="409.5" width="5.5" height="12.6" fill="#333333"/>
<rect x="207.0" y="316.6" width="5.5" height="20.7" fill="#454545"/>
<rect x="207.0" y="336.8" width="5.5" height="8.6" fill="#333333"/>
<rect x="207.0" y="344.9" width="5.5" height="40.9" fill="#242424"/>
<rect x="207.0" y="385.3" width="5.5" height="16.7" fill="#141414"/>
<rect x="207.0" y="401.4" width="5.5" height="8.6" fill="#242424"/>
<rect x="207.0" y="409.5" width="5.5" height="12.6" fill="#333333"/>
<rect x="212.0" y="316.6" width="5.5" height="12.6" fill="#333333"/>
<rect x="212.0" y="328.7" width="5.5" height="40.9" fill="#141414"/>
<rect x="212.0" y="369.1" width="5.5" height="16.7" fill="#454545"/>
<rect x="212.0" y="385.3" width="5.5" height="8.6" fill="#242424"/>
<rect x="212.0" y="393.4" width="5.5" height="8.6" fill="#141414"/>
<rect x="212.0" y="401.4" width="5.5" height="8.6" fill="#242424"/>
<rect x="212.0" y="409.5" width="5.5" height="12.6" fill="#333333"/>
<rect x="217.0" y="316.6" width="5.5" height="12.6" fill="#333333"/>
<rect x="217.0" y="328.7" width="5.5" height="40.9" fill="#141414"/>
<rect x="217.0" y="369.1" width="5.5" height="16.7" fill="#242424"/>
<rect x="217.0" y="385.3" width="5.5" height="16.7" fill="#141414"/>
<rect x="217.0" y="401.4" width="5.5" height="20.7" fill="#242424"/>
<rect x="222.0" y="316.6" width="5.5" height="12.6" fill="#333333"/>
<rect x="222.0" y="328.7" width="5.5" height="8.6" fill="#242424"/>
<rect x="222.0" y="336.8" width="5.5" height="32.8" fill="#141414"/>
<rect x="222.0" y="369.1" width="5.5" height="16.7" fill="#242424"/>
<rect x="222.0" y="385.3" width="5.5" height="16.7" fill="#141414"/>
<rect x="222.0" y="401.4" width="5.5" height="20.7" fill="#242424"/>
<rect x="227.0" y="316.6" width="5.5" height="28.8" fill="#454545"/>
<rect x="227.0" y="344.9" width="5.5" height="8.6" fill="#333333"/>
<rect x="227.0" y="352.9" width="5.5" height="24.8" fill="#242424"/>
<rect x="227.0" y="377.2" width="5.5" height="8.6" fill="#333333"/>
<rect x="227.0" y="385.3" width="5.5" height="8.6" fill="#242424"/>
<rect x="227.0" y="393.4" width="5.5" height="8.6" fill="#141414"/>
<rect x="227.0" y="401.4" width="5.5" height="20.7" fill="#242424"/>
<rect x="232.0" y="316.6" width="5.5" height="36.8" fill="#333333"/>
<rect x="232.0" y="352.9" width="5.5" height="8.6" fill="#454545"/>
<rect x="232.0" y="361.0" width="5.5" height="8.6" fill="#333333"/>
<rect x="232.0" y="369.1" width="5.5" height="8.6" fill="#454545"/>
<rect x="232.0" y="377.2" width="5.5" height="8.6" fill="#5c5c5c"/>
<rect x="232.0" y="385.3" width="5.5" height="16.7" fill="#333333"/>
<rect x="232.0" y="401.4" width="5.5" height="8.6" fill="#242424"/>
<rect x="232.0" y="409.5" width="5.5" height="12.6" fill="#333333"/>
<rect x="237.0" y="316.6" width="5.5" height="20.7" fill="#242424"/>
<rect x="237.0" y="336.8" width="5.5" height="16.7" fill="#141414"/>
<rect x="237.0" y="352.9" width="5.5" height="16.7" fill="#242424"/>
<rect x="237.0" y="369.1" width="5.5" height="8.6" fill="#e6e6e6"/>
<rect x="237.0" y="377.2" width="5.5" height="8.6" fill="#454545"/>
<rect x="237.0" y="385.3" width="5.5" height="36.8" fill="#242424"/>
<rect x="242.0" y="316.6" width="5.5" height="53.0" fill="#242424"/>
<rect x="242.0" y="369.1" width="5.5" height="8.6" fill="#333333"/>
<rect x="242.0" y="377.2" width="5.5" height="32.8" fill="#242424"/>
<rect x="242.0" y="409.5" width="5.5" height="12.6" fill="#333333"/>
<rect x="247.0" y="316.6" width="5.5" height="20.7" fill="#454545"/>
<rect x="247.0" y="336.8" width="5.5" height="8.6" fill="#333333"/>
<rect x="247.0" y="344.9" width="5.5" height="8.6" fill="#242424"/>
<rect x="247.0" y="352.9" width="5.5" height="8.6" fill="#333333"/>
<rect x="247.0" y="361.0" width="5.5" height="24.8" fill="#242424"/>
<rect x="247.0" y="385.3" width="5.5" height="8.6" fill="#333333"/>
<rect x="247.0" y="393.4" width="5.5" height="28.8" fill="#242424"/>
<rect x="252.0" y="316.6" width="5.5" height="12.6" fill="#333333"/>
<rect x="252.0" y="328.7" width="5.5" height="16.7" fill="#242424"/>
<rect x="252.0" y="344.9" width="5.5" height="16.7" fill="#333333"/>
<rect x="252.0" y="361.0" width="5.5" height="8.6" fill="#242424"/>
<rect x="252.0" y="369.1" width="5.5" height="8.6" fill="#454545"/>
<rect x="252.0" y="377.2" width="5.5" height="8.6" fill="#333333"/>
<rect x="252.0" y="385.3" width="5.5" height="16.7" fill="#141414"/>
<rect x="252.0" y="401.4" width="5.5" height="20.7" fill="#242424"/>
<rect x="257.0" y="316.6" width="5.5" height="53.0" fill="#141414"/>
<rect x="257.0" y="369.1" width="5.5" height="8.6" fill="#242424"/>
<rect x="257.0" y="377.2" width="5.5" height="24.8" fill="#141414"/>
<rect x="257.0" y="401.4" width="5.5" height="20.7" fill="#242424"/>
<rect x="262.0" y="316.6" width="5.5" height="53.0" fill="#141414"/>
<rect x="262.0" y="369.1" width="5.5" height="8.6" fill="#333333"/>
<rect x="262.0" y="377.2" width="5.5" height="8.6" fill="#454545"/>
<rect x="262.0" y="385.3" width="5.5" height="16.7" fill="#141414"/>
<rect x="262.0" y="401.4" width="5.5" height="20.7" fill="#242424"/>
<rect x="267.0" y="316.6" width="5.5" height="12.6" fill="#242424"/>
<rect x="267.0" y="328.7" width="5.5" height="8.6" fill="#333333"/>
<rect x="267.0" y="336.8" width="5.5" height="24.8" fill="#242424"/>
<rect x="267.0" y="361.0" width="5.5" height="8.6" fill="#141414"/>
<rect x="267.0" y="369.1" width="5.5" height="8.6" fill="#333333"/>
<rect x="267.0" y="377.2" width="5.5" height="44.9" fill="#242424"/>
<rect x="272.0" y="316.6" width="5.5" height="12.6" fill="#454545"/>
<rect x="272.0" y="328.7" width="5.5" height="24.8" fill="#333333"/>
<rect x="272.0" y="352.9" width="5.5" height="8.6" fill="#242424"/>
<rect x="272.0" y="361.0" width="5.5" height="8.6" fill="#141414"/>
<rect x="272.0" y="369.1" width="5.5" height="53.0" fill="#242424"/>
<rect x="277.0" y="316.6" width="5.5" height="12.6" fill="#333333"/>
<rect x="277.0" y="328.7" width="5.5" height="24.8" fill="#242424"/>
<rect x="277.0" y="352.9" width="5.5" height="16.7" fill="#141414"/>
<rect x="277.0" y="369.1" width="5.5" height="16.7" fill="#242424"/>
<rect x="277.0" y="385.3" width="5.5" height="16.7" fill="#333333"/>
<rect x="277.0" y="401.4" width="5.5" height="8.6" fill="#242424"/>
<rect x="277.0" y="409.5" width="5.5" height="12.6" fill="#333333"/>
<rect x="282.0" y="316.6" width="5.5" height="12.6" fill="#242424"/>
<rect x="282.0" y="328.7" width="5.5" height="40.9" fill="#141414"/>
<rect x="282.0" y="369.1" width="5.5" height="8.6" fill="#333333"/>
<rect x="282.0" y="377.2" width="5.5" height="32.8" fill="#242424"/>
<rect x="282.0" y="409.5" width="5.5" height="12.6" fill="#333333"/>
<rect x="287.0" y="316.6" width="5.5" height="12.6" fill="#333333"/>
<rect x="287.0" y="328.7" width="5.5" height="16.7" fill="#242424"/>
<rect x="287.0" y="344.9" width="5.5" height="24.8" fill="#141414"/>
<rect x="287.0" y="369.1" width="5.5" height="8.6" fill="#333333"/>
<rect x="287.0" y="377.2" width="5.5" height="16.7" fill="#242424"/>
<rect x="287.0" y="393.4" width="5.5" height="8.6" fill="#333333"/>
<rect x="287.0" y="401.4" width="5.5" height="20.7" fill="#242424"/>
<rect x="292.0" y="316.6" width="5.5" height="12.6" fill="#333333"/>
<rect x="292.0" y="328.7" width="5.5" height="24.8" fill="#242424"/>
<rect x="292.0" y="352.9" width="5.5" height="16.7" fill="#141414"/>
<rect x="292.0" y="369.1" width="5.5" height="8.6" fill="#333333"/>
<rect x="292.0" y="377.2" width="5.5" height="16.7" fill="#242424"/>
<rect x="292.0" y="393.4" width="5.5" height="8.6" fill="#333333"/>
<rect x="292.0" y="401.4" width="5.5" height="20.7" fill="#242424"/>
<rect x="297.0" y="316.6" width="5.5" height="12.6" fill="#454545"/>
<rect x="297.0" y="328.7" width="5.5" height="8.6" fill="#333333"/>
<rect x="297.0" y="336.8" width="5.5" height="16.7" fill="#242424"/>
<rect x="297.0" y="352.9" width="5.5" height="16.7" fill="#141414"/>
<rect x="297.0" y="369.1" width="5.5" height="8.6" fill="#333333"/>
<rect x="297.0" y="377.2" width="5.5" height="16.7" fill="#242424"/>
<rect x="297.0" y="393.4" width="5.5" height="8.6" fill="#333333"/>
<rect x="297.0" y="401.4" width="5.5" height="20.7" fill="#242424"/>
<rect x="302.0" y="316.6" width="5.5" height="12.6" fill="#454545"/>
<rect x="302.0" y="328.7" width="5.5" height="24.8" fill="#333333"/>
<rect x="302.0" y="352.9" width="5.5" height="8.6" fill="#242424"/>
<rect x="302.0" y="361.0" width="5.5" height="32.8" fill="#141414"/>
<rect x="302.0" y="393.4" width="5.5" height="16.7" fill="#242424"/>
<rect x="302.0" y="409.5" width="5.5" height="12.6" fill="#333333"/>
<rect x="307.0" y="316.6" width="5.5" height="36.8" fill="#454545"/>
<rect x="307.0" y="352.9" width="5.5" height="8.6" fill="#242424"/>
<rect x="307.0" y="361.0" width="5.5" height="8.6" fill="#141414"/>
<rect x="307.0" y="369.1" width="5.5" height="8.6" fill="#242424"/>
<rect x="307.0" y="377.2" width="5.5" height="8.6" fill="#333333"/>
<rect x="307.0" y="385.3" width="5.5" height="24.8" fill="#242424"/>
<rect x="307.0" y="409.5" width="5.5" height="12.6" fill="#333333"/>
<rect x="312.0" y="316.6" width="5.5" height="20.7" fill="#333333"/>
<rect x="312.0" y="336.8" width="5.5" height="8.6" fill="#242424"/>
<rect x="312.0" y="344.9" width="5.5" height="8.6" fill="#333333"/>
<rect x="312.0" y="352.9" width="5.5" height="8.6" fill="#242424"/>
<rect x="312.0" y="361.0" width="5.5" height="16.7" fill="#141414"/>
<rect x="312.0" y="377.2" width="5.5" height="8.6" fill="#242424"/>
<rect x="312.0" y="385.3" width="5.5" height="8.6" fill="#141414"/>
<rect x="312.0" y="393.4" width="5.5" height="28.8" fill="#242424"/>
<rect x="317.0" y="316.6" width="5.5" height="20.7" fill="#454545"/>
<rect x="317.0" y="336.8" width="5.5" height="8.6" fill="#333333"/>
<rect x="317.0" y="344.9" width="5.5" height="16.7" fill="#242424"/>
<rect x="317.0" y="361.0" width="5.5" height="8.6" fill="#141414"/>
<rect x="317.0" y="369.1" width="5.5" height="8.6" fill="#242424"/>
<rect x="317.0" y="377.2" width="5.5" height="16.7" fill="#333333"/>
<rect x="317.0" y="393.4" width="5.5" height="28.8" fill="#242424"/>
<rect x="322.0" y="316.6" width="5.5" height="28.8" fill="#454545"/>
<rect x="322.0" y="344.9" width="5.5" height="8.6" fill="#333333"/>
<rect x="322.0" y="352.9" width="5.5" height="49.0" fill="#242424"/>
<rect x="322.0" y="401.4" width="5.5" height="8.6" fill="#333333"/>
<rect x="322.0" y="409.5" width="5.5" height="12.6" fill="#242424"/>
<rect x="327.0" y="316.6" width="5.5" height="12.6" fill="#454545"/>
<rect x="327.0" y="328.7" width="5.5" height="8.6" fill="#333333"/>
<rect x="327.0" y="336.8" width="5.5" height="49.0" fill="#242424"/>
<rect x="327.0" y="385.3" width="5.5" height="8.6" fill="#333333"/>
<rect x="327.0" y="393.4" width="5.5" height="28.8" fill="#242424"/>
<rect x="332.0" y="316.6" width="5.5" height="28.8" fill="#454545"/>
<rect x="332.0" y="344.9" width="5.5" height="8.6" fill="#333333"/>
<rect x="332.0" y="352.9" width="5.5" height="16.7" fill="#242424"/>
<rect x="332.0" y="369.1" width="5.5" height="8.6" fill="#454545"/>
<rect x="332.0" y="377.2" width="5.5" height="8.6" fill="#5c5c5c"/>
<rect x="332.0" y="385.3" width="5.5" height="8.6" fill="#333333"/>
<rect x="332.0" y="393.4" width="5.5" height="8.6" fill="#242424"/>
<rect x="332.0" y="401.4" width="5.5" height="8.6" fill="#454545"/>
<rect x="332.0" y="409.5" width="5.5" height="12.6" fill="#5c5c5c"/>
<rect x="337.0" y="316.6" width="5.5" height="36.8" fill="#454545"/>
<rect x="337.0" y="352.9" width="5.5" height="8.6" fill="#333333"/>
<rect x="337.0" y="361.0" width="5.5" height="8.6" fill="#242424"/>
<rect x="337.0" y="369.1" width="5.5" height="8.6" fill="#333333"/>
<rect x="337.0" y="377.2" width="5.5" height="8.6" fill="#5c5c5c"/>
<rect x="337.0" y="385.3" width="5.5" height="8.6" fill="#333333"/>
<rect x="337.0" y="393.4" width="5.5" height="8.6" fill="#242424"/>
<rect x="337.0" y="401.4" width="5.5" height="8.6" fill="#333333"/>
<rect x="337.0" y="409.5" width="5.5" height="12.6" fill="#454545"/>
<rect x="342.0" y="316.6" width="5.5" height="12.6" fill="#fbfbfb"/>
<rect x="342.0" y="328.7" width="5.5" height="8.6" fill="#b8b8b8"/>
<rect x="342.0" y="336.8" width="5.5" height="8.6" fill="#5c5c5c"/>
<rect x="342.0" y="344.9" width="5.5" height="8.6" fill="#454545"/>
<rect x="342.0" y="352.9" width="5.5" height="16.7" fill="#242424"/>
<rect x="342.0" y="369.1" width="5.5" height="8.6" fill="#333333"/>
<rect x="342.0" y="377.2" width="5.5" height="8.6" fill="#5c5c5c"/>
<rect x="342.0" y="385.3" width="5.5" height="8.6" fill="#454545"/>
<rect x="342.0" y="393.4" width="5.5" height="16.7" fill="#333333"/>
<rect x="342.0" y="409.5" width="5.5" height="12.6" fill="#454545"/>
<rect x="347.0" y="316.6" width="5.5" height="12.6" fill="#fbfbfb"/>
<rect x="347.0" y="328.7" width="5.5" height="8.6" fill="#e6e6e6"/>
<rect x="347.0" y="336.8" width="5.5" height="8.6" fill="#999999"/>
<rect x="347.0" y="344.9" width="5.5" height="8.6" fill="#5c5c5c"/>
<rect x="347.0" y="352.9" width="5.5" height="8.6" fill="#333333"/>
<rect x="347.0" y="361.0" width="5.5" height="16.7" fill="#242424"/>
<rect x="347.0" y="377.2" width="5.5" height="16.7" fill="#5c5c5c"/>
<rect x="347.0" y="393.4" width="5.5" height="16.7" fill="#333333"/>
<rect x="347.0" y="409.5" width="5.5" height="12.6" fill="#454545"/>
<rect x="352.0" y="316.6" width="5.5" height="20.7" fill="#fbfbfb"/>
<rect x="352.0" y="336.8" width="5.5" height="8.6" fill="#b8b8b8"/>
<rect x="352.0" y="344.9" width="5.5" height="8.6" fill="#5c5c5c"/>
<rect x="352.0" y="352.9" width="5.5" height="8.6" fill="#333333"/>
<rect x="352.0" y="361.0" width="5.5" height="8.6" fill="#242424"/>
<rect x="352.0" y="369.1" width="5.5" height="8.6" fill="#141414"/>
<rect x="352.0" y="377.2" width="5.5" height="16.7" fill="#242424"/>
<rect x="352.0" y="393.4" width="5.5" height="16.7" fill="#333333"/>
<rect x="352.0" y="409.5" width="5.5" height="12.6" fill="#454545"/>
<rect x="357.0" y="316.6" width="5.5" height="12.6" fill="#fbfbfb"/>
<rect x="357.0" y="328.7" width="5.5" height="8.6" fill="#e6e6e6"/>
<rect x="357.0" y="336.8" width="5.5" height="8.6" fill="#999999"/>
<rect x="357.0" y="344.9" width="5.5" height="8.6" fill="#5c5c5c"/>
<rect x="357.0" y="352.9" width="5.5" height="8.6" fill="#333333"/>
<rect x="357.0" y="361.0" width="5.5" height="8.6" fill="#242424"/>
<rect x="357.0" y="369.1" width="5.5" height="8.6" fill="#333333"/>
<rect x="357.0" y="377.2" width="5.5" height="8.6" fill="#5c5c5c"/>
<rect x="357.0" y="385.3" width="5.5" height="8.6" fill="#b8b8b8"/>
<rect x="357.0" y="393.4" width="5.5" height="8.6" fill="#5c5c5c"/>
<rect x="357.0" y="401.4" width="5.5" height="8.6" fill="#242424"/>
<rect x="357.0" y="409.5" width="5.5" height="12.6" fill="#454545"/>
<rect x="362.0" y="316.6" width="5.5" height="12.6" fill="#b8b8b8"/>
<rect x="362.0" y="328.7" width="5.5" height="8.6" fill="#999999"/>
<rect x="362.0" y="336.8" width="5.5" height="8.6" fill="#5c5c5c"/>
<rect x="362.0" y="344.9" width="5.5" height="8.6" fill="#333333"/>
<rect x="362.0" y="352.9" width="5.5" height="8.6" fill="#242424"/>
<rect x="362.0" y="361.0" width="5.5" height="8.6" fill="#454545"/>
<rect x="362.0" y="369.1" width="5.5" height="8.6" fill="#999999"/>
<rect x="362.0" y="377.2" width="5.5" height="16.7" fill="#b8b8b8"/>
<rect x="362.0" y="393.4" width="5.5" height="8.6" fill="#999999"/>
<rect x="362.0" y="401.4" width="5.5" height="8.6" fill="#333333"/>
<rect x="362.0" y="409.5" width="5.5" height="12.6" fill="#5c5c5c"/>
<rect x="367.0" y="316.6" width="5.5" height="12.6" fill="#e6e6e6"/>
<rect x="367.0" y="328.7" width="5.5" height="8.6" fill="#b8b8b8"/>
<rect x="367.0" y="336.8" width="5.5" height="8.6" fill="#5c5c5c"/>
<rect x="367.0" y="344.9" width="5.5" height="8.6" fill="#242424"/>
<rect x="367.0" y="352.9" width="5.5" height="8.6" fill="#5c5c5c"/>
<rect x="367.0" y="361.0" width="5.5" height="8.6" fill="#999999"/>
<rect x="367.0" y="369.1" width="5.5" height="8.6" fill="#5c5c5c"/>
<rect x="367.0" y="377.2" width="5.5" height="8.6" fill="#999999"/>
<rect x="367.0" y="385.3" width="5.5" height="16.7" fill="#5c5c5c"/>
<rect x="367.0" y="401.4" width="5.5" height="8.6" fill="#242424"/>
<rect x="367.0" y="409.5" width="5.5" height="12.6" fill="#454545"/>
<rect x="372.0" y="316.6" width="5.5" height="12.6" fill="#fbfbfb"/>
<rect x="372.0" y="328.7" width="5.5" height="8.6" fill="#e6e6e6"/>
<rect x="372.0" y="336.8" width="5.5" height="16.7" fill="#b8b8b8"/>
<rect x="372.0" y="352.9" width="5.5" height="16.7" fill="#999999"/>
<rect x="372.0" y="369.1" width="5.5" height="8.6" fill="#b8b8b8"/>
<rect x="372.0" y="377.2" width="5.5" height="16.7" fill="#fbfbfb"/>
<rect x="372.0" y="393.4" width="5.5" height="8.6" fill="#e6e6e6"/>
<rect x="372.0" y="401.4" width="5.5" height="8.6" fill="#5c5c5c"/>
<rect x="372.0" y="409.5" width="5.5" height="12.6" fill="#999999"/>
<rect x="377.0" y="316.6" width="5.5" height="12.6" fill="#fbfbfb"/>
<rect x="377.0" y="328.7" width="5.5" height="8.6" fill="#e6e6e6"/>
<rect x="377.0" y="336.8" width="5.5" height="8.6" fill="#b8b8b8"/>
<rect x="377.0" y="344.9" width="5.5" height="8.6" fill="#e6e6e6"/>
<rect x="377.0" y="352.9" width="5.5" height="8.6" fill="#b8b8b8"/>
<rect x="377.0" y="361.0" width="5.5" height="8.6" fill="#999999"/>
<rect x="377.0" y="369.1" width="5.5" height="8.6" fill="#b8b8b8"/>
<rect x="377.0" y="377.2" width="5.5" height="8.6" fill="#999999"/>
<rect x="377.0" y="385.3" width="5.5" height="8.6" fill="#5c5c5c"/>
<rect x="377.0" y="393.4" width="5.5" height="8.6" fill="#454545"/>
<rect x="377.0" y="401.4" width="5.5" height="8.6" fill="#333333"/>
<rect x="377.0" y="409.5" width="5.5" height="12.6" fill="#5c5c5c"/>
<rect x="382.0" y="316.6" width="5.5" height="12.6" fill="#b8b8b8"/>
<rect x="382.0" y="328.7" width="5.5" height="8.6" fill="#999999"/>
<rect x="382.0" y="336.8" width="5.5" height="8.6" fill="#454545"/>
<rect x="382.0" y="344.9" width="5.5" height="8.6" fill="#999999"/>
<rect x="382.0" y="352.9" width="5.5" height="8.6" fill="#b8b8b8"/>
<rect x="382.0" y="361.0" width="5.5" height="8.6" fill="#999999"/>
<rect x="382.0" y="369.1" width="5.5" height="8.6" fill="#b8b8b8"/>
<rect x="382.0" y="377.2" width="5.5" height="8.6" fill="#999999"/>
<rect x="382.0" y="385.3" width="5.5" height="16.7" fill="#b8b8b8"/>
<rect x="382.0" y="401.4" width="5.5" height="8.6" fill="#454545"/>
<rect x="382.0" y="409.5" width="5.5" height="12.6" fill="#242424"/>
<rect x="387.0" y="316.6" width="5.5" height="20.7" fill="#5c5c5c"/>
<rect x="387.0" y="336.8" width="5.5" height="8.6" fill="#454545"/>
<rect x="387.0" y="344.9" width="5.5" height="8.6" fill="#5c5c5c"/>
<rect x="387.0" y="352.9" width="5.5" height="8.6" fill="#999999"/>
<rect x="387.0" y="361.0" width="5.5" height="8.6" fill="#b8b8b8"/>
<rect x="387.0" y="369.1" width="5.5" height="8.6" fill="#999999"/>
<rect x="387.0" y="377.2" width="5.5" height="8.6" fill="#b8b8b8"/>
<rect x="387.0" y="385.3" width="5.5" height="16.7" fill="#e6e6e6"/>
<rect x="387.0" y="401.4" width="5.5" height="8.6" fill="#333333"/>
<rect x="387.0" y="409.5" width="5.5" height="12.6" fill="#454545"/>
<rect x="392.0" y="316.6" width="5.5" height="12.6" fill="#454545"/>
<rect x="392.0" y="328.7" width="5.5" height="24.8" fill="#242424"/>
<rect x="392.0" y="352.9" width="5.5" height="8.6" fill="#5c5c5c"/>
<rect x="392.0" y="361.0" width="5.5" height="8.6" fill="#e6e6e6"/>
<rect x="392.0" y="369.1" width="5.5" height="8.6" fill="#5c5c5c"/>
<rect x="392.0" y="377.2" width="5.5" height="16.7" fill="#999999"/>
<rect x="392.0" y="393.4" width="5.5" height="8.6" fill="#5c5c5c"/>
<rect x="392.0" y="401.4" width="5.5" height="20.7" fill="#242424"/>
<rect x="397.0" y="316.6" width="5.5" height="20.7" fill="#5c5c5c"/>
<rect x="397.0" y="336.8" width="5.5" height="8.6" fill="#454545"/>
<rect x="397.0" y="344.9" width="5.5" height="8.6" fill="#5c5c5c"/>
<rect x="397.0" y="352.9" width="5.5" height="8.6" fill="#454545"/>
<rect x="397.0" y="361.0" width="5.5" height="16.7" fill="#b8b8b8"/>
<rect x="397.0" y="377.2" width="5.5" height="8.6" fill="#fbfbfb"/>
<rect x="397.0" y="385.3" width="5.5" height="8.6" fill="#e6e6e6"/>
<rect x="397.0" y="393.4" width="5.5" height="8.6" fill="#5c5c5c"/>
<rect x="397.0" y="401.4" width="5.5" height="8.6" fill="#242424"/>
<rect x="397.0" y="409.5" width="5.5" height="12.6" fill="#454545"/>
<rect x="402.0" y="316.6" width="5.5" height="12.6" fill="#333333"/>
<rect x="402.0" y="328.7" width="5.5" height="24.8" fill="#242424"/>
<rect x="402.0" y="352.9" width="5.5" height="8.6" fill="#333333"/>
<rect x="402.0" y="361.0" width="5.5" height="8.6" fill="#454545"/>
<rect x="402.0" y="369.1" width="5.5" height="8.6" fill="#b8b8b8"/>
<rect x="402.0" y="377.2" width="5.5" height="8.6" fill="#e6e6e6"/>
<rect x="402.0" y="385.3" width="5.5" height="8.6" fill="#b8b8b8"/>
<rect x="402.0" y="393.4" width="5.5" height="8.6" fill="#454545"/>
<rect x="402.0" y="401.4" width="5.5" height="8.6" fill="#242424"/>
<rect x="402.0" y="409.5" width="5.5" height="12.6" fill="#5c5c5c"/>
<rect x="407.0" y="316.6" width="5.5" height="20.7" fill="#454545"/>
<rect x="407.0" y="336.8" width="5.5" height="8.6" fill="#333333"/>
<rect x="407.0" y="344.9" width="5.5" height="8.6" fill="#242424"/>
<rect x="407.0" y="352.9" width="5.5" height="16.7" fill="#141414"/>
<rect x="407.0" y="369.1" width="5.5" height="8.6" fill="#242424"/>
<rect x="407.0" y="377.2" width="5.5" height="8.6" fill="#141414"/>
<rect x="407.0" y="385.3" width="5.5" height="16.7" fill="#242424"/>
<rect x="407.0" y="401.4" width="5.5" height="8.6" fill="#454545"/>
<rect x="407.0" y="409.5" width="5.5" height="12.6" fill="#5c5c5c"/>
<rect x="412.0" y="316.6" width="5.5" height="12.6" fill="#333333"/>
<rect x="412.0" y="328.7" width="5.5" height="32.8" fill="#454545"/>
<rect x="412.0" y="361.0" width="5.5" height="16.7" fill="#333333"/>
<rect x="412.0" y="377.2" width="5.5" height="16.7" fill="#242424"/>
<rect x="412.0" y="393.4" width="5.5" height="8.6" fill="#333333"/>
<rect x="412.0" y="401.4" width="5.5" height="8.6" fill="#b8b8b8"/>
<rect x="412.0" y="409.5" width="5.5" height="12.6" fill="#e6e6e6"/>
<rect x="417.0" y="316.6" width="5.5" height="53.0" fill="#fbfbfb"/>
<rect x="417.0" y="369.1" width="5.5" height="8.6" fill="#333333"/>
<rect x="417.0" y="377.2" width="5.5" height="16.7" fill="#141414"/>
<rect x="417.0" y="393.4" width="5.5" height="8.6" fill="#242424"/>
<rect x="417.0" y="401.4" width="5.5" height="8.6" fill="#b8b8b8"/>
<rect x="417.0" y="409.5" width="5.5" height="12.6" fill="#fbfbfb"/>
<rect x="422.0" y="316.6" width="5.5" height="12.6" fill="#e6e6e6"/>
<rect x="422.0" y="328.7" width="5.5" height="16.7" fill="#b8b8b8"/>
<rect x="422.0" y="344.9" width="5.5" height="16.7" fill="#e6e6e6"/>
<rect x="422.0" y="361.0" width="5.5" height="8.6" fill="#b8b8b8"/>
<rect x="422.0" y="369.1" width="5.5" height="8.6" fill="#fbfbfb"/>
<rect x="422.0" y="377.2" width="5.5" height="8.6" fill="#999999"/>
<rect x="422.0" y="385.3" width="5.5" height="8.6" fill="#5c5c5c"/>
<rect x="422.0" y="393.4" width="5.5" height="16.7" fill="#454545"/>
<rect x="422.0" y="409.5" width="5.5" height="12.6" fill="#5c5c5c"/>
<rect x="427.0" y="316.6" width="5.5" height="12.6" fill="#b8b8b8"/>
<rect x="427.0" y="328.7" width="5.5" height="40.9" fill="#e6e6e6"/>
<rect x="427.0" y="369.1" width="5.5" height="8.6" fill="#b8b8b8"/>
<rect x="427.0" y="377.2" width="5.5" height="16.7" fill="#999999"/>
<rect x="427.0" y="393.4" width="5.5" height="8.6" fill="#5c5c5c"/>
<rect x="427.0" y="401.4" width="5.5" height="8.6" fill="#e6e6e6"/>
<rect x="427.0" y="409.5" width="5.5" height="12.6" fill="#5c5c5c"/>
<rect x="432.0" y="316.6" width="5.5" height="28.8" fill="#fbfbfb"/>
<rect x="432.0" y="344.9" width="5.5" height="16.7" fill="#e6e6e6"/>
<rect x="432.0" y="361.0" width="5.5" height="8.6" fill="#b8b8b8"/>
<rect x="432.0" y="369.1" width="5.5" height="8.6" fill="#e6e6e6"/>
<rect x="432.0" y="377.2" width="5.5" height="8.6" fill="#333333"/>
<rect x="432.0" y="385.3" width="5.5" height="16.7" fill="#242424"/>
<rect x="432.0" y="401.4" width="5.5" height="8.6" fill="#333333"/>
<rect x="432.0" y="409.5" width="5.5" height="12.6" fill="#242424"/>
<rect x="437.0" y="316.6" width="5.5" height="28.8" fill="#b8b8b8"/>
<rect x="437.0" y="344.9" width="5.5" height="8.6" fill="#999999"/>
<rect x="437.0" y="352.9" width="5.5" height="8.6" fill="#454545"/>
<rect x="437.0" y="361.0" width="5.5" height="16.7" fill="#242424"/>
<rect x="437.0" y="377.2" width="5.5" height="44.9" fill="#141414"/>
<rect x="442.0" y="316.6" width="5.5" height="28.8" fill="#454545"/>
<rect x="442.0" y="344.9" width="5.5" height="8.6" fill="#333333"/>
<rect x="442.0" y="352.9" width="5.5" height="16.7" fill="#242424"/>
<rect x="442.0" y="369.1" width="5.5" height="24.8" fill="#141414"/>
<rect x="442.0" y="393.4" width="5.5" height="8.6" fill="#242424"/>
<rect x="442.0" y="401.4" width="5.5" height="8.6" fill="#333333"/>
<rect x="442.0" y="409.5" width="5.5" height="12.6" fill="#b8b8b8"/>
<rect x="447.0" y="316.6" width="5.5" height="20.7" fill="#5c5c5c"/>
<rect x="447.0" y="336.8" width="5.5" height="8.6" fill="#999999"/>
<rect x="447.0" y="344.9" width="5.5" height="16.7" fill="#5c5c5c"/>
<rect x="447.0" y="361.0" width="5.5" height="8.6" fill="#454545"/>
<rect x="447.0" y="369.1" width="5.5" height="8.6" fill="#b8b8b8"/>
<rect x="447.0" y="377.2" width="5.5" height="16.7" fill="#999999"/>
<rect x="447.0" y="393.4" width="5.5" height="16.7" fill="#b8b8b8"/>
<rect x="447.0" y="409.5" width="5.5" height="12.6" fill="#e6e6e6"/>
<rect x="452.0" y="316.6" width="5.5" height="36.8" fill="#fbfbfb"/>
<rect x="452.0" y="352.9" width="5.5" height="16.7" fill="#e6e6e6"/>
<rect x="452.0" y="369.1" width="5.5" height="32.8" fill="#141414"/>
<rect x="452.0" y="401.4" width="5.5" height="20.7" fill="#242424"/>
<rect x="457.0" y="316.6" width="5.5" height="12.6" fill="#e6e6e6"/>
<rect x="457.0" y="328.7" width="5.5" height="16.7" fill="#b8b8b8"/>
<rect x="457.0" y="344.9" width="5.5" height="24.8" fill="#e6e6e6"/>
<rect x="457.0" y="369.1" width="5.5" height="16.7" fill="#242424"/>
<rect x="457.0" y="385.3" width="5.5" height="8.6" fill="#141414"/>
<rect x="457.0" y="393.4" width="5.5" height="16.7" fill="#242424"/>
<rect x="457.0" y="409.5" width="5.5" height="12.6" fill="#333333"/>
<rect x="462.0" y="316.6" width="5.5" height="28.8" fill="#999999"/>
<rect x="462.0" y="344.9" width="5.5" height="8.6" fill="#5c5c5c"/>
<rect x="462.0" y="352.9" width="5.5" height="8.6" fill="#999999"/>
<rect x="462.0" y="361.0" width="5.5" height="8.6" fill="#b8b8b8"/>
<rect x="462.0" y="369.1" width="5.5" height="8.6" fill="#fbfbfb"/>
<rect x="462.0" y="377.2" width="5.5" height="8.6" fill="#e6e6e6"/>
<rect x="462.0" y="385.3" width="5.5" height="8.6" fill="#b8b8b8"/>
<rect x="462.0" y="393.4" width="5.5" height="8.6" fill="#5c5c5c"/>
<rect x="462.0" y="401.4" width="5.5" height="8.6" fill="#b8b8b8"/>
<rect x="462.0" y="409.5" width="5.5" height="12.6" fill="#e6e6e6"/>
<rect x="467.0" y="316.6" width="5.5" height="12.6" fill="#b8b8b8"/>
<rect x="467.0" y="328.7" width="5.5" height="8.6" fill="#999999"/>
<rect x="467.0" y="336.8" width="5.5" height="16.7" fill="#5c5c5c"/>
<rect x="467.0" y="352.9" width="5.5" height="8.6" fill="#333333"/>
<rect x="467.0" y="361.0" width="5.5" height="61.1" fill="#242424"/>
<rect x="472.0" y="316.6" width="5.5" height="12.6" fill="#fbfbfb"/>
<rect x="472.0" y="328.7" width="5.5" height="8.6" fill="#e6e6e6"/>
<rect x="472.0" y="336.8" width="5.5" height="16.7" fill="#333333"/>
<rect x="472.0" y="352.9" width="5.5" height="24.8" fill="#242424"/>
<rect x="472.0" y="377.2" width="5.5" height="8.6" fill="#454545"/>
<rect x="472.0" y="385.3" width="5.5" height="8.6" fill="#5c5c5c"/>
<rect x="472.0" y="393.4" width="5.5" height="8.6" fill="#454545"/>
<rect x="472.0" y="401.4" width="5.5" height="20.7" fill="#242424"/>
<rect x="477.0" y="316.6" width="5.5" height="20.7" fill="#fbfbfb"/>
<rect x="477.0" y="336.8" width="5.5" height="8.6" fill="#e6e6e6"/>
<rect x="477.0" y="344.9" width="5.5" height="8.6" fill="#5c5c5c"/>
<rect x="477.0" y="352.9" width="5.5" height="69.2" fill="#242424"/>
<rect x="482.0" y="316.6" width="5.5" height="44.9" fill="#fbfbfb"/>
<rect x="482.0" y="361.0" width="5.5" height="8.6" fill="#e6e6e6"/>
<rect x="482.0" y="369.1" width="5.5" height="16.7" fill="#5c5c5c"/>
<rect x="482.0" y="385.3" width="5.5" height="8.6" fill="#b8b8b8"/>
<rect x="482.0" y="393.4" width="5.5" height="8.6" fill="#999999"/>
<rect x="482.0" y="401.4" width="5.5" height="20.7" fill="#b8b8b8"/>
<rect x="487.0" y="316.6" width="5.5" height="69.2" fill="#fbfbfb"/>
<rect x="487.0" y="385.3" width="5.5" height="8.6" fill="#e6e6e6"/>
<rect x="487.0" y="393.4" width="5.5" height="8.6" fill="#999999"/>
<rect x="487.0" y="401.4" width="5.5" height="20.7" fill="#b8b8b8"/>
<rect x="492.0" y="316.6" width="5.5" height="77.2" fill="#fbfbfb"/>
<rect x="492.0" y="393.4" width="5.5" height="8.6" fill="#e6e6e6"/>
<rect x="492.0" y="401.4" width="5.5" height="20.7" fill="#b8b8b8"/>
<rect x="497.0" y="316.6" width="5.5" height="85.3" fill="#fbfbfb"/>
<rect x="497.0" y="401.4" width="5.5" height="20.7" fill="#e6e6e6"/>
<rect x="502.0" y="316.6" width="5.5" height="105.5" fill="#fbfbfb"/>
<rect x="507.0" y="316.6" width="9.5" height="105.5" fill="#fbfbfb"/></g><g fill="#1020c0" opacity="0.85"></g><polyline points="100.0,324.7 150.0,323.7 200.0,323.1 300.0,321.9 473.3,321.6" fill="none" stroke="#ff9a20" stroke-width="1.2" opacity="0.6"/><polyline points="54.8,416.1 100.0,416.9 160.0,417.7 495.0,417.7" fill="none" stroke="#60f0b0" stroke-width="1.6" opacity="0.75"/></g><rect x="199.5" y="389.0" width="39.3" height="15.7" fill="none" stroke="#fff" stroke-width="1.6"/>
</svg>
</body></html>
